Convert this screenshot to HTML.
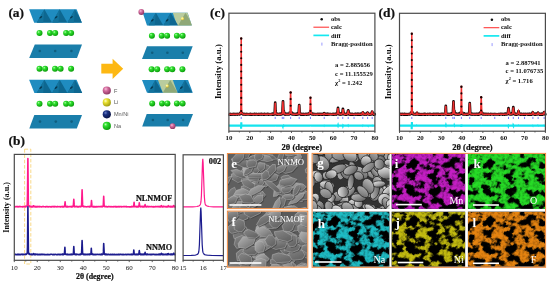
<!DOCTYPE html><html><head><meta charset="utf-8"><title>figure</title><style>html,body{margin:0;padding:0;background:#fff;width:550px;height:284px;overflow:hidden}svg{display:block}</style></head><body>
<svg width="550" height="284" viewBox="0 0 550 284">
<defs>
<radialGradient id="gNa" cx="0.35" cy="0.32" r="0.7"><stop offset="0" stop-color="#b8ffb0"/><stop offset="0.3" stop-color="#30e030"/><stop offset="1" stop-color="#089a08"/></radialGradient>
<radialGradient id="gF" cx="0.38" cy="0.32" r="0.7"><stop offset="0" stop-color="#f6c0da"/><stop offset="0.35" stop-color="#d46c9e"/><stop offset="1" stop-color="#8a3560"/></radialGradient>
<radialGradient id="gLi" cx="0.35" cy="0.32" r="0.7"><stop offset="0" stop-color="#ffffc0"/><stop offset="0.35" stop-color="#e8e030"/><stop offset="1" stop-color="#a09a10"/></radialGradient>
<radialGradient id="gMn" cx="0.35" cy="0.32" r="0.7"><stop offset="0" stop-color="#6a80c8"/><stop offset="0.35" stop-color="#1a3080"/><stop offset="1" stop-color="#0a1446"/></radialGradient>
<radialGradient id="gLiS" cx="0.4" cy="0.35" r="0.7"><stop offset="0" stop-color="#ffffd0"/><stop offset="0.5" stop-color="#f0e060"/><stop offset="1" stop-color="#c0a830"/></radialGradient>
</defs>
<text x="8.4" y="16.9" font-family="'Liberation Serif', 'Times New Roman', serif" font-size="13.4" font-weight="bold" fill="#111" text-anchor="start"  stroke="#111" stroke-width="0.22">(a)</text>
<polygon points="29.1,9.2 76.6,9.2 81.9,22.7 34.2,22.7" fill="#1f8cc0"/>
<clipPath id="cl5"><polygon points="29.1,9.2 76.6,9.2 81.9,22.7 34.2,22.7"/></clipPath>
<g clip-path="url(#cl5)">
<polygon points="44.4,9.2 52.05,22.7 36.75,22.7" fill="#0e6790"/>
<polygon points="44.4,9.2 43.2,22.7 36.75,22.7" fill="#13739d"/>
<ellipse cx="40.8" cy="17.3" rx="1.7" ry="0.75" transform="rotate(-40 40.8 17.3)" fill="#07374e"/>
<polygon points="59.7,9.2 67.35,22.7 52.05,22.7" fill="#0e6790"/>
<polygon points="59.7,9.2 58.5,22.7 52.05,22.7" fill="#13739d"/>
<ellipse cx="56.1" cy="17.3" rx="1.7" ry="0.75" transform="rotate(-40 56.1 17.3)" fill="#07374e"/>
<polygon points="75,9.2 82.65,22.7 67.35,22.7" fill="#0e6790"/>
<polygon points="75,9.2 73.8,22.7 67.35,22.7" fill="#13739d"/>
<ellipse cx="71.4" cy="17.3" rx="1.7" ry="0.75" transform="rotate(-40 71.4 17.3)" fill="#07374e"/>
</g>
<circle cx="39.5" cy="33.1" r="3.0" fill="url(#gNa)"/>
<circle cx="50" cy="33.1" r="3.0" fill="url(#gNa)"/>
<circle cx="55.2" cy="33.1" r="3.0" fill="url(#gNa)"/>
<circle cx="66.1" cy="33.1" r="3.0" fill="url(#gNa)"/>
<circle cx="71.1" cy="33.1" r="3.0" fill="url(#gNa)"/>
<polygon points="34.8,44.5 82,44.5 77,58 29.2,58" fill="#1a7eaa"/>
<circle cx="39.8" cy="51" r="1.3" fill="#0f5878" opacity="0.85"/>
<circle cx="55.2" cy="51" r="1.3" fill="#0f5878" opacity="0.85"/>
<circle cx="71.4" cy="51" r="1.3" fill="#0f5878" opacity="0.85"/>
<circle cx="39.5" cy="68.8" r="3.0" fill="url(#gNa)"/>
<circle cx="45.1" cy="68.8" r="3.0" fill="url(#gNa)"/>
<circle cx="55" cy="68.8" r="3.0" fill="url(#gNa)"/>
<circle cx="60.6" cy="68.8" r="3.0" fill="url(#gNa)"/>
<circle cx="71.1" cy="68.8" r="3.0" fill="url(#gNa)"/>
<polygon points="29.1,79.7 76.6,79.7 82.2,92.9 34.4,92.9" fill="#1f8cc0"/>
<clipPath id="cl32"><polygon points="29.1,79.7 76.6,79.7 82.2,92.9 34.4,92.9"/></clipPath>
<g clip-path="url(#cl32)">
<polygon points="44.4,79.7 52.05,92.9 36.75,92.9" fill="#0e6790"/>
<polygon points="44.4,79.7 43.2,92.9 36.75,92.9" fill="#13739d"/>
<ellipse cx="40.8" cy="87.62" rx="1.7" ry="0.75" transform="rotate(-40 40.8 87.62)" fill="#07374e"/>
<polygon points="59.7,79.7 67.35,92.9 52.05,92.9" fill="#0e6790"/>
<polygon points="59.7,79.7 58.5,92.9 52.05,92.9" fill="#13739d"/>
<ellipse cx="56.1" cy="87.62" rx="1.7" ry="0.75" transform="rotate(-40 56.1 87.62)" fill="#07374e"/>
<polygon points="75,79.7 82.65,92.9 67.35,92.9" fill="#0e6790"/>
<polygon points="75,79.7 73.8,92.9 67.35,92.9" fill="#13739d"/>
<ellipse cx="71.4" cy="87.62" rx="1.7" ry="0.75" transform="rotate(-40 71.4 87.62)" fill="#07374e"/>
</g>
<circle cx="39.5" cy="103.8" r="3.0" fill="url(#gNa)"/>
<circle cx="50" cy="103.8" r="3.0" fill="url(#gNa)"/>
<circle cx="55.2" cy="103.8" r="3.0" fill="url(#gNa)"/>
<circle cx="66.1" cy="103.8" r="3.0" fill="url(#gNa)"/>
<circle cx="71.1" cy="103.8" r="3.0" fill="url(#gNa)"/>
<polygon points="34.3,114.9 82,114.9 76.8,128.4 29.3,128.4" fill="#1a7eaa"/>
<circle cx="40" cy="121.6" r="1.3" fill="#0f5878" opacity="0.85"/>
<circle cx="55.8" cy="121.6" r="1.3" fill="#0f5878" opacity="0.85"/>
<circle cx="71.6" cy="121.6" r="1.3" fill="#0f5878" opacity="0.85"/>
<polygon points="142.7,12.7 187.6,12.7 191.8,25.4 147,25.4" fill="#1f8cc0"/>
<polygon points="172.8,12.7 187.6,12.7 191.8,25.4 177,25.4" fill="#b9cc9e"/>
<clipPath id="cl55"><polygon points="142.7,12.7 187.6,12.7 191.8,25.4 147,25.4"/></clipPath>
<g clip-path="url(#cl55)">
<polygon points="155.9,12.7 163.3,25.4 148.5,25.4" fill="#0e6790"/>
<polygon points="155.9,12.7 154.7,25.4 148.5,25.4" fill="#13739d"/>
<ellipse cx="152.3" cy="20.32" rx="1.7" ry="0.75" transform="rotate(-40 152.3 20.32)" fill="#07374e"/>
<polygon points="170.7,12.7 178.1,25.4 163.3,25.4" fill="#0e6790"/>
<polygon points="170.7,12.7 169.5,25.4 163.3,25.4" fill="#13739d"/>
<ellipse cx="167.1" cy="20.32" rx="1.7" ry="0.75" transform="rotate(-40 167.1 20.32)" fill="#07374e"/>
<polygon points="185.5,12.7 192.9,25.4 178.1,25.4" fill="#8fa877"/>
<circle cx="182.5" cy="18.67" r="1.7" fill="url(#gLiS)"/>
</g>
<circle cx="141.3" cy="12" r="2.9" fill="url(#gF)"/>
<circle cx="151.9" cy="35.7" r="3.0" fill="url(#gNa)"/>
<circle cx="161.7" cy="35.7" r="3.0" fill="url(#gNa)"/>
<circle cx="167.1" cy="35.7" r="3.0" fill="url(#gNa)"/>
<circle cx="176.9" cy="35.7" r="3.0" fill="url(#gNa)"/>
<circle cx="182.6" cy="35.7" r="3.0" fill="url(#gNa)"/>
<polygon points="147,46.3 192.7,46.3 187.8,59 142,59" fill="#1a7eaa"/>
<circle cx="152.2" cy="52.7" r="1.3" fill="#0f5878" opacity="0.85"/>
<circle cx="167.4" cy="52.7" r="1.3" fill="#0f5878" opacity="0.85"/>
<circle cx="182.8" cy="52.7" r="1.3" fill="#0f5878" opacity="0.85"/>
<circle cx="151.6" cy="69.3" r="3.0" fill="url(#gNa)"/>
<circle cx="157.2" cy="69.3" r="3.0" fill="url(#gNa)"/>
<circle cx="167.1" cy="69.3" r="3.0" fill="url(#gNa)"/>
<circle cx="172.3" cy="69.3" r="3.0" fill="url(#gNa)"/>
<circle cx="182.4" cy="69.3" r="3.0" fill="url(#gNa)"/>
<polygon points="142,80 188.1,80 192.8,92.7 147,92.7" fill="#1f8cc0"/>
<polygon points="158,80 172.8,80 177.5,92.7 162.8,92.7" fill="#b9cc9e"/>
<clipPath id="cl83"><polygon points="142,80 188.1,80 192.8,92.7 147,92.7"/></clipPath>
<g clip-path="url(#cl83)">
<polygon points="155.4,80 162.8,92.7 148,92.7" fill="#0e6790"/>
<polygon points="155.4,80 154.2,92.7 148,92.7" fill="#13739d"/>
<ellipse cx="151.8" cy="87.62" rx="1.7" ry="0.75" transform="rotate(-40 151.8 87.62)" fill="#07374e"/>
<polygon points="170.2,80 177.6,92.7 162.8,92.7" fill="#8fa877"/>
<circle cx="167.2" cy="85.97" r="1.7" fill="url(#gLiS)"/>
<polygon points="185,80 192.4,92.7 177.6,92.7" fill="#0e6790"/>
<polygon points="185,80 183.8,92.7 177.6,92.7" fill="#13739d"/>
<ellipse cx="181.4" cy="87.62" rx="1.7" ry="0.75" transform="rotate(-40 181.4 87.62)" fill="#07374e"/>
</g>
<circle cx="152.2" cy="103.4" r="3.0" fill="url(#gNa)"/>
<circle cx="162" cy="103.4" r="3.0" fill="url(#gNa)"/>
<circle cx="167.4" cy="103.4" r="3.0" fill="url(#gNa)"/>
<circle cx="176.9" cy="103.4" r="3.0" fill="url(#gNa)"/>
<circle cx="182.6" cy="103.4" r="3.0" fill="url(#gNa)"/>
<polygon points="146.7,113.9 193,113.9 188,126.6 142.2,126.6" fill="#1a7eaa"/>
<circle cx="152.9" cy="120" r="1.3" fill="#0f5878" opacity="0.85"/>
<circle cx="167.7" cy="120" r="1.3" fill="#0f5878" opacity="0.85"/>
<circle cx="183.1" cy="120" r="1.3" fill="#0f5878" opacity="0.85"/>
<circle cx="172.6" cy="126.2" r="2.9" fill="url(#gF)"/>
<polygon points="101.3,63.7 112.6,63.7 112.6,58.7 123.2,68.7 112.6,78.9 112.6,73.5 101.3,73.5" fill="#fdb813"/>
<circle cx="106.8" cy="90.5" r="4.1" fill="url(#gF)"/>
<text x="113.9" y="92.5" font-family="'Liberation Sans', Arial, sans-serif" font-size="5.6" font-weight="normal" fill="#5a5a5a" text-anchor="start" >F</text>
<circle cx="106.8" cy="102.4" r="4.1" fill="url(#gLi)"/>
<text x="113.9" y="104.4" font-family="'Liberation Sans', Arial, sans-serif" font-size="5.6" font-weight="normal" fill="#5a5a5a" text-anchor="start" >Li</text>
<circle cx="106.8" cy="114.3" r="4.1" fill="url(#gMn)"/>
<text x="113.9" y="116.3" font-family="'Liberation Sans', Arial, sans-serif" font-size="5.6" font-weight="normal" fill="#5a5a5a" text-anchor="start" >Mn/Ni</text>
<circle cx="106.8" cy="125.9" r="4.1" fill="url(#gNa)"/>
<text x="113.9" y="127.9" font-family="'Liberation Sans', Arial, sans-serif" font-size="5.6" font-weight="normal" fill="#5a5a5a" text-anchor="start" >Na</text>
<text x="210" y="16.95" font-family="'Liberation Serif', 'Times New Roman', serif" font-size="13.4" font-weight="bold" fill="#111" text-anchor="start"  stroke="#111" stroke-width="0.22">(c)</text>
<path d="M228.9,114.1 229.1,114.3 229.3,114.2 229.7,114.4 230.2,114 230.4,114.5 230.6,114.1 230.8,114.1 231,114.6 231.2,114.3 231.4,114.5 231.6,114.3 231.8,114.4 232,114.1 232.4,114.5 232.7,114.3 233.1,114.4 233.3,114 233.5,114.4 234.1,114 234.3,114.5 234.5,114.3 235.4,114.5 235.6,114.2 235.8,114.5 236,114.2 236.2,114.5 236.4,114.5 236.6,114 237,114.1 237.2,114.5 237.5,114.2 237.7,114.3 237.9,114.1 238.5,114.1 239.1,114.4 239.2,114.2 239.3,114.4 239.4,113.9 239.5,114.4 239.7,113.9 239.7,114.2 239.8,113.7 239.9,114.2 240,113.6 240,114 240.1,113.6 240.2,113.9 240.3,113.2 240.4,113.5 240.4,113.2 240.5,113.4 240.7,112M241.7,112.2 242,113.4 242.1,113.2 242.3,113.9 242.4,113.6 242.5,114.2 242.5,113.8 242.6,114 242.7,113.9 242.8,114.1 242.9,114 243,114.3 243,113.8 243.2,114.3 243.3,114 243.9,114.3 244.1,114 244.5,114.1 244.8,114.4 245,114.2 245.2,114.5 245.4,114.1 246,114.5 246.6,114 246.8,114.3 247,114.1 247.3,114.5 247.5,114.5 247.7,114.1 248.1,114.5 248.5,114.5 248.9,114.1 249.3,114.5 249.5,114.2 250.4,114.2 250.6,114.5 251,114 251.2,114.6 251.6,114.6 251.8,114.3 252.1,114.6 252.3,114.5 252.5,114.1 252.9,114.5 254.1,114 254.3,114.3 254.6,114.2 254.8,114.5 255,114 255.2,114.5 255.4,114.4 256,114.5 256.4,114 256.6,114.4 256.8,114.1 257.3,114.4 257.7,114.2 257.9,114.6 258.3,114.2 258.5,114.1 258.7,114.5 258.9,114.3 259.1,114.5 259.6,114.1 260,114.5 260.2,114.1 260.6,114.5 261,114.5 261.2,114 261.6,114.5 261.9,114 263.1,114.5 263.3,114 264.1,114 264.4,114.6 264.8,114 265,114.3 265.4,114.2 265.8,114.4 266.9,114.1 267.3,114.4 267.7,114 268.5,114.5 268.7,114.2 268.9,114.5 269.6,114.2 270.4,114.4 270.8,114.1 271.2,114.4 271.4,114 272.3,114.5 272.6,114 272.6,114.5 272.8,114.4 272.9,114 272.9,114.3 273,114 273.1,114.4 273.1,114 273.2,114.5 273.3,114 273.4,114.4 273.4,114 273.6,114.5 273.7,113.9 273.7,114.4 273.9,113.9 274,114.4 274,113.9 274.1,114.3 274.2,114 274.3,114.2 274.6,113.5 274.7,113.8 274.7,113.1 275.2,102.7 275.5,111 275.9,114.1 276,113.7 276.3,114.3 276.3,113.9 276.4,114.4 276.4,114.1 276.5,114.4 276.7,114.2 276.7,114.4 276.8,114.1 276.9,114.5 277,114.1 277.1,114.5 277.2,114.1 277.5,114.5 277.5,114.1 277.5,114.5 277.7,114 277.8,114.5 278,114 278.1,114.2 278.5,114.1 279,114.5 279.2,114.2 279.4,114.3 279.6,114 279.9,114.4 279.9,114 280,114.5 280,114 280.1,114.5 280.1,114.2 280.2,114.4 280.2,114.1 280.4,114.4 280.4,114.1 280.5,114.5 280.6,114 280.8,114.4 280.9,114 281,114.3 281,114 281,114.4 281.1,114 281.2,114.5 281.2,114 281.3,114.3 281.6,113.9 281.6,114.3 281.8,113.9 281.9,114.3 282,113.7 282.1,114.1 282.4,113.3 283,101.4 283.4,111.8 283.4,112.1 283.7,110.8 283.8,111 284.1,113.1 284.5,114.3 284.7,113.9 284.9,114.4 285,114 285.2,114.5 285.3,114.1 285.4,114.5 285.5,114.2 285.5,114.4 285.6,113.9 285.8,114.3 286,114.1 286.1,114.4 286.2,114 286.2,114.5 286.5,113.9 286.6,114.4 286.6,114 286.7,114.2 286.7,114.1 286.8,114.2 287.3,114 287.4,114.2 287.5,113.9 287.6,114.3 287.8,113.9 287.8,114.5 287.9,114 288.1,114.3 288.2,113.9 288.4,114.4 288.4,114.1 288.6,114.4 288.7,113.9 288.8,114.4 288.8,113.8 289,113.8 289.1,114.3 289.2,113.9 289.2,114.3 289.3,114 289.4,114.2 289.4,113.7 289.6,114.1 289.6,113.6 289.7,114 289.7,113.5 289.9,113.6 290.1,111.4M291.1,111.3 291.5,113.9 291.5,113.4 291.7,113.9 291.8,113.6 291.9,114 291.9,113.7 292,114.3 292.1,113.9 292.3,114.3 292.4,113.9 292.5,114.3 292.6,113.9 292.6,114.4 292.7,113.9 292.8,114.4 292.9,114.3 293,114.4 293.2,114 293.2,114.4 293.3,114 293.5,114.4 293.6,114 293.7,114.4 293.9,114.1 294.2,114.5 294.4,114.1 294.6,114.2 294.8,114 295.2,114.1 295.4,114.5 295.6,114.4 295.7,114.5 295.8,114.3 295.8,114.5 295.9,114.2 296,114.5 296.1,114.2 296.2,114.5 296.4,114 296.4,114.4 296.6,114 296.6,114.4 296.7,114.1 296.9,114.4 297.1,114 297.3,114.5 297.4,114 297.5,114.2 297.6,114.1 297.6,114.4 297.7,114 297.8,114.4 297.9,114 297.9,114.3 298,113.8 298.1,114.1 298.2,113.8 298.4,114.2 298.7,112.3 299.2,105 299.7,113.3 299.9,114 300.1,113.8 300.2,114.4 300.4,114 300.5,114.4 300.6,114 300.8,114.5 300.9,113.9 300.9,114.3 301.1,114.1 301.1,114.5 301.2,114 301.4,114.5 301.5,114.1 301.5,114.5 301.6,114.1 301.6,114.4 301.7,114.1 301.8,114.5 302,114 302.1,114.5 302.1,114 302.4,114.5 302.5,114 302.6,114.5 302.6,114 302.7,114.3 302.7,114.1 302.9,114.3 303.2,114 303.6,114.5 303.8,114.1 304,114.5 304.2,114.1 304.4,114.6 305.2,114 305.4,114.4 305.7,114.1 305.9,114.1 306.1,114.5 306.3,114.5 306.5,114 306.7,114.5 306.8,114 306.9,114.5 306.9,114 307.1,114.5 307.2,114 307.3,114.5 307.4,114.1 307.4,114.5 307.6,113.9 307.7,114.4 307.9,114.2 308,114.4 308,114 308.1,114.5 308.2,114 308.2,114.5 308.4,113.9 308.5,114.4 308.7,113.8 308.8,114.4 308.9,113.8 309,114.1 309.1,113.8 309.1,114.1 309.3,113.8 309.4,114.1 309.6,113.5 309.6,113.8 309.9,112M311,111.9 311.2,113.4 311.3,113.3 311.4,113.8 311.5,113.6 311.5,113.8 311.6,113.6 311.7,114.2 311.7,114 311.9,114.3 312,113.9 312.1,114.3 312.1,114 312.2,114.4 312.3,114 312.3,114.3 312.5,113.9 312.6,114.4 312.6,114 312.9,114.3 313,114 313,114.5 313.1,114 313.2,114.5 313.3,113.9 313.4,114.5 313.5,114.1 313.6,114.5 313.7,114 313.8,114.3 313.8,114 313.9,114.5 314,114 314.1,114.5 314.2,114.1 314.2,114.5 314.8,114.1 315.2,114.5 315.5,114.1 315.7,114.3 316.1,114.2 316.3,114.4 316.7,114.5 317.3,114 317.5,114.2 318,114.1 318.2,114.5 318.4,114.1 318.8,114.6 319,114.1 319.2,114.5 319.4,114.2 320,114 320.2,114.5 320.3,114 320.5,114.4 320.6,114.1 320.8,114.4 321,114.1 321,114.4 321.3,114 321.3,114.5 321.5,114.1 321.5,114.5 321.6,114.1 321.8,114.6 321.8,114.1 321.9,114.4 322,114.1 322.3,114.5 322.3,114.3 322.4,114.5 322.5,114 322.5,114.4 322.6,114.2 322.8,114.6 323,114 323,114.4 323.2,114.1 323.3,114.4 323.4,114 323.5,114.3 323.5,114 323.7,114.1 324,113.4 324.1,113.8 324.3,113.2 324.4,113.9 324.4,113.4 324.5,114 324.6,113.8 324.6,114.3 324.7,113.8 325,114.5 325.1,114 325.3,114.6 325.4,114.1 325.6,114.5 325.8,114.2 325.8,114.5 325.8,114.1 325.9,114.3 326,114 326.3,114.6 326.4,114 326.6,114.5 326.6,114.1 326.7,114.6 326.8,114.1 326.9,114.4 327.1,114.1 327.1,114.5 327.2,114 327.4,114.6 327.6,114 327.7,114.4 327.8,114 327.9,114.6 327.9,114.1 328,114.5 328.2,114.1 328.3,114.5 328.4,114.1 328.6,114.2 328.8,114 329.2,114.3 329.6,114.3 330.1,114 330.7,114.1 330.9,114.3 331.1,114.1 331.3,114.4 331.9,114.4 332.8,114 333,114.5 333.4,114 333.4,114.5 333.6,114.1 333.6,114.6 333.7,114.1 333.8,114.6 333.8,114.1 334,114.5 334.1,114 334.3,114.5 334.3,114 334.4,114.4 334.6,114.1 334.6,114.3 334.6,114 334.7,114.5 334.7,114 334.8,114.5 334.8,114.1 335,114.4 335.1,114 335.2,114.5 335.3,114 335.4,114.5 335.4,114.2 335.5,114.4 335.6,114.2 335.6,114.3 335.7,114 335.8,114.4 335.9,114.1 336.1,114.5 336.2,113.9 336.4,114.3 336.5,113.9 336.6,114.2 336.6,114 336.6,114.4 336.8,113.8 336.9,114.2 337.3,113.6 338,107.9 338.6,113.6 338.7,113.3 338.9,114.2 339,113.8 339,114.3 339.1,113.9 339.2,114.4 339.2,113.9 339.2,114.4 339.4,114 339.4,114.2 339.6,114.1 339.7,114.4 339.8,113.9 339.9,114 339.9,114.5 340.2,113.9 340.4,114.5 340.4,114 340.4,114.5 340.6,114 340.6,114.5 340.9,114 340.9,114.3 340.9,113.9 341,114.4 341.2,114 341.4,114.3 341.6,113.9 341.7,114.3 341.8,114 341.9,114.3 342,113.7 342.1,114 342.3,113.7 342.3,113.2 342.4,113.5 342.9,108.8 343.7,113.7 343.7,113.4 343.8,114.1 343.9,113.7 344,114.2 344.1,113.8 344.2,114.4 344.4,113.9 344.4,114.4 344.6,114 344.7,114.4 344.8,114 344.9,114.4 345.1,114.1 345.2,114.4 345.3,114 345.3,114.5 345.4,114.2 345.5,114.5 345.6,114 345.8,114.5 345.9,114.2 346.1,114.2 346.2,114.4 346.2,114 346.3,114.4 346.4,114 346.5,114.3 346.6,114 346.7,114.2 346.7,113.9 346.9,114.5 346.9,114.1 347,114 347.1,114.3 347.3,113.7 347.3,114.2 347.6,113.7 348,110.7 348.1,111 348.3,110.3 349,114 349.1,114.3 349.2,113.9 349.3,114.3 349.3,113.9 349.4,114.3 349.4,114.1 349.6,114.4 349.6,113.9 349.9,114.5 350,114.2 350.1,114.4 350.3,114.1 350.3,114.5 350.4,114 350.6,114.5 350.7,114.3 350.8,114.5 350.8,114.1 351,114.6 351.1,114.1 351.3,114.5 351.4,114.2 351.4,114.5 351.5,114.2 351.6,114.4 351.7,114.1 351.7,114.6 351.9,114.1 352,114.5 352.1,114.1 352.1,114.4 352.2,114.2 352.4,114.6 352.5,114.1 352.5,114.6 352.7,114 352.7,114.5 353,114.1 353.2,114.5 353.6,114.3 353.8,114.4 354,114.2 354.3,114.3 354.5,114.1 354.7,114.5 355.1,114.4 355.3,114 355.5,114.5 355.7,114 355.9,114.3 356.3,114 356.8,114.5 357.2,114.2 357.4,114.5 357.6,114.2 357.6,114.5 357.7,114 357.8,114.6 357.8,114 357.9,114.5 357.9,114.1 358,114.5 358.1,114.2 358.2,114.5 358.3,114.2 358.4,114.6 358.5,114 358.6,114.5 358.8,114.1 358.8,114.6 358.8,114.3 358.9,114.5 359,114.1 359,114.5 359.1,114 359.3,114.5 359.4,114 359.5,114.5 359.6,114.1 359.8,114.5 359.8,114 359.8,114.5 360,114 360.1,114.4 360.1,114 360.2,114.4 360.4,114.3 360.4,114.5 360.6,114 360.7,114.2 360.8,114 360.8,114.6 361,114.1 361,114.5 361.1,114 361.2,114.5 361.4,114 361.5,114.4 361.6,114 361.6,114.5 361.6,113.9 361.7,114.5 361.7,114 361.8,114.4 362,114 362,114.2 362.1,113.8 362.1,114.2 362.2,113.5 362.2,114 362.3,113.3 362.4,113.1 362.5,113.3 362.8,112.3 363.3,113.3 363.3,113.9 363.4,113.7 363.5,114.2 363.7,113.9 363.9,114.4 364,114 364.1,114.5 364.2,113.9 364.3,114.5 364.3,114.2 364.6,114.5 364.7,114.1 364.8,114.5 364.9,114 364.9,114.5 365.1,114 365.2,114.5 365.3,114 365.5,114.4 365.6,114.1 365.7,114.4 365.8,114 366.1,114.5 366.2,113.9 366.2,114.5 366.3,114 366.4,114.3 366.4,114 366.6,114.4 366.8,114 366.8,114.1 367,114 367.1,113.6 367.1,113.9 367.2,113.2 367.3,113.6 367.5,112.6 367.6,113.1 367.6,112.8 367.7,113.2 367.7,112.8 367.8,113.3 367.9,113.1 368.3,114.2 368.3,113.9 368.4,114.3 368.5,113.9 368.6,114.4 368.8,114 368.8,114.4 368.9,114 369,114.5 369.1,114 369.1,114.3 369.3,114.1 369.4,114.5 369.5,114.1 369.5,114.5 369.6,114.1 369.7,114.5 369.8,114 369.9,114.5 370.1,114 370.1,114.5 370.2,114 370.3,114.5 370.3,114 370.4,114.5 370.5,114.1 370.6,114.5 370.8,114 370.8,114.3 371,114 371.1,114.4 371.1,113.9 371.2,114.4 371.4,113.7 371.4,114 371.5,113.6 371.5,113.9 372.1,111.7 372.2,112.1 372.3,111.8 372.3,112.3 372.4,111.9 372.4,112.1 372.5,112.9 372.6,113.3 372.7,113.1 373,114.1 373.1,113.9 373.1,114.2 373.2,113.8 373.4,114.3 373.4,114.1 373.5,114.5 373.6,114 373.9,114.5 374,114.1 374.1,114.3 374.2,114.1 374.3,114.4 374.4,114.2 374.5,114.4 374.5,114 374.7,114.5 374.8,114 374.9,114.2" fill="none" stroke="#1a0808" stroke-width="2.7" stroke-linejoin="round"/>
<polyline points="228.9,114.3 236.8,114.3 239.2,114.1 239.8,114 240.2,113.7 240.5,113.2 240.6,112.4 240.8,109.8 240.9,102.2 241.2,37.5 241.6,107.8 241.8,112.4 242,113.4 242.5,113.9 243.7,114.2 247.3,114.3 271,114.3 274.2,114.1 274.6,113.8 274.8,112.7 275.2,102.7 275.6,111.8 275.9,113.9 276.3,114.1 277.3,114.2 280.4,114.2 281.8,114.1 282.2,113.7 282.4,112.6 282.9,101.4 283.4,111.4 283.5,111.9 283.8,111 284.3,113.9 284.7,114.1 286,114.2 288.3,114.2 289.4,114 289.7,113.7 289.9,113.3 290.1,111.5 290.6,91.5 291.2,111.8 291.4,113.5 291.7,113.9 292.2,114.1 293.6,114.2 296.7,114.2 297.9,114.1 298.4,113.9 298.6,113.4 298.7,112.2 299.2,104.8 299.7,112.5 299.8,113.5 300,114 300.5,114.1 301.4,114.2 306.5,114.3 308.6,114.1 309.4,113.8 309.7,113.1 309.9,111.3 310.5,96.7 311.1,112.1 311.3,113.6 311.6,113.9 312,114.1 314.4,114.3 323.1,114.3 323.6,114.1 324.2,113.5 324.8,114.1 325.3,114.3 334.3,114.3 336.7,114.1 337.1,113.9 337.3,113.2 338,108.1 338.6,113.3 338.9,113.9 339.4,114.1 341.4,114.2 341.9,114.1 342.1,113.9 342.4,112.9 343,109 343.7,113.4 343.9,114 344.4,114.2 346.4,114.2 347.3,114 347.6,113.3 348.2,110.5 348.9,113.6 349.1,114 349.6,114.2 353.6,114.3 361.6,114.2 362.1,113.9 362.8,112.5 363.5,113.9 363.9,114.2 366.6,114.2 367,113.9 367.6,112.9 368.2,113.9 368.5,114.2 370.8,114.2 371.2,114.1 371.4,113.8 372.2,111.9 372.8,113.6 373.1,114 373.6,114.2 374.9,114.3" fill="none" stroke="#f03030" stroke-width="1.5"/>
<circle cx="241.21" cy="38.5" r="1.2" fill="#1a0000"/>
<circle cx="241.21" cy="45.1" r="1.05" fill="#1a0000"/>
<circle cx="241.21" cy="51.7" r="1.05" fill="#1a0000"/>
<circle cx="241.21" cy="58.3" r="1.05" fill="#1a0000"/>
<circle cx="241.21" cy="64.9" r="1.05" fill="#1a0000"/>
<circle cx="241.21" cy="71.5" r="1.05" fill="#1a0000"/>
<circle cx="241.21" cy="78.1" r="1.05" fill="#1a0000"/>
<circle cx="241.21" cy="84.7" r="1.05" fill="#1a0000"/>
<circle cx="241.21" cy="91.3" r="1.05" fill="#1a0000"/>
<circle cx="241.21" cy="97.9" r="1.05" fill="#1a0000"/>
<circle cx="241.21" cy="104.5" r="1.05" fill="#1a0000"/>
<circle cx="241.21" cy="111.1" r="1.05" fill="#1a0000"/>
<circle cx="290.64" cy="92.5" r="1.2" fill="#1a0000"/>
<circle cx="290.64" cy="99.1" r="1.05" fill="#1a0000"/>
<circle cx="290.64" cy="105.7" r="1.05" fill="#1a0000"/>
<circle cx="310.45" cy="97.7" r="1.2" fill="#1a0000"/>
<circle cx="310.45" cy="104.3" r="1.05" fill="#1a0000"/>
<circle cx="310.45" cy="110.9" r="1.05" fill="#1a0000"/>
<path d="M241.21,116.9v2.1M275.2,116.9v2.1M282.29,116.9v2.1M283.75,116.9v2.1M290.64,116.9v2.1M299.19,116.9v2.1M310.45,116.9v2.1M324.22,116.9v2.1M337.98,116.9v2.1M342.78,116.9v2.1M348.2,116.9v2.1M354.04,116.9v2.1M362.8,116.9v2.1M367.6,116.9v2.1M372.19,116.9v2.1" stroke="#5a5aff" stroke-width="0.8" fill="none"/>
<polyline points="228.9,125.6 240.9,125.6 241,125.8 241.1,128.8 241.3,122.3 241.4,125.3 241.5,125.6 241.6,125.6 241.9,125.6 242.9,125.6 243.4,125.6 243.5,125.6 243.7,125.6 243.8,125.6 243.9,125.6 246.8,125.6 247.1,125.6 247.2,125.6 248.7,125.6 249.3,125.6 250.1,125.6 250.1,125.6 250.3,125.6 250.4,125.6 251,125.6 251.4,125.6 251.5,125.6 251.6,125.6 251.8,125.6 254.1,125.6 256.1,125.6 256.6,125.6 256.9,125.6 258.2,125.6 258.6,125.6 259.4,125.6 259.4,125.6 260.4,125.6 261.5,125.6 261.6,125.6 261.8,125.6 262.1,125.6 262.2,125.6 262.5,125.6 262.6,125.6 262.7,125.6 263.7,125.6 264.3,125.6 265.1,125.6 265.2,125.6 265.7,125.6 267.8,125.6 268.2,125.6 269,125.6 269.3,125.6 272.4,125.6 272.7,125.6 272.9,125.6 273.9,125.6 274.2,125.6 274.2,125.6 274.5,125.6 274.7,125.6 275,125.6 275.1,126.1 275.3,125.1 275.4,125.5 275.7,125.6 282.6,125.6 282.8,126.1 283,125.1 283.1,125.6 283.7,125.7 283.8,125.4 284.2,125.6 284.7,125.6 286.8,125.6 287,125.6 287,125.6 287.2,125.6 287.3,125.6 288.3,125.6 289.2,125.6 289.4,125.6 289.8,125.6 289.8,125.6 290,125.6 290.2,125.6 290.3,125.6 290.3,125.6 290.6,126.5 290.7,124.6 290.9,125.6 293.3,125.6 293.4,125.6 294,125.6 294.3,125.6 294.8,125.6 295.1,125.6 295.3,125.6 296.2,125.6 296.9,125.6 297.1,125.6 297.4,125.6 297.4,125.6 297.6,125.6 297.7,125.6 298,125.6 298.5,125.6 298.6,125.6 299,125.6 299.1,126 299.3,125.2 299.4,125.6 299.7,125.6 299.7,125.6 299.9,125.6 300.9,125.6 301,125.6 301.6,125.6 302.3,125.6 302.4,125.6 303.2,125.6 303.4,125.6 303.5,125.6 303.7,125.6 304.3,125.6 304.9,125.6 305.1,125.6 305.2,125.6 305.8,125.6 307.6,125.6 307.7,125.6 307.8,125.6 308.9,125.6 309.4,125.6 310,125.6 310.2,125.6 310.4,126.3 310.5,124.9 310.7,125.5 311,125.6 311,125.6 311.8,125.6 311.9,125.6 312.6,125.6 313.2,125.6 316.1,125.6 317.5,125.6 317.6,125.6 317.7,125.6 317.9,125.6 319,125.6 320.9,125.6 321.5,125.6 321.7,125.6 321.7,125.6 323,125.6 324,125.6 324.1,125.7 324.3,125.5 324.7,125.6 324.8,125.6 324.8,125.6 326,125.6 326.4,125.6 326.9,125.6 327,125.6 327.2,125.6 327.3,125.6 327.6,125.6 328.2,125.6 328.6,125.6 328.6,125.6 330,125.6 330.3,125.6 333.2,125.6 333.6,125.6 334.1,125.6 334.6,125.6 335.1,125.6 335.2,125.6 335.2,125.6 336.2,125.6 337.3,125.6 337.4,125.6 337.7,125.6 337.9,125.9 338.1,125.3 338.2,125.6 342.8,125.6 342.9,125.9 343.1,125.4 343.3,125.6 343.9,125.6 344.1,125.6 347.9,125.6 348.1,125.8 348.3,125.4 348.5,125.6 349.2,125.6 349.8,125.6 351.2,125.6 351.5,125.6 354.7,125.6 355.5,125.6 355.8,125.6 356.4,125.6 356.5,125.6 356.7,125.6 357.4,125.6 358,125.6 358.8,125.6 359,125.6 359.1,125.6 359.2,125.6 360.3,125.6 360.4,125.6 360.9,125.6 361.3,125.6 361.4,125.6 361.5,125.6 362.3,125.6 362.6,125.6 362.7,125.7 362.9,125.5 363,125.6 363.4,125.6 363.7,125.6 363.8,125.6 363.8,125.6 365.2,125.6 365.6,125.6 365.8,125.6 366.1,125.6 366.2,125.6 366.5,125.6 367.4,125.6 367.6,125.7 367.6,125.6 368.9,125.6 369.4,125.6 369.6,125.6 370.7,125.6 371.9,125.6 371.9,125.6 372.1,125.7 372.3,125.5 372.7,125.6 374.9,125.6" fill="none" stroke="#14e4ee" stroke-width="2.1"/>
<circle cx="321.7" cy="19.2" r="1.25" fill="#111"/>
<line x1="313.4" y1="27.2" x2="329.1" y2="27.2" stroke="#ff3a3a" stroke-width="1.1"/>
<line x1="313.4" y1="35.4" x2="329.1" y2="35.4" stroke="#14e8f0" stroke-width="1.7"/>
<line x1="321.9" y1="42.6" x2="321.9" y2="45.6" stroke="#8080ff" stroke-width="0.8"/>
<text x="330.9" y="21.2" font-family="'Liberation Serif', 'Times New Roman', serif" font-size="6.6" font-weight="bold" fill="#111" text-anchor="start" >obs</text>
<text x="330.9" y="29.4" font-family="'Liberation Serif', 'Times New Roman', serif" font-size="6.6" font-weight="bold" fill="#111" text-anchor="start" >calc</text>
<text x="330.9" y="37.7" font-family="'Liberation Serif', 'Times New Roman', serif" font-size="6.6" font-weight="bold" fill="#111" text-anchor="start" >diff</text>
<text x="330.9" y="46" font-family="'Liberation Serif', 'Times New Roman', serif" font-size="6.6" font-weight="bold" fill="#111" text-anchor="start" >Bragg-position</text>
<text x="335.1" y="67" font-family="'Liberation Serif', 'Times New Roman', serif" font-size="6.6" font-weight="bold" fill="#111" text-anchor="start" >a = 2.885656</text>
<text x="335.1" y="75.7" font-family="'Liberation Serif', 'Times New Roman', serif" font-size="6.6" font-weight="bold" fill="#111" text-anchor="start" >c = 11.155529</text>
<text x="335.1" y="84.9" font-family="'Liberation Serif', 'Times New Roman', serif" font-size="6.6" font-weight="bold" fill="#111">&#967;<tspan font-size="4.3" dy="-2.9">2</tspan><tspan dy="2.9"> = 1.242</tspan></text>
<rect x="228.9" y="13.2" width="146" height="118" fill="none" stroke="#4a4a4a" stroke-width="1.2"/>
<text x="228.9" y="140.4" font-family="'Liberation Serif', 'Times New Roman', serif" font-size="6.9" font-weight="bold" fill="#111" text-anchor="middle" >10</text>
<text x="249.76" y="140.4" font-family="'Liberation Serif', 'Times New Roman', serif" font-size="6.9" font-weight="bold" fill="#111" text-anchor="middle" >20</text>
<text x="270.61" y="140.4" font-family="'Liberation Serif', 'Times New Roman', serif" font-size="6.9" font-weight="bold" fill="#111" text-anchor="middle" >30</text>
<text x="291.47" y="140.4" font-family="'Liberation Serif', 'Times New Roman', serif" font-size="6.9" font-weight="bold" fill="#111" text-anchor="middle" >40</text>
<text x="312.33" y="140.4" font-family="'Liberation Serif', 'Times New Roman', serif" font-size="6.9" font-weight="bold" fill="#111" text-anchor="middle" >50</text>
<text x="333.19" y="140.4" font-family="'Liberation Serif', 'Times New Roman', serif" font-size="6.9" font-weight="bold" fill="#111" text-anchor="middle" >60</text>
<text x="354.04" y="140.4" font-family="'Liberation Serif', 'Times New Roman', serif" font-size="6.9" font-weight="bold" fill="#111" text-anchor="middle" >70</text>
<text x="374.9" y="140.4" font-family="'Liberation Serif', 'Times New Roman', serif" font-size="6.9" font-weight="bold" fill="#111" text-anchor="middle" >80</text>
<path d="M228.9,131.2v1.8M239.33,131.2v1.26M249.76,131.2v1.8M260.19,131.2v1.26M270.61,131.2v1.8M281.04,131.2v1.26M291.47,131.2v1.8M301.9,131.2v1.26M312.33,131.2v1.8M322.76,131.2v1.26M333.19,131.2v1.8M343.61,131.2v1.26M354.04,131.2v1.8M364.47,131.2v1.26M374.9,131.2v1.8" stroke="#4a4a4a" stroke-width="0.9" fill="none"/>
<text x="301.8" y="149.6" font-family="'Liberation Serif', 'Times New Roman', serif" font-size="8.5" font-weight="bold" fill="#111" text-anchor="middle"  stroke="#111" stroke-width="0.22">2&#952; (degree)</text>
<text transform="translate(220.9,71.6) rotate(-90)" font-family="'Liberation Serif', 'Times New Roman', serif" font-size="8.8" font-weight="bold" fill="#111" text-anchor="middle">Intensity (a.u.)</text>
<text x="378.6" y="16.95" font-family="'Liberation Serif', 'Times New Roman', serif" font-size="13.4" font-weight="bold" fill="#111" text-anchor="start"  stroke="#111" stroke-width="0.22">(d)</text>
<path d="M399.5,114.4 400.5,114.5 400.8,114 401.2,114.6 401.4,114.4 401.6,114.5 401.8,114.1 402,114.3 402.2,114.1 402.6,114.3 402.8,114 403.3,114.2 403.5,114.5 403.9,114.1 404.1,114.5 404.3,114.1 404.5,114.4 404.9,114 405.1,114.5 405.3,114.1 405.5,114.1 405.8,114.6 406.2,114.2 406.4,114.6 407,114.1 407.2,114.5 407.4,114.4 407.6,114.5 408,114.1 408.9,114 409.3,114.3 409.5,113.9 409.7,114.3 409.8,114 409.9,114.3 410.1,113.8 410.1,114.3 410.2,113.8 410.3,114.2 410.3,113.7 410.3,114.2 410.5,113.6 410.6,114.1 410.6,113.6 410.7,114 411,113.1 411,113.4 411.1,113.2 411.3,111.4M412.3,111.4 412.5,113.3 412.6,113.4 412.6,113.1 412.9,114 413,113.8 413.1,114 413.3,113.8 413.3,114.3 413.5,113.8 413.7,114.3 413.7,114 413.8,114.3 414.3,114.3 414.5,114.1 414.7,114.3 414.9,114.1 415,114.4 415.1,114.1 415.1,114.5 415.3,113.9 415.5,114.4 415.6,114.2 415.7,114.4 415.8,114.2 416,114.5 416.1,114 416.2,114.5 416.4,114 416.4,114.4 416.5,114.2 416.6,114.3 417,112.9 417.3,113.8 417.5,114.3 417.6,114.1 417.6,114.5 417.7,114 417.7,114.2 417.8,114 417.9,114.5 418.1,114 418.2,114.5 418.5,114.1 418.6,114.6 418.7,114.2 418.8,114.5 418.8,114 419.1,114.5 419.1,114.2 419.5,114.1 419.7,114.2 419.9,114.6 420.1,114.2 420.3,114.6 421,114.1 421.2,114.6 421.4,114.3 421.8,114.2 422,114.6 422.2,114.3 422.6,114.3 422.8,114.1 423.1,114.4 423.5,114.2 423.9,114.5 424.1,114 424.3,114.3 424.5,114.2 424.7,114.6 425.1,114.1 425.6,114.1 425.8,114.6 426,114.2 426.2,114.4 427,114.4 427.2,114.1 427.4,114.5 427.6,114.2 427.8,114.3 428.9,114.2 429.1,114.4 429.5,114 430.1,114.5 430.3,114.5 430.8,114 431,114.5 431.2,114.3 431.6,114.4 432,114.3 432.2,114.5 432.4,114.2 432.8,114.5 433.1,114.1 433.5,114.5 433.7,114 433.9,114.5 434.5,114.2 434.9,114.5 435.1,114.1 435.6,114.3 436.2,114.1 436.6,114.5 436.8,114 437.2,114.5 437.4,114.5 437.9,114 438.1,114.4 438.5,114.6 438.9,114 439.1,114.5 439.3,114.1 439.7,114.6 440.1,114.1 440.6,114.5 440.8,114.1 441,114.4 441.4,114.1 441.6,114.4 441.8,114 442.2,114.2 442.6,114 443,114.5 443,114.1 443.2,114.5 443.3,114 443.5,114.5 443.6,114.1 443.8,114.4 443.9,114 444,114.4 444,114.1 444.1,114.4 444.1,114 444.2,114.3 444.2,114 444.4,114.4 444.5,114.1 444.5,114.4 444.6,113.9 444.7,114.4 444.9,113.9 444.9,114.4 445,113.8 445.1,114.1 445.2,113.8 445.4,112.7 445.8,105.8 446.2,113.2 446.6,114.3 446.6,113.9 446.9,114.2 446.9,113.9 446.9,114.4 447,114.1 447,114.5 447.1,114.2 447.2,114.5 447.2,114 447.4,114.4 447.5,114 447.7,114.5 447.7,114.2 447.9,114.1 447.9,114.4 448,114.1 448.2,114.5 448.3,114 448.4,114.4 448.4,114 448.5,114.6 448.7,114 448.9,114 449.1,114.5 449.3,114.3 449.5,114.5 449.7,114 450.1,114 450.4,114.2 450.4,114 450.5,114.2 450.6,114 450.7,114.5 450.7,114.1 450.9,114.3 451,114 451.1,114.5 451.2,113.9 451.5,114.5 451.7,114 451.9,114.4 452,113.9 452.2,114.2 452.3,113.8 452.3,114.2 452.4,113.8 452.5,114 452.5,113.8 452.7,114.1 452.9,113.3 453.5,101.3 453.9,111.3 454,111.8 454.4,110.8 454.7,113.4 454.9,114.3 455,113.8 455.2,114.4 455.2,113.9 455.4,114.4 455.4,114 455.7,114.3 455.8,114 455.8,114.5 456,114 456.1,114.4 456.2,113.9 456.3,114.5 456.4,114 456.5,114.4 456.7,113.9 456.8,114.3 456.9,113.9 457.2,114.5 457.7,114.1 458.1,114.3 458.2,114 458.4,114.4 458.4,114.1 458.5,114.5 458.6,113.9 458.7,114.5 459,114 459.2,114.4 459.3,113.8 459.4,114.4 459.6,113.9 459.7,114.2 459.8,114 459.8,114.3 459.9,113.9 460,114.2 460.1,113.7 460.2,114.1 460.2,113.6 460.3,114 460.5,113.5 460.6,113.7 460.8,111.6M462,111.6 462.3,113.8 462.4,113.9 462.4,113.4 462.7,114.1 462.7,113.7 462.8,114 462.9,113.8 463.1,114.3 463.2,113.8 463.2,114.3 463.4,113.9 463.5,114.4 463.6,114 463.7,114.3 463.9,114.1 463.9,114.4 464,113.9 464.1,114.3 464.2,114 464.3,114.5 464.5,114 464.6,114.4 464.6,113.9 464.7,114.4 464.7,113.9 465.6,114.3 465.8,114 466.2,114.5 466.3,114 466.4,114.5 466.5,114 466.7,114.5 466.9,114 466.9,114.4 467,114.2 467.1,114.5 467.2,114.2 467.2,114.5 467.3,114 467.5,114.5 467.5,114 467.7,114.3 467.9,113.9 468,114.4 468.1,113.9 468.2,114.4 468.3,113.9 468.4,114.4 468.4,113.8 468.6,114.2 468.7,113.8 468.8,114.2 469.2,113.1 469.7,103.2 470.2,112.1 470.6,114.1 470.6,113.7 470.8,114.3 470.9,114 470.9,114.3 471,113.9 471.1,114.2 471.2,113.9 471.4,114 471.4,114.5 471.5,114 471.5,114.4 471.6,114.1 471.7,114.4 471.9,114.1 472,114.5 472,114 472.2,114.4 472.2,113.9 472.4,114.5 472.5,114 472.6,114.4 472.7,114.1 472.7,114.5 472.8,114 472.9,114.4 473,114 473.1,114.5 473.2,114 473.2,114.5 473.3,114 473.5,114.4 474.1,114 474.3,114.4 474.5,114.3 474.7,114.5 475.2,114.1 475.6,114.1 475.8,114.5 476.2,114 476.4,114.2 476.6,114 477.2,114.3 477.5,114 477.7,114.5 477.7,114 477.9,114.5 478,114.2 478.1,114.4 478.2,114 478.3,114.5 478.3,114.1 478.5,114.5 478.5,114 478.5,114.4 478.6,114 478.7,114.4 478.8,113.9 478.8,114.5 478.9,114.1 479,114.3 479.2,113.9 479.3,114.4 479.3,113.9 479.5,114.4 479.7,113.8 480,114.2 480.2,113.5 480.3,114 480.7,111.4M481.7,111.5 482,113.6 482,113.3 482.1,113.7 482.1,113.4 482.2,113.8 482.3,113.6 482.3,114 482.4,113.7 482.4,114.1 482.5,113.9 482.7,114.3 482.7,113.9 482.8,114.3 482.8,113.9 483,114.4 483,113.9 483.1,114.3 483.2,113.9 483.2,114.4 483.2,114.1 483.3,114.4 483.5,114.1 483.7,114.4 483.8,113.9 483.9,114.4 484,114 484,114.2 484.2,114.1 484.2,114.5 484.3,114.1 484.3,114.4 484.6,114 484.7,114.4 484.8,114.1 484.9,114.4 484.9,114.2 485,114.4 485.2,114.2 485.4,114.4 485.6,114 486,114.5 486.2,114.1 486.6,114 486.8,114.4 487,114 487.7,114.5 488.3,114 488.5,114.5 489.3,114.4 489.8,114.5 490.2,114 490.4,114.5 490.6,114.6 491,114 491.6,114.2 492.3,114 492.9,114.4 493.3,114.1 493.5,114.6 494.1,114.1 494.8,114.2 495,114 495.4,114.5 496.6,114.5 497,114.2 497.7,114.5 498.3,114.1 498.7,114.1 499.1,114.5 499.3,114.1 499.8,114.5 500.2,114 500.4,114.4 500.8,114.1 501,114.2 501.2,114 501.6,114.2 502,114 502.5,114.6 502.9,114.2 503.1,114.5 503.3,114 503.7,114 503.9,114 504,114.4 504.1,114.3 504.2,114.5 504.3,114.1 504.4,114.5 504.5,114.2 504.5,114.5 504.6,114 504.7,114.4 504.8,114 505,114.5 505.2,114 505.3,114.5 505.4,114 505.4,114.3 505.5,114.1 505.6,114.2 505.7,114 505.7,114.4 505.8,114 505.9,114.5 506,114 506.1,114.5 506.1,114 506.3,114.3 506.3,114 506.4,114.5 506.4,114.1 506.5,114.4 506.6,114 506.8,114.4 506.8,114.1 506.9,114.4 507.2,113.9 507.3,114.3 507.5,113.8 507.6,114.1 507.7,113.6 507.8,113.9 508.5,108.2 509.3,113.9 509.3,113.7 509.5,114 509.6,113.8 509.6,114.3 509.7,114 509.9,114.4 510.1,114 510.1,114.4 510.2,113.9 510.3,114.2 510.3,113.9 510.4,114.5 510.6,113.9 510.7,114.5 510.8,113.9 510.9,114.5 511.3,113.9 511.3,114.3 511.4,113.9 511.5,114.4 511.7,114.4 511.9,113.8 512,114.1 512.1,113.8 512.2,114.3 512.6,113.7 513.3,107.1 514,113.3 514.3,114.1 514.4,113.8 514.5,114.1 514.6,113.9 514.6,114.4 514.6,113.8 514.7,114.1 514.8,113.9 514.8,114 514.9,114.4 515,113.9 515.1,114.3 515.1,113.9 515.3,114.4 515.5,114 515.7,114.5 515.8,114 515.9,114.3 516,114.1 516.2,114.5 516.3,114.1 516.4,114.3 516.5,114 516.5,114.4 516.6,114.1 516.8,114.5 516.8,114.2 516.9,114.5 517,114.1 517.1,114.5 517.1,114 517.1,114.4 517.2,114.2 517.3,114.4 517.3,114 517.5,114.4 517.6,113.8 517.8,114.2 518.1,113.3 518.5,111 519.3,114.2 519.3,113.9 519.5,114.2 519.6,113.9 519.7,114.4 519.8,114 519.9,114.4 520,114.1 520,114.5 520.1,114 520.1,114.5 520.2,113.9 520.3,114.5 520.4,114 520.6,114.5 520.6,114 520.7,114.6 520.8,114 521,114.5 521.3,114 521.3,114.6 521.8,114 521.8,114.4 522.1,114.1 522.1,114.5 522.2,114 522.3,114.5 522.4,114 522.5,114.5 522.6,114 522.7,114.5 522.8,114 523,114.5 523.2,114.1 523.2,114.6 523.5,114.2 523.7,114.6 523.9,114.2 524.1,114.5 524.6,114.6 525,114 525.6,114.5 526,114 526.2,114.2 526.6,114.1 527.1,114.3 527.5,114.2 527.7,114.2 527.7,114.6 527.9,114 527.9,114.5 528,114 528.1,114.4 528.4,114 528.5,114.6 528.6,114.2 528.7,114.5 528.8,114.1 528.9,114.5 528.9,114 529,114.4 529.1,114.2 529.2,114.4 529.4,114.3 529.4,114.6 529.4,114.2 529.5,114.5 529.7,114.1 529.8,114.2 529.9,114 529.9,114.4 530.1,114 530.3,114.5 530.4,114.1 530.4,114.6 530.4,114.1 530.6,114.5 530.7,114.1 530.8,114.5 530.8,114.1 530.9,114.4 531,114.1 531.1,114.6 531.3,114 531.6,114.5 531.9,113.9 531.9,114.4 532.2,113.7 532.3,114 532.4,113.4 532.4,113.7 532.8,112.2 533.6,114.1 533.7,113.8 533.9,114.3 534,114.4 534,114.1 534.1,114.4 534.2,114.2 534.2,114.5 534.3,114 534.4,114.5 534.4,114.1 534.5,114.4 534.6,114.2 534.7,114.6 534.9,114 535.1,114.5 535.3,114.1 535.4,114.6 535.4,114.1 535.4,114.5 535.6,114.1 535.6,114.5 535.7,114.1 535.8,114.5 536.1,114 536.5,114.4 536.6,114.3 536.6,114.4 536.7,114 536.8,114.4 536.9,113.9 536.9,114.5 537.1,114 537.1,114.3 537.3,114 537.4,114.3 537.9,112.9 538,112.9 538.1,113.1 538.1,112.7 538.5,113.7 538.6,113.4 538.8,114.1 539,113.9 539.1,114.1 539.1,113.9 539.4,114.5 539.4,114.1 539.5,114.5 539.7,114.1 539.8,114.5 539.9,114 540.1,114.3 540.1,114 540.2,114.5 540.4,114.3 540.4,114.6 540.7,114.2 541,114.5 541,114 541.1,114.5 541.3,114 541.4,114.4 541.6,114 541.6,114.5 541.9,114.1 542,114.5 542.2,114 542.3,114.4 542.4,114.1 542.6,114.5 542.9,114 543,114.4 543.2,113.9 543.2,114.1 543.3,113.8 543.4,114.1 544,112.3 544.1,112.6 544.2,112.1 544.2,112.4 544.2,112.2 544.4,112.5 544.4,113.1 544.5,112.7 544.9,114.2 545.1,113.9 545.2,114.3 545.2,113.9 545.3,114.5 545.4,114" fill="none" stroke="#1a0808" stroke-width="2.7" stroke-linejoin="round"/>
<polyline points="399.5,114.3 407.4,114.3 409.8,114.1 410.4,114 410.8,113.6 411.1,113.1 411.2,112.3 411.4,109.5 411.5,101.4 411.8,32.7 412.2,107.4 412.4,112.3 412.6,113.4 413.1,113.9 414.3,114.2 416.5,114.2 416.7,114 417,113.1 417.3,114.1 417.9,114.3 441.4,114.3 444.8,114.2 445.1,113.9 445.3,113.1 445.8,105.9 446.1,112.5 446.4,114 446.9,114.2 448,114.3 451.1,114.2 452.3,114.1 452.8,113.7 453,112.6 453.5,101.4 453.9,111.4 454,111.9 454.3,111 454.9,113.9 455.3,114.2 456.9,114.2 459.1,114.2 460.1,113.9 460.5,113.6 460.7,113.2 460.9,110.8 461.4,85.8 461.9,111.2 462.2,113.3 462.5,113.8 462.9,114 464.3,114.2 467.3,114.2 468.4,114.1 468.9,113.8 469.1,113.2 469.3,111.9 469.7,103.1 470.2,112.1 470.4,113.3 470.6,113.9 471,114.1 471.9,114.2 476.8,114.3 479.2,114.2 480.2,113.8 480.5,113.1 480.7,111.2 481.2,96.3 481.8,112.1 482.1,113.6 482.3,113.9 482.7,114.1 484.3,114.2 488.5,114.3 504.3,114.3 507.2,114.1 507.6,113.9 507.9,113.3 508.5,108.3 509.1,112.8 509.4,113.8 509.6,114.1 510.1,114.2 511.9,114.1 512.4,113.8 512.6,113.1 513.3,107.3 514,113.1 514.2,113.8 514.7,114.1 516.6,114.2 517.6,114.1 517.9,113.5 518.5,111.3 519.2,113.8 519.5,114.1 519.9,114.2 531.7,114.2 532.2,113.9 532.9,112.5 533.6,113.9 534.1,114.2 537.1,114.2 537.5,113.9 538.1,112.9 538.8,113.9 539.1,114.2 542.7,114.2 543.1,114.2 543.4,113.9 544.2,112.3 544.9,113.9 545.4,114.2" fill="none" stroke="#f03030" stroke-width="1.5"/>
<circle cx="411.8" cy="33.7" r="1.2" fill="#1a0000"/>
<circle cx="411.8" cy="40.3" r="1.05" fill="#1a0000"/>
<circle cx="411.8" cy="46.9" r="1.05" fill="#1a0000"/>
<circle cx="411.8" cy="53.5" r="1.05" fill="#1a0000"/>
<circle cx="411.8" cy="60.1" r="1.05" fill="#1a0000"/>
<circle cx="411.8" cy="66.7" r="1.05" fill="#1a0000"/>
<circle cx="411.8" cy="73.3" r="1.05" fill="#1a0000"/>
<circle cx="411.8" cy="79.9" r="1.05" fill="#1a0000"/>
<circle cx="411.8" cy="86.5" r="1.05" fill="#1a0000"/>
<circle cx="411.8" cy="93.1" r="1.05" fill="#1a0000"/>
<circle cx="411.8" cy="99.7" r="1.05" fill="#1a0000"/>
<circle cx="411.8" cy="106.3" r="1.05" fill="#1a0000"/>
<circle cx="461.4" cy="86.8" r="1.2" fill="#1a0000"/>
<circle cx="461.4" cy="93.4" r="1.05" fill="#1a0000"/>
<circle cx="461.4" cy="100" r="1.05" fill="#1a0000"/>
<circle cx="461.4" cy="106.6" r="1.05" fill="#1a0000"/>
<circle cx="481.2" cy="97.3" r="1.2" fill="#1a0000"/>
<circle cx="481.2" cy="103.9" r="1.05" fill="#1a0000"/>
<circle cx="481.2" cy="110.5" r="1.05" fill="#1a0000"/>
<path d="M411.8,116.9v2.1M445.77,116.9v2.1M452.86,116.9v2.1M454.32,116.9v2.1M461.4,116.9v2.1M469.74,116.9v2.1M481.2,116.9v2.1M494.75,116.9v2.1M508.51,116.9v2.1M513.3,116.9v2.1M518.51,116.9v2.1M524.56,116.9v2.1M532.9,116.9v2.1M538.11,116.9v2.1M544.15,116.9v2.1" stroke="#5a5aff" stroke-width="0.8" fill="none"/>
<polyline points="399.5,125.6 411.5,125.6 411.6,125.9 411.7,129.1 411.9,122.1 412,125.3 412.1,125.5 412.5,125.6 412.6,125.6 413.2,125.6 413.5,125.6 413.9,125.6 415.6,125.6 416.9,125.7 417,125.5 417.2,125.6 418.9,125.6 419.5,125.6 419.6,125.6 419.7,125.6 421.3,125.6 421.7,125.6 422,125.6 422.1,125.6 422.7,125.6 422.8,125.6 423,125.6 424,125.6 426.1,125.6 426.1,125.6 426.1,125.6 426.4,125.6 427.9,125.6 428.1,125.6 429.1,125.6 429.3,125.6 429.3,125.6 429.8,125.6 431.5,125.6 431.5,125.6 431.6,125.6 431.7,125.6 432.5,125.6 433.3,125.6 433.3,125.6 433.5,125.6 433.9,125.6 434.2,125.6 434.7,125.6 434.7,125.6 434.8,125.6 435.1,125.6 436.1,125.6 436.1,125.6 436.2,125.6 436.4,125.6 436.7,125.6 436.7,125.6 437,125.6 437.5,125.6 437.5,125.6 438.2,125.6 438.3,125.6 438.7,125.6 439.8,125.6 441.4,125.6 441.5,125.6 443.4,125.6 443.7,125.6 443.7,125.6 443.8,125.6 444.1,125.6 444.4,125.6 444.4,125.6 444.5,125.6 445,125.6 445.1,125.6 445.4,125.6 445.7,125.9 445.9,125.3 446,125.6 446.4,125.6 446.4,125.6 447.3,125.6 447.6,125.6 447.8,125.6 448.6,125.6 448.6,125.6 448.9,125.6 449,125.6 449.3,125.6 450,125.6 450,125.6 453.1,125.6 453.3,125.6 453.4,126.1 453.6,125 453.7,125.6 454,125.6 454.3,125.8 454.4,125.4 454.5,125.6 454.9,125.6 455.7,125.6 456.1,125.6 456.2,125.6 456.5,125.6 456.9,125.6 457.2,125.6 457.4,125.6 457.5,125.6 459.4,125.6 459.5,125.6 461,125.6 461.2,125.7 461.3,126.8 461.5,124.4 461.7,125.6 462.2,125.6 462.3,125.6 462.9,125.6 463.2,125.6 463.2,125.6 463.8,125.6 463.9,125.6 464.6,125.6 469.5,125.6 469.7,126.1 469.8,125.2 469.9,125.6 470.1,125.6 470.3,125.6 470.7,125.6 471,125.6 471.5,125.6 472,125.6 472.8,125.6 472.9,125.6 473,125.6 473,125.6 473.5,125.6 473.6,125.6 474.2,125.6 475,125.6 475.5,125.6 476.1,125.6 476.1,125.6 480.7,125.6 481,125.7 481.1,126.3 481.3,124.9 481.4,125.5 482.2,125.6 484.7,125.6 485.1,125.6 485.9,125.6 486.2,125.6 486.3,125.6 486.8,125.6 489.4,125.6 489.5,125.6 490.3,125.6 491.5,125.6 492.3,125.6 492.4,125.6 492.5,125.6 492.9,125.6 493.4,125.6 493.8,125.6 493.9,125.6 494,125.6 494.3,125.6 494.8,125.6 495.6,125.6 495.7,125.6 495.9,125.6 496.3,125.6 496.8,125.6 499.4,125.6 499.6,125.6 501,125.6 501.1,125.6 502.7,125.6 502.8,125.6 502.8,125.6 503.5,125.6 503.6,125.6 504,125.6 504.2,125.6 504.3,125.6 504.4,125.6 504.7,125.6 505,125.6 505,125.6 505.5,125.6 505.6,125.6 506.8,125.6 506.9,125.6 507,125.6 507.5,125.6 507.8,125.6 508.1,125.6 508.3,125.6 508.4,125.9 508.6,125.4 508.9,125.6 509.3,125.6 509.8,125.6 510.1,125.6 510.7,125.6 510.8,125.6 511.1,125.6 511.3,125.6 511.8,125.6 511.8,125.6 513.1,125.6 513.3,125.9 513.4,125.3 513.6,125.6 517.9,125.6 518.5,125.7 518.6,125.5 518.8,125.6 519.1,125.6 519.4,125.6 519.4,125.6 520.5,125.6 523.3,125.6 523.6,125.6 525.1,125.6 526.4,125.6 526.6,125.6 526.7,125.6 527.6,125.6 528.7,125.6 528.7,125.6 529.5,125.6 530,125.6 530.1,125.6 530.8,125.6 531.6,125.6 531.6,125.6 532.1,125.6 532.1,125.6 532.3,125.6 532.7,125.6 532.8,125.7 532.9,125.5 533.2,125.6 534.8,125.6 535,125.6 535.1,125.6 535.1,125.6 535.3,125.6 536.1,125.6 536.2,125.6 537.6,125.6 537.8,125.6 538.1,125.7 538.2,125.5 538.4,125.6 539,125.6 540.1,125.6 540.3,125.6 540.6,125.6 540.7,125.6 541.6,125.6 543.5,125.6 543.7,125.6 543.8,125.6 544.1,125.7 544.2,125.5 544.5,125.6 545.4,125.6" fill="none" stroke="#14e4ee" stroke-width="2.1"/>
<circle cx="491.9" cy="19.7" r="1.25" fill="#111"/>
<line x1="483.6" y1="27.7" x2="499.3" y2="27.7" stroke="#ff3a3a" stroke-width="1.1"/>
<line x1="483.6" y1="35.9" x2="499.3" y2="35.9" stroke="#14e8f0" stroke-width="1.7"/>
<line x1="492.1" y1="43.1" x2="492.1" y2="46.1" stroke="#8080ff" stroke-width="0.8"/>
<text x="500.9" y="21.2" font-family="'Liberation Serif', 'Times New Roman', serif" font-size="6.6" font-weight="bold" fill="#111" text-anchor="start" >obs</text>
<text x="500.9" y="29.4" font-family="'Liberation Serif', 'Times New Roman', serif" font-size="6.6" font-weight="bold" fill="#111" text-anchor="start" >calc</text>
<text x="500.9" y="37.7" font-family="'Liberation Serif', 'Times New Roman', serif" font-size="6.6" font-weight="bold" fill="#111" text-anchor="start" >diff</text>
<text x="500.9" y="46" font-family="'Liberation Serif', 'Times New Roman', serif" font-size="6.6" font-weight="bold" fill="#111" text-anchor="start" >Bragg-position</text>
<text x="505.6" y="64.6" font-family="'Liberation Serif', 'Times New Roman', serif" font-size="6.6" font-weight="bold" fill="#111" text-anchor="start" >a = 2.887941</text>
<text x="505.6" y="73.3" font-family="'Liberation Serif', 'Times New Roman', serif" font-size="6.6" font-weight="bold" fill="#111" text-anchor="start" >c = 11.076735</text>
<text x="505.6" y="82.5" font-family="'Liberation Serif', 'Times New Roman', serif" font-size="6.6" font-weight="bold" fill="#111">&#967;<tspan font-size="4.3" dy="-2.9">2</tspan><tspan dy="2.9"> = 1.716</tspan></text>
<rect x="399.5" y="13.3" width="145.9" height="117.9" fill="none" stroke="#4a4a4a" stroke-width="1.2"/>
<text x="399.5" y="140.4" font-family="'Liberation Serif', 'Times New Roman', serif" font-size="6.9" font-weight="bold" fill="#111" text-anchor="middle" >10</text>
<text x="420.34" y="140.4" font-family="'Liberation Serif', 'Times New Roman', serif" font-size="6.9" font-weight="bold" fill="#111" text-anchor="middle" >20</text>
<text x="441.19" y="140.4" font-family="'Liberation Serif', 'Times New Roman', serif" font-size="6.9" font-weight="bold" fill="#111" text-anchor="middle" >30</text>
<text x="462.03" y="140.4" font-family="'Liberation Serif', 'Times New Roman', serif" font-size="6.9" font-weight="bold" fill="#111" text-anchor="middle" >40</text>
<text x="482.87" y="140.4" font-family="'Liberation Serif', 'Times New Roman', serif" font-size="6.9" font-weight="bold" fill="#111" text-anchor="middle" >50</text>
<text x="503.71" y="140.4" font-family="'Liberation Serif', 'Times New Roman', serif" font-size="6.9" font-weight="bold" fill="#111" text-anchor="middle" >60</text>
<text x="524.56" y="140.4" font-family="'Liberation Serif', 'Times New Roman', serif" font-size="6.9" font-weight="bold" fill="#111" text-anchor="middle" >70</text>
<text x="545.4" y="140.4" font-family="'Liberation Serif', 'Times New Roman', serif" font-size="6.9" font-weight="bold" fill="#111" text-anchor="middle" >80</text>
<path d="M399.5,131.2v1.8M409.92,131.2v1.26M420.34,131.2v1.8M430.76,131.2v1.26M441.19,131.2v1.8M451.61,131.2v1.26M462.03,131.2v1.8M472.45,131.2v1.26M482.87,131.2v1.8M493.29,131.2v1.26M503.71,131.2v1.8M514.14,131.2v1.26M524.56,131.2v1.8M534.98,131.2v1.26M545.4,131.2v1.8" stroke="#4a4a4a" stroke-width="0.9" fill="none"/>
<text x="472.5" y="149.6" font-family="'Liberation Serif', 'Times New Roman', serif" font-size="8.5" font-weight="bold" fill="#111" text-anchor="middle"  stroke="#111" stroke-width="0.22">2&#952; (degree)</text>
<text transform="translate(391.2,71.7) rotate(-90)" font-family="'Liberation Serif', 'Times New Roman', serif" font-size="8.8" font-weight="bold" fill="#111" text-anchor="middle">Intensity (a.u.)</text>
<text x="8.6" y="145.1" font-family="'Liberation Serif', 'Times New Roman', serif" font-size="13.4" font-weight="bold" fill="#111" text-anchor="start"  stroke="#111" stroke-width="0.22">(b)</text>
<rect x="24.6" y="149.2" width="6.2" height="114.8" fill="none" stroke="#f8cf6a" stroke-width="0.8" stroke-dasharray="3.5,1.8"/>
<polyline points="14.3,206.7 14.8,206.9 15,206.7 15.4,206.7 15.7,206.6 16.4,206.8 16.6,206.5 16.8,206.6 17.1,206.5 17.3,206.8 17.5,206.8 17.7,206.5 18,206.9 18.7,206.7 19.1,206.5 19.4,206.7 19.6,206.5 20,206.6 20.3,206.5 21,206.8 21.2,206.7 21.9,206.7 22.3,206.6 22.6,206.9 22.8,206.9 23.5,206.6 24.2,206.5 24.4,206.7 24.6,206.6 24.9,206.8 25.1,206.6 25.2,206.8 25.3,206.4 25.4,206.7 25.4,206.6 25.5,206.8 25.6,206.4 25.7,206.6 25.9,206.3 26,206.7 26.1,206.3 26.3,206.2 26.3,206.5 26.4,206.2 26.4,206.4 26.5,206.2 26.6,206.3 26.7,206 26.7,206.2 26.9,205.8 27,205.9 27.2,205.3 27.3,203.5 27.5,195.4 27.9,158.5 28.3,201.7 28.4,204.4 28.6,205.6 28.8,205.7 28.9,206.2 29,206 29,206.3 29.3,206.2 29.4,206.6 29.4,206.3 29.6,206.6 29.8,206.4 29.8,206.6 29.9,206.3 30,206.7 30.2,206.5 30.2,206.7 30.3,206.4 30.4,206.6 30.5,206.4 30.8,206.6 30.9,206.5 31.1,206.8 31.4,206.4 31.5,206.8 31.5,206.7 31.6,206.8 31.7,206.5 31.7,206.7 31.8,206.7 31.9,206.6 31.9,206.8 32,206.5 32.2,206.8 32.3,206.7 32.4,206.8 32.5,206.6 32.6,206.8 32.7,206.6 32.8,206.8 33,206.6 33.1,206.7 33.1,206.4 33.3,206.7 33.4,206.1 33.6,205.9 33.7,206.1 33.7,205.8 33.8,206.2 33.8,206.1 34.1,206.7 34.2,206.8 34.4,206.5 34.5,206.7 34.6,206.5 34.6,206.8 34.8,206.7 34.8,206.8 34.9,206.6 34.9,206.7 35,206.6 35.2,206.8 35.4,206.5 35.6,206.8 35.7,206.9 35.8,206.6 36.1,206.7 36.3,206.6 36.4,206.9 36.8,206.5 37.1,206.5 37.3,206.8 37.5,206.5 37.7,206.8 38.2,206.6 38.4,206.8 38.7,206.5 39.1,206.7 39.4,206.5 39.6,206.8 39.8,206.6 40.3,206.5 40.5,206.7 40.7,206.7 41.7,206.9 42.1,206.6 42.3,206.7 42.8,206.5 43.3,206.8 43.5,206.6 44.2,206.8 44.9,206.8 45.1,206.7 45.6,206.9 45.8,206.5 46,206.9 46.5,206.5 47.2,206.9 47.4,206.6 47.9,206.8 48.3,206.9 48.5,206.7 48.8,206.8 49,206.6 49.5,206.8 49.9,206.8 50.2,206.6 50.4,206.9 50.8,206.9 51.1,206.7 51.3,206.8 51.5,206.6 51.8,206.9 52,206.8 52.5,206.5 53.1,206.8 53.6,206.5 53.8,206.8 54.1,206.5 54.3,206.8 54.5,206.6 55,206.8 55.2,206.6 55.4,206.6 56.1,206.8 56.4,206.8 56.6,206.9 56.8,206.7 57.1,206.9 57.3,206.5 57.7,206.7 58,206.6 58.2,206.8 58.7,206.7 58.9,206.8 59.4,206.6 60,206.9 60.3,206.6 60.5,206.8 60.7,206.9 61.4,206.6 62.1,206.7 62.3,206.5 62.4,206.9 62.5,206.6 62.6,206.8 62.7,206.7 62.7,206.8 62.8,206.5 63,206.9 63.2,206.5 63.4,206.8 63.5,206.5 63.7,206.8 63.7,206.5 63.8,206.8 63.8,206.5 64,206.7 64.1,206.6 64.2,206.7 64.2,206.4 64.3,206.7 64.4,206.4 64.4,206.6 64.6,206.4 65.1,201.9 65.5,206.1 65.7,206.6 65.7,206.4 65.8,206.7 65.9,206.4 66,206.7 66.1,206.5 66.2,206.8 66.2,206.6 66.3,206.8 66.4,206.5 66.5,206.7 66.5,206.5 66.8,206.9 66.8,206.5 66.9,206.8 67.2,206.5 67.3,206.5 67.3,206.7 67.6,206.6 67.7,206.9 67.9,206.5 68.1,206.5 68.3,206.9 68.5,206.7 68.8,206.8 69,206.6 69.9,206.7 70.2,206.5 70.4,206.8 70.6,206.8 70.8,206.6 71.1,206.8 71.2,206.6 71.4,206.7 71.4,206.5 71.5,206.8 71.7,206.8 71.8,206.6 71.9,206.9 72.1,206.6 72.1,206.8 72.3,206.8 72.3,206.6 72.4,206.8 72.6,206.7 72.7,206.6 72.7,206.7 72.8,206.4 72.9,206.5 73,206.3 73.1,206.6 73.2,206.3 73.3,206.5 73.3,206.2 73.8,199.3 74.2,204.9 74.5,206.6 74.6,206.5 74.8,206.8 75,206.4 75.1,206.7 75.2,206.4 75.2,206.8 75.3,206.5 75.5,206.7 75.6,206.5 75.6,206.8 75.7,206.6 75.8,206.7 75.9,206.6 76,206.7 76.1,206.6 76.1,206.8 76.2,206.5 76.4,206.5 76.5,206.8 76.5,206.6 76.6,206.8 76.8,206.8 77.1,206.5 77.3,206.9 77.5,206.9 77.7,206.5 78,206.8 78.2,206.6 78.4,206.7 78.7,206.9 78.9,206.6 79.4,206.8 79.5,206.6 79.5,206.8 79.7,206.5 79.8,206.7 79.9,206.5 80,206.6 80,206.5 80.2,206.7 80.3,206.5 80.4,206.7 80.5,206.6 80.6,206.8 80.8,206.4 80.8,206.7 81.1,206.4 81.1,206.5 81.4,206.4 81.4,206.1 81.5,206 81.5,206 81.6,205.1 82.1,189.9 82.6,204.9 82.7,206 82.7,205.9 82.9,206.4 83,206.5 83,206.3 83.1,206.4 83.2,206.6 83.3,206.5 83.4,206.7 83.4,206.5 83.6,206.7 83.8,206.4 83.8,206.8 83.9,206.4 84.1,206.7 84.2,206.6 84.2,206.7 84.3,206.5 84.4,206.7 84.5,206.5 84.6,206.7 84.8,206.5 84.9,206.8 85.3,206.5 85.6,206.8 85.8,206.7 86.2,206.9 86.5,206.8 86.7,206.7 86.9,206.8 87.2,206.6 88.1,206.8 88.3,206.6 89,206.6 89.2,206.8 89.3,206.5 89.5,206.8 89.6,206.5 89.8,206.8 90,206.5 90.1,206.8 90.2,206.5 90.3,206.8 90.4,206.5 90.4,206.7 90.5,206.5 90.6,206.7 90.7,206.4 90.8,206.6 90.9,206.6 91.1,205.8 91.5,200.6 91.9,205.4 92.1,206.5 92.3,206.4 92.4,206.8 92.5,206.5 92.7,206.5 92.7,206.8 92.8,206.5 93,206.8 93.1,206.5 93.3,206.8 93.4,206.5 93.6,206.6 93.7,206.8 93.8,206.6 93.9,206.5 94,206.8 94.1,206.6 94.2,206.8 94.3,206.6 94.5,206.8 94.8,206.9 95,206.6 95.4,206.9 96.1,206.5 96.4,206.9 96.8,206.6 97.3,206.7 97.5,206.6 97.7,206.9 98.4,206.5 99.1,206.8 100,206.5 100.5,206.6 100.7,206.8 101,206.7 101.1,206.9 101.1,206.6 101.2,206.7 101.2,206.5 101.3,206.8 101.4,206.5 101.4,206.8 101.5,206.8 101.6,206.5 101.7,206.7 101.8,206.5 101.9,206.8 102.1,206.6 102.3,206.8 102.3,206.5 102.4,206.7 102.5,206.5 102.5,206.6 102.6,206.4 102.7,206.7 102.9,206.3 103,206.5 103.1,206.3 103.3,205.1 103.7,196.4 104.1,205.1 104.3,206.2 104.5,206.5 104.6,206.4 104.7,206.6 104.7,206.5 104.8,206.7 105,206.5 105,206.7 105.1,206.5 105.3,206.7 105.4,206.5 105.5,206.8 105.6,206.5 105.8,206.6 105.9,206.5 106,206.8 106,206.6 106.2,206.8 106.5,206.5 107.2,206.9 107.9,206.7 108.1,206.5 108.8,206.8 109,206.5 109.9,206.8 110.4,206.6 110.8,206.9 111.8,206.6 112.2,206.9 112.5,206.7 112.9,206.8 113.1,206.6 113.4,206.9 114.1,206.5 114.7,206.8 115,206.6 115.2,206.9 115.4,206.6 115.7,206.7 115.9,206.5 116.1,206.9 116.4,206.6 116.6,206.9 117.5,206.6 117.7,206.9 118,206.9 118.7,206.5 118.9,206.8 119.1,206.6 119.3,206.9 119.6,206.6 120,206.8 120.3,206.6 120.5,206.7 121,206.5 121.2,206.6 121.4,206.9 122.1,206.6 122.3,206.8 122.6,206.8 122.8,206.7 123.3,206.8 123.5,206.5 123.9,206.7 124.2,206.6 124.6,206.7 124.9,206.6 125.1,206.7 125.3,206.6 126,206.8 126.2,206.5 126.5,206.8 126.7,206.6 126.9,206.9 127.6,206.7 128.3,206.8 128.8,206.7 129,206.9 129.5,206.8 129.7,206.7 130.4,206.9 130.6,206.7 131.1,206.7 131.3,206.9 131.4,206.5 131.5,206.8 131.7,206.8 131.8,206.6 131.8,206.7 131.9,206.5 132,206.7 132.2,206.5 132.2,206.8 132.6,206.5 132.6,206.8 132.7,206.7 132.8,206.8 132.9,206.6 132.9,206.8 133,206.5 133.1,206.8 133.2,206.5 133.3,206.7 133.3,206.4 133.4,206.7 133.7,206 134.1,202.3 134.4,205.9 134.6,206.7 134.7,206.4 134.8,206.7 135,206.5 135.1,206.8 135.1,206.5 135.2,206.7 135.3,206.5 135.3,206.8 135.4,206.5 135.5,206.8 135.6,206.6 135.6,206.8 135.8,206.5 135.9,206.8 136,206.5 136.2,206.8 136.3,206.6 136.5,206.8 136.5,206.6 136.6,206.8 136.8,206.6 136.9,206.9 137.1,206.5 137.2,206.9 137.4,206.5 137.4,206.7 137.6,206.6 137.6,206.8 137.7,206.5 137.8,206.8 137.8,206.6 138,206.7 138,206.5 138.1,206.9 138.2,206.5 138.4,206.8 138.5,206.5 138.7,206.6 138.7,206.5 138.8,206.5 139,205.9 139.3,202.8 139.7,205.9 139.9,206.5 140,206.4 140.3,206.8 140.4,206.5 140.5,206.7 140.7,206.6 140.7,206.8 140.8,206.5 140.8,206.8 141.2,206.5 141.4,206.7 141.5,206.6 141.5,206.7 141.6,206.5 141.6,206.8 141.7,206.6 141.8,206.5 141.9,206.8 142,206.5 142.1,206.7 142.4,206.6 142.4,206.9 142.5,206.5 142.7,206.9 142.7,206.5 142.8,206.8 142.9,206.5 143,206.8 143.1,206.5 143.3,206.7 143.4,206.5 143.4,206.9 143.6,206.6 143.7,206.7 143.8,206.6 143.9,206.8 144,206.6 144.1,206.9 144.2,206.5 144.3,206.7 144.3,206.5 144.5,206.7 144.8,206.1 145.1,204.6 145.6,206.7 145.7,206.7 145.7,206.5 145.8,206.6 145.8,206.5 145.9,206.7 146.1,206.5 146.3,206.8 146.5,206.5 146.6,206.9 146.6,206.6 146.8,206.9 146.9,206.5 147,206.6 147,206.5 147.1,206.8 147.2,206.6 147.2,206.8 147.3,206.5 147.4,206.6 147.5,206.5 147.6,206.7 147.7,206.5 147.8,206.7 148.1,206.5 148.3,206.8 148.5,206.6 148.8,206.8 149,206.8 149.2,206.6 149.7,206.6 149.9,206.8 150.4,206.7 150.6,206.8 150.8,206.6 152,206.5 152.2,206.8 152.9,206.9 153.1,206.6 153.6,206.9 153.8,206.6 154.1,206.8 154.5,206.9 154.7,206.8 155,206.6 155.2,206.8 155.4,206.5 155.7,206.7 156.1,206.5 156.8,206.7 157.3,206.6 157.7,206.7 158,206.6 158.2,206.8 158.7,206.5 159.1,206.8 159.1,206.5 159.2,206.7 159.3,206.5 159.3,206.7 159.4,206.5 159.5,206.7 159.7,206.5 159.9,206.8 160.1,206.6 160.3,206.9 160.3,206.6 160.4,206.9 160.8,206.6 160.8,206.8 161,206.5 161,206.7 161.1,206.3 161.3,205.8 161.4,205.9 161.4,205.6 161.8,206.5 162.3,206.9 162.3,206.6 162.4,206.8 162.5,206.6 162.7,206.9 162.8,206.6 162.9,206.7 163.1,206.6 163.2,206.8 163.3,206.6 163.5,206.6 163.5,206.7 163.7,206.5 163.8,206.5 163.8,206.8 163.9,206.5 164,206.8 164.1,206.6 164.2,206.8 164.4,206.8 164.6,206.5 165.3,206.8 165.5,206.7 165.6,206.8 165.7,206.6 165.7,206.8 165.8,206.6 166,206.8 166.1,206.7 166.3,206.8 166.4,206.5 166.5,206.8 166.7,206.5 166.8,206.9 166.9,206.5 167,206.8 167.2,206.6 167.3,206.9 167.3,206.5 167.4,206.8 167.5,206.5 167.7,206.9 167.7,206.5 167.8,206.6 167.8,206.4 167.9,206.6 168.3,205.7 168.7,206.7 168.8,206.5 168.9,206.5 168.9,206.8 169,206.6 169.1,206.7 169.2,206.5 169.4,206.7 169.5,206.6 169.6,206.7 169.8,206.5 169.9,206.8 170,206.5 170.1,206.9 170.2,206.6 170.3,206.8 170.4,206.7 170.4,206.8 170.5,206.5 170.6,206.7 170.7,206.7 170.8,206.6 170.8,206.9 170.9,206.9 171,206.7 171.1,206.8 171.2,206.5 171.4,206.5 171.5,206.8 171.7,206.5 171.8,206.9 171.9,206.5 172,206.8 172.2,206.7 172.4,206.9 172.4,206.5 172.5,206.9 172.7,206.6 172.7,206.8 172.8,206.5 172.8,206.7 172.9,206.6 173.1,206.8 173.4,206.5 173.4,206.7 173.7,205.6 173.8,205.7 173.8,205.5 173.9,205.6 174.2,206.4 174.2,206.3 174.5,206.8 174.6,206.5 174.6,206.8 174.8,206.5 174.9,206.9 174.9,206.7 175,206.9 175,206.6 175.1,206.8 175.2,206.6" fill="none" stroke="#ff1a8c" stroke-width="1.6" stroke-linejoin="round"/>
<polyline points="14.3,254.5 14.8,254.6 15.2,254.3 15.4,254.4 15.7,254.4 15.9,254.6 16.8,254.6 17.1,254.4 17.3,254.5 17.5,254.4 17.7,254.7 18,254.3 18.2,254.6 18.4,254.3 18.7,254.6 18.9,254.4 19.4,254.6 19.6,254.3 19.8,254.3 20,254.7 20.5,254.3 20.7,254.7 21,254.7 21.2,254.3 21.4,254.5 21.7,254.3 22.1,254.5 22.3,254.3 22.6,254.6 22.8,254.3 23,254.3 23.3,254.6 23.5,254.4 24,254.5 24.6,254.2 24.9,254.5 25.2,254.6 25.3,254.3 25.4,254.4 25.5,254.2 25.7,254.5 25.9,254.1 25.9,254.4 26.1,254.2 26.3,254.3 26.3,254 26.4,254.2 26.4,254 26.5,254.2 26.5,253.9 26.7,254 26.8,253.7 26.8,253.8 26.9,253.6 27.1,253.6 27.3,252.3 27.5,247.1 27.9,206.7 28.4,251.3 28.6,253 28.8,253.8 28.8,253.9 28.9,253.7 29.1,254.2 29.2,254.1 29.3,254.2 29.4,254.1 29.6,254.3 29.6,254.1 29.7,254.4 29.8,254.2 29.9,254.5 30,254.4 30.2,254.5 30.3,254.3 30.4,254.5 30.6,254.3 30.8,254.5 31,254.2 31.1,254.6 31.3,254.6 31.3,254.4 31.4,254.6 31.5,254.3 31.7,254.6 31.9,254.3 32,254.5 32.1,254.4 32.3,254.5 32.4,254.3 32.7,254.6 32.8,254.3 32.9,254.4 33,254.3 33,254.5 33.2,254.3 33.3,254.5 33.3,254 33.6,253.6 34,254.5 34.1,254.3 34.2,254.6 34.3,254.3 34.4,254.6 34.5,254.4 34.6,254.7 34.8,254.4 34.9,254.6 34.9,254.4 35,254.5 35.2,254.3 35.3,254.5 35.4,254.3 35.4,254.6 35.5,254.4 35.6,254.7 35.7,254.4 35.8,254.6 35.9,254.3 36,254.6 36.3,254.4 37.1,254.4 37.3,254.6 37.5,254.4 38,254.4 38.2,254.7 38.7,254.3 38.9,254.6 39.4,254.6 39.6,254.4 39.8,254.6 40.3,254.3 40.5,254.6 40.7,254.6 41,254.4 41.2,254.6 41.4,254.3 41.7,254.4 41.9,254.3 42.3,254.4 42.6,254.6 42.8,254.4 43.3,254.4 43.7,254.6 44.2,254.3 44.4,254.6 44.9,254.5 45.6,254.6 45.8,254.5 46.5,254.6 46.7,254.5 47.4,254.6 47.6,254.4 47.9,254.7 48.1,254.5 48.3,254.6 48.5,254.6 48.8,254.7 49.2,254.5 50.2,254.6 50.4,254.3 51.5,254.3 52,254.3 52.2,254.6 52.5,254.5 52.7,254.7 53.1,254.6 53.4,254.7 53.6,254.3 54.1,254.7 54.5,254.4 54.8,254.6 55.9,254.3 56.4,254.7 57.1,254.7 57.3,254.4 57.5,254.4 57.7,254.7 58.2,254.6 58.4,254.3 59.1,254.6 60,254.4 60.5,254.7 61,254.4 61.2,254.5 61.9,254.4 62.2,254.5 62.2,254.3 62.3,254.7 62.6,254.3 62.6,254.6 62.7,254.3 62.9,254.5 63,254.4 63.1,254.7 63.2,254.4 63.3,254.4 63.4,254.3 63.7,254.4 63.7,254.6 63.8,254.3 63.9,254.4 63.9,254.3 64.1,254.4 64.1,254.1 64.2,254.3 64.2,254.1 64.4,254.1 64.4,253.9 64.9,247.4 65.2,252.9 65.5,254.3 65.6,254.2 65.7,254.4 65.7,254.4 65.9,254.5 66.1,254.2 66.1,254.6 66.2,254.4 66.3,254.6 66.4,254.3 66.5,254.6 66.8,254.3 66.9,254.4 67.1,254.3 67.1,254.6 67.2,254.4 67.3,254.6 67.4,254.3 67.6,254.7 68.3,254.4 68.5,254.6 69,254.5 69.2,254.6 69.5,254.4 69.9,254.6 70.2,254.3 70.4,254.5 70.6,254.4 70.8,254.6 71.1,254.6 71.2,254.3 71.3,254.5 71.5,254.3 71.5,254.6 71.6,254.5 71.8,254.6 71.9,254.5 71.9,254.6 72,254.4 72.1,254.6 72.1,254.3 72.2,254.6 72.2,254.5 72.3,254.6 72.4,254.3 72.5,254.5 72.6,254.4 72.8,254.5 73.1,254.1 73.2,254.4 73.4,253.4 73.8,246.6 74.2,253.3 74.4,254 74.5,254.1 74.6,254.3 74.7,254.2 74.8,254.4 75,254.4 75.1,254.6 75.2,254.3 75.3,254.6 75.3,254.4 75.4,254.6 75.4,254.3 75.6,254.6 75.8,254.3 75.8,254.6 75.9,254.3 76.1,254.6 76.2,254.7 76.3,254.4 76.4,254.6 76.5,254.3 76.5,254.7 77.7,254.3 78,254.3 78.4,254.6 79.4,254.5 79.5,254.7 79.8,254.3 79.8,254.4 80.1,254.3 80.2,254.5 80.2,254.4 80.3,254.6 80.6,254.3 80.6,254.6 80.8,254.2 80.9,254.4 81,254.2 81.1,254.3 81.1,254.1 81.2,254.3 81.3,254.2 81.4,254.3 81.5,253.8 81.5,254 81.6,253.1 82.1,240.5 82.6,253.2 82.8,254.2 82.9,254 83,254.4 83.1,254.1 83.2,254.5 83.3,254.1 83.3,254.4 83.4,254.2 83.5,254.3 83.6,254.6 83.8,254.3 84,254.6 84.1,254.2 84.2,254.6 84.3,254.3 84.4,254.6 84.6,254.3 84.6,254.5 84.7,254.3 84.9,254.6 85.1,254.4 85.3,254.7 85.6,254.4 85.8,254.7 86.2,254.7 86.5,254.3 87.2,254.6 87.4,254.4 87.6,254.6 88.1,254.3 88.5,254.3 88.7,254.7 88.7,254.6 88.8,254.6 88.9,254.4 89.1,254.6 89.1,254.3 89.2,254.6 89.2,254.3 89.5,254.6 89.5,254.4 89.6,254.6 89.7,254.3 89.8,254.6 89.8,254.4 89.9,254.4 90,254.5 90.2,254.3 90.3,254.6 90.4,254.2 90.4,254.4 90.7,254.2 91,253.2 91.3,248.3 91.6,253.1 91.8,254.3 92,254.1 92.1,254.4 92.2,254.2 92.3,254.4 92.5,254.3 92.6,254.4 92.7,254.3 92.7,254.4 92.8,254.3 92.9,254.6 93,254.6 93.1,254.3 93.2,254.4 93.3,254.3 93.3,254.6 93.4,254.3 93.4,254.7 93.5,254.5 93.5,254.7 93.6,254.3 93.7,254.7 93.9,254.5 94,254.6 94.1,254.5 94.5,254.4 95.2,254.7 95.7,254.4 95.9,254.6 96.1,254.4 96.8,254.6 97,254.3 97.5,254.4 97.7,254.5 98,254.4 98.4,254.6 98.9,254.4 99.1,254.5 99.8,254.4 100,254.6 100.3,254.4 100.5,254.7 100.7,254.5 101.1,254.7 101.1,254.3 101.2,254.6 101.2,254.3 101.3,254.6 101.4,254.4 101.5,254.5 101.6,254.4 101.8,254.5 101.9,254.2 102,254.6 102.2,254.3 102.3,254.6 102.4,254.2 102.5,254.6 102.5,254.2 102.6,254.4 102.7,254.2 102.8,254.4 103,254 103,254.3 103.2,253.8 103.4,251.9 103.7,243.5 104.2,253.3 104.2,253.8 104.5,254.3 104.5,254.2 104.6,254.3 104.6,254.1 104.8,254.4 104.9,254.2 104.9,254.6 105,254.2 105.3,254.6 105.3,254.3 105.4,254.6 105.7,254.3 105.8,254.6 105.9,254.4 106.1,254.5 106.1,254.3 106.2,254.6 106.2,254.3 106.4,254.6 106.7,254.4 106.9,254.6 107.2,254.4 107.9,254.7 108.1,254.3 108.3,254.5 108.5,254.4 108.8,254.6 109,254.5 109.2,254.7 109.7,254.5 109.9,254.6 110.2,254.6 110.4,254.3 110.8,254.3 111.1,254.6 111.5,254.4 112,254.7 112.2,254.4 112.5,254.6 112.7,254.4 112.9,254.6 113.4,254.6 113.8,254.3 114.1,254.6 114.3,254.3 114.7,254.7 115,254.4 115.4,254.6 116.1,254.5 116.4,254.7 116.8,254.4 117,254.6 117.3,254.6 117.5,254.5 117.7,254.7 118,254.4 118.2,254.4 118.4,254.6 118.7,254.4 119.1,254.4 119.3,254.7 119.6,254.6 119.8,254.4 120,254.6 120.3,254.4 120.5,254.5 120.7,254.3 121.2,254.6 121.6,254.5 121.9,254.3 122.3,254.6 122.6,254.4 122.8,254.6 123.3,254.6 123.7,254.4 123.9,254.6 124.2,254.6 124.4,254.5 124.6,254.6 124.9,254.5 125.8,254.4 126,254.7 127.2,254.4 127.4,254.6 127.9,254.4 128.1,254.5 128.3,254.3 128.8,254.6 129.2,254.4 129.5,254.7 130.1,254.3 130.4,254.5 130.6,254.4 130.8,254.7 131.1,254.6 131.2,254.3 131.4,254.6 131.5,254.5 131.5,254.7 131.6,254.3 131.7,254.6 131.8,254.4 131.9,254.5 132,254.3 132.1,254.5 132.3,254.3 132.3,254.6 132.4,254.4 132.5,254.6 132.6,254.3 132.7,254.5 132.8,254.3 133,254.4 133,254.3 133.1,254.6 133.3,254.2 133.3,254.3 133.5,253.7 133.8,250.1 134.2,254 134.3,254.1 134.3,254 134.4,254.5 134.6,254.5 134.7,254.5 134.8,254.2 134.9,254.6 134.9,254.2 135,254.5 135.3,254.4 135.3,254.5 135.4,254.3 135.5,254.5 135.6,254.3 135.7,254.6 135.9,254.4 136,254.7 136,254.5 136.2,254.6 136.2,254.4 136.3,254.7 136.5,254.6 136.6,254.4 136.6,254.6 136.9,254.3 136.9,254.5 137,254.3 137.2,254.5 137.2,254.3 137.3,254.6 137.4,254.3 137.5,254.7 137.6,254.3 137.7,254.6 137.8,254.6 137.9,254.3 138,254.5 138,254.4 138.3,254.6 138.5,254.3 138.5,254.6 138.6,254.4 138.7,254.5 138.8,254.4 139.3,250.6 139.7,253.6 139.9,254.4 140,254.3 140.1,254.3 140.3,254.6 140.3,254.3 140.5,254.6 140.6,254.3 140.7,254.7 141,254.3 141,254.6 141.1,254.3 141.1,254.7 141.2,254.5 141.4,254.6 141.5,254.3 141.6,254.5 141.7,254.3 141.8,254.4 141.9,254.3 142,254.5 142,254.4 142.1,254.6 142.3,254.4 142.5,254.6 142.6,254.3 142.6,254.6 142.7,254.3 142.7,254.7 142.8,254.5 143,254.6 143.1,254.3 143.2,254.6 143.4,254.3 143.5,254.6 143.5,254.3 143.6,254.6 143.7,254.3 143.7,254.5 143.8,254.4 144,254.6 144.1,254.4 144.2,254.7 144.3,254.3 144.4,254.6 144.5,254.3 144.6,254.5 145.1,252.4 145.5,254.4 145.6,254.3 145.7,254.5 145.8,254.3 145.8,254.6 146.1,254.4 146.1,254.6 146.2,254.5 146.3,254.6 146.4,254.4 146.4,254.6 146.5,254.4 146.6,254.7 146.8,254.4 146.9,254.6 147,254.3 147.2,254.6 147.2,254.4 147.3,254.7 147.4,254.4 147.5,254.5 147.6,254.4 147.7,254.5 147.8,254.3 147.8,254.5 148.3,254.4 148.5,254.6 149.2,254.4 150.1,254.6 150.4,254.3 150.6,254.4 150.8,254.7 151.5,254.3 151.8,254.6 152,254.6 152.2,254.4 152.7,254.3 153.1,254.5 153.6,254.3 154.1,254.4 154.5,254.7 155.2,254.4 155.4,254.7 155.9,254.6 156.4,254.7 156.8,254.4 157.3,254.7 157.5,254.4 158.2,254.6 158.4,254.3 158.7,254.6 158.8,254.3 158.9,254.5 159,254.4 159.1,254.6 159.1,254.4 159.2,254.7 159.3,254.3 159.6,254.6 159.7,254.4 159.8,254.7 160,254.4 160.1,254.6 160.3,254.4 160.3,254.6 160.4,254.3 160.4,254.5 160.6,254.5 160.7,254.6 160.7,254.4 160.8,254.6 160.9,254.5 161,254.2 161,254.4 161.1,254 161.2,254.2 161.4,253.3 161.8,254.5 161.9,254.4 161.9,254.5 162.1,254.3 162.2,254.6 162.3,254.4 162.4,254.6 162.6,254.4 162.6,254.6 162.7,254.4 162.7,254.5 162.8,254.3 163,254.7 163.2,254.4 163.2,254.5 163.4,254.3 163.5,254.6 163.8,254.3 163.9,254.7 164.1,254.4 164.2,254.7 165.1,254.3 165.3,254.3 165.5,254.6 165.7,254.6 165.8,254.4 165.8,254.5 165.9,254.3 166,254.5 166.1,254.3 166.2,254.6 166.4,254.4 166.4,254.6 166.5,254.4 166.5,254.7 166.6,254.7 166.8,254.4 166.9,254.6 166.9,254.5 167,254.6 167,254.4 167.2,254.6 167.2,254.4 167.3,254.6 167.3,254.3 167.4,254.5 167.4,254.3 167.8,254.6 168.2,253.5 168.4,253.5 168.5,254 168.5,254.1 168.6,254 168.8,254.6 168.8,254.3 168.9,254.6 169.1,254.4 169.2,254.5 169.5,254.4 169.5,254.5 169.6,254.3 169.8,254.5 169.9,254.3 169.9,254.6 170,254.3 170,254.7 170.1,254.3 170.3,254.6 170.4,254.4 170.5,254.7 170.5,254.3 170.8,254.7 171.1,254.3 171.2,254.6 171.4,254.4 171.4,254.6 171.5,254.4 171.6,254.6 171.6,254.3 171.9,254.7 172,254.6 172.1,254.4 172.3,254.7 172.3,254.4 172.4,254.6 172.4,254.4 172.6,254.7 172.7,254.4 172.9,254.6 173,254.4 173.1,254.6 173.2,254.3 173.4,254.3 173.5,253.9 173.6,254.1 173.7,253.4 173.8,253.3 173.8,253.5 173.9,253.2 174.2,254.4 174.5,254.5 174.6,254.4 174.7,254.6 174.7,254.3 174.8,254.5 175,254.3 175.1,254.6 175.2,254.5" fill="none" stroke="#1c1c8e" stroke-width="1.6" stroke-linejoin="round"/>
<rect x="14.3" y="154.4" width="160.9" height="105.9" fill="none" stroke="#4a4a4a" stroke-width="1.2"/>
<text x="14.3" y="270.2" font-family="'Liberation Serif', 'Times New Roman', serif" font-size="6.9" font-weight="normal" fill="#111" text-anchor="middle" >10</text>
<text x="37.29" y="270.2" font-family="'Liberation Serif', 'Times New Roman', serif" font-size="6.9" font-weight="normal" fill="#111" text-anchor="middle" >20</text>
<text x="60.27" y="270.2" font-family="'Liberation Serif', 'Times New Roman', serif" font-size="6.9" font-weight="normal" fill="#111" text-anchor="middle" >30</text>
<text x="83.26" y="270.2" font-family="'Liberation Serif', 'Times New Roman', serif" font-size="6.9" font-weight="normal" fill="#111" text-anchor="middle" >40</text>
<text x="106.24" y="270.2" font-family="'Liberation Serif', 'Times New Roman', serif" font-size="6.9" font-weight="normal" fill="#111" text-anchor="middle" >50</text>
<text x="129.23" y="270.2" font-family="'Liberation Serif', 'Times New Roman', serif" font-size="6.9" font-weight="normal" fill="#111" text-anchor="middle" >60</text>
<text x="152.22" y="270.2" font-family="'Liberation Serif', 'Times New Roman', serif" font-size="6.9" font-weight="normal" fill="#111" text-anchor="middle" >70</text>
<text x="175.2" y="270.2" font-family="'Liberation Serif', 'Times New Roman', serif" font-size="6.9" font-weight="normal" fill="#111" text-anchor="middle" >80</text>
<path d="M14.3,260.3v1.8M25.79,260.3v1.26M37.29,260.3v1.8M48.78,260.3v1.26M60.27,260.3v1.8M71.77,260.3v1.26M83.26,260.3v1.8M94.75,260.3v1.26M106.24,260.3v1.8M117.74,260.3v1.26M129.23,260.3v1.8M140.72,260.3v1.26M152.22,260.3v1.8M163.71,260.3v1.26M175.2,260.3v1.8" stroke="#4a4a4a" stroke-width="0.9" fill="none"/>
<text x="172.3" y="201.1" font-family="'Liberation Serif', 'Times New Roman', serif" font-size="8.2" font-weight="bold" fill="#111" text-anchor="end"  stroke="#111" stroke-width="0.22">NLNMOF</text>
<text x="172" y="249.9" font-family="'Liberation Serif', 'Times New Roman', serif" font-size="8.2" font-weight="bold" fill="#111" text-anchor="end"  stroke="#111" stroke-width="0.22">NNMO</text>
<text x="94.8" y="278.8" font-family="'Liberation Serif', 'Times New Roman', serif" font-size="7.9" font-weight="bold" fill="#111" text-anchor="middle"  stroke="#111" stroke-width="0.22">2&#952; (degree)</text>
<text transform="translate(8.7,207.4) rotate(-90)" font-family="'Liberation Serif', 'Times New Roman', serif" font-size="8.1" font-weight="bold" fill="#111" text-anchor="middle">Intensity (a.u.)</text>
<polyline points="183.1,206.9 192.6,206.8 196.9,206.5 198.2,206.2 199.2,205.8 199.9,205.2 200.4,204.3 200.7,203.2 201,201.2 201.4,195.9 202.5,162.8 202.8,158.7 203.1,162.8 204.3,195.9 204.8,202 205.1,203.7 205.4,204.6 205.9,205.3 206.6,205.8 207.6,206.2 209,206.5 213.5,206.8 223.4,206.9" fill="none" stroke="#ff1a8c" stroke-width="1.2"/>
<polyline points="183.1,255.5 191.3,255.4 195.2,255.1 196.4,254.8 197.3,254.4 198,253.8 198.4,253 198.7,252 199,250 199.4,244.6 200.5,211.7 200.8,207.6 201.1,211.7 202.2,244.6 202.7,250.8 203,252.4 203.4,253.3 203.9,254 204.7,254.6 205.8,255 207.3,255.2 212.2,255.5 223.4,255.6" fill="none" stroke="#1c1c8e" stroke-width="1.2"/>
<rect x="183.1" y="154.8" width="40.3" height="105.5" fill="none" stroke="#4a4a4a" stroke-width="1.2"/>
<text x="183.1" y="270.2" font-family="'Liberation Serif', 'Times New Roman', serif" font-size="6.9" font-weight="normal" fill="#111" text-anchor="middle" >15</text>
<text x="203.25" y="270.2" font-family="'Liberation Serif', 'Times New Roman', serif" font-size="6.9" font-weight="normal" fill="#111" text-anchor="middle" >16</text>
<text x="223.4" y="270.2" font-family="'Liberation Serif', 'Times New Roman', serif" font-size="6.9" font-weight="normal" fill="#111" text-anchor="middle" >17</text>
<path d="M183.1,260.3v1.8M193.17,260.3v1.26M203.25,260.3v1.8M213.32,260.3v1.26M223.4,260.3v1.8" stroke="#4a4a4a" stroke-width="0.9" fill="none"/>
<text x="221.2" y="164.2" font-family="'Liberation Serif', 'Times New Roman', serif" font-size="8.3" font-weight="bold" fill="#111" text-anchor="end"  stroke="#111" stroke-width="0.22">002</text>
<defs>
<linearGradient id="pg1" x1="0" y1="0" x2="1" y2="1"><stop offset="0" stop-color="#c8c8c8"/><stop offset="0.55" stop-color="#8a8a8a"/><stop offset="1" stop-color="#4a4a4a"/></linearGradient>
<linearGradient id="pg2" x1="0" y1="0" x2="1" y2="1"><stop offset="0" stop-color="#b4b4b4"/><stop offset="0.6" stop-color="#888888"/><stop offset="1" stop-color="#626262"/></linearGradient>
<linearGradient id="pgL" x1="0.1" y1="0" x2="0.8" y2="1"><stop offset="0" stop-color="#eeeeee"/><stop offset="0.5" stop-color="#b0b0b0"/><stop offset="1" stop-color="#5a5a5a"/></linearGradient>
<linearGradient id="pg3" x1="0" y1="0" x2="0.3" y2="1"><stop offset="0" stop-color="#9c9c9c"/><stop offset="1" stop-color="#626262"/></linearGradient>
<linearGradient id="pg4" x1="0" y1="0" x2="0.6" y2="1"><stop offset="0" stop-color="#868686"/><stop offset="1" stop-color="#646464"/></linearGradient>
<filter id="soft" x="-5%" y="-5%" width="110%" height="110%"><feGaussianBlur stdDeviation="0.35"/></filter>
<filter id="fEDS_Na" filterUnits="userSpaceOnUse" x="-40" y="-40" width="160" height="140" color-interpolation-filters="sRGB">
 <feTurbulence type="fractalNoise" baseFrequency="0.12 0.14" numOctaves="3" seed="12" result="n"/>
 <feColorMatrix in="n" type="matrix" values="0 0 0 0 1  0 0 0 0 1  0 0 0 0 1  10 0 0 0 -4.3" result="m"/>
 <feTurbulence type="fractalNoise" baseFrequency="0.35" numOctaves="2" seed="3" result="s"/>
 <feColorMatrix in="s" type="matrix" values="0 0 0 0 1  0 0 0 0 1  0 0 0 0 1  0 0 0 1.0 0.45" result="s2"/>
 <feComposite in="m" in2="s2" operator="in" result="mm"/>
 <feGaussianBlur in="mm" stdDeviation="0.3" result="mb"/>
 <feFlood flood-color="#fff" result="fl"/>
 <feComposite in="fl" in2="mb" operator="in"/>
</filter>
<mask id="edsMask_Na" maskUnits="userSpaceOnUse" x="0" y="0" width="80" height="60"><rect x="-40" y="-40" width="160" height="140" fill="#fff" filter="url(#fEDS_Na)" transform="rotate(-35 40 30)"/></mask>
<filter id="fEDS_Mn" filterUnits="userSpaceOnUse" x="-40" y="-40" width="160" height="140" color-interpolation-filters="sRGB">
 <feTurbulence type="fractalNoise" baseFrequency="0.12 0.14" numOctaves="3" seed="12" result="n"/>
 <feColorMatrix in="n" type="matrix" values="0 0 0 0 1  0 0 0 0 1  0 0 0 0 1  10 0 0 0 -4.25" result="m"/>
 <feTurbulence type="fractalNoise" baseFrequency="0.35" numOctaves="2" seed="3" result="s"/>
 <feColorMatrix in="s" type="matrix" values="0 0 0 0 1  0 0 0 0 1  0 0 0 0 1  0 0 0 1.0 0.45" result="s2"/>
 <feComposite in="m" in2="s2" operator="in" result="mm"/>
 <feGaussianBlur in="mm" stdDeviation="0.3" result="mb"/>
 <feFlood flood-color="#fff" result="fl"/>
 <feComposite in="fl" in2="mb" operator="in"/>
</filter>
<mask id="edsMask_Mn" maskUnits="userSpaceOnUse" x="0" y="0" width="80" height="60"><rect x="-40" y="-40" width="160" height="140" fill="#fff" filter="url(#fEDS_Mn)" transform="rotate(-35 40 30)"/></mask>
<filter id="fEDS_Ni" filterUnits="userSpaceOnUse" x="-40" y="-40" width="160" height="140" color-interpolation-filters="sRGB">
 <feTurbulence type="fractalNoise" baseFrequency="0.12 0.14" numOctaves="3" seed="12" result="n"/>
 <feColorMatrix in="n" type="matrix" values="0 0 0 0 1  0 0 0 0 1  0 0 0 0 1  10 0 0 0 -4.7" result="m"/>
 <feTurbulence type="fractalNoise" baseFrequency="0.35" numOctaves="2" seed="3" result="s"/>
 <feColorMatrix in="s" type="matrix" values="0 0 0 0 1  0 0 0 0 1  0 0 0 0 1  0 0 0 1.0 0.45" result="s2"/>
 <feComposite in="m" in2="s2" operator="in" result="mm"/>
 <feGaussianBlur in="mm" stdDeviation="0.3" result="mb"/>
 <feFlood flood-color="#fff" result="fl"/>
 <feComposite in="fl" in2="mb" operator="in"/>
</filter>
<mask id="edsMask_Ni" maskUnits="userSpaceOnUse" x="0" y="0" width="80" height="60"><rect x="-40" y="-40" width="160" height="140" fill="#fff" filter="url(#fEDS_Ni)" transform="rotate(-35 40 30)"/></mask>
<filter id="fEDS_O" filterUnits="userSpaceOnUse" x="-40" y="-40" width="160" height="140" color-interpolation-filters="sRGB">
 <feTurbulence type="fractalNoise" baseFrequency="0.12 0.14" numOctaves="3" seed="12" result="n"/>
 <feColorMatrix in="n" type="matrix" values="0 0 0 0 1  0 0 0 0 1  0 0 0 0 1  10 0 0 0 -3.85" result="m"/>
 <feTurbulence type="fractalNoise" baseFrequency="0.35" numOctaves="2" seed="3" result="s"/>
 <feColorMatrix in="s" type="matrix" values="0 0 0 0 1  0 0 0 0 1  0 0 0 0 1  0 0 0 1.0 0.45" result="s2"/>
 <feComposite in="m" in2="s2" operator="in" result="mm"/>
 <feGaussianBlur in="mm" stdDeviation="0.3" result="mb"/>
 <feFlood flood-color="#fff" result="fl"/>
 <feComposite in="fl" in2="mb" operator="in"/>
</filter>
<mask id="edsMask_O" maskUnits="userSpaceOnUse" x="0" y="0" width="80" height="60"><rect x="-40" y="-40" width="160" height="140" fill="#fff" filter="url(#fEDS_O)" transform="rotate(-35 40 30)"/></mask>
<filter id="fEDS_F" filterUnits="userSpaceOnUse" x="-40" y="-40" width="160" height="140" color-interpolation-filters="sRGB">
 <feTurbulence type="fractalNoise" baseFrequency="0.12 0.14" numOctaves="3" seed="12" result="n"/>
 <feColorMatrix in="n" type="matrix" values="0 0 0 0 1  0 0 0 0 1  0 0 0 0 1  10 0 0 0 -4.2" result="m"/>
 <feTurbulence type="fractalNoise" baseFrequency="0.35" numOctaves="2" seed="3" result="s"/>
 <feColorMatrix in="s" type="matrix" values="0 0 0 0 1  0 0 0 0 1  0 0 0 0 1  0 0 0 1.0 0.45" result="s2"/>
 <feComposite in="m" in2="s2" operator="in" result="mm"/>
 <feGaussianBlur in="mm" stdDeviation="0.3" result="mb"/>
 <feFlood flood-color="#fff" result="fl"/>
 <feComposite in="fl" in2="mb" operator="in"/>
</filter>
<mask id="edsMask_F" maskUnits="userSpaceOnUse" x="0" y="0" width="80" height="60"><rect x="-40" y="-40" width="160" height="140" fill="#fff" filter="url(#fEDS_F)" transform="rotate(-35 40 30)"/></mask>
</defs>
<svg x="227.9" y="154" width="79.4" height="54.1" viewBox="0 0 79.4 54.1" overflow="hidden">
<g filter="url(#soft)"><rect x="-2" y="-2" width="83.4" height="58.1" fill="#5e5e5e"/>
<polygon points="33,3.9 31.4,6.1 22.7,8.9 16.7,7.8 21.7,3.8 30.1,2.6" fill="#3e3e3e" opacity="0.7"/>
<polygon points="32,2.9 30.4,5.1 21.7,7.9 15.7,6.8 20.7,2.8 29.1,1.6" fill="url(#pg4)" stroke="#b8b8b8" stroke-width="0.5"/>
<polygon points="42.3,30.7 39.3,34.1 28.4,33.4 24.9,29.3 29.2,27.4 38.5,28.2" fill="#3e3e3e" opacity="0.7"/>
<polygon points="41.3,29.7 38.3,33.1 27.4,32.4 23.9,28.3 28.2,26.4 37.5,27.2" fill="url(#pg2)" stroke="#b8b8b8" stroke-width="0.5"/>
<polygon points="78.1,36.5 79.5,42.6 75.4,48.6 70.7,49 68.6,42.9 73.6,36.9" fill="#3e3e3e" opacity="0.7"/>
<polygon points="77.1,35.5 78.5,41.6 74.4,47.6 69.7,48 67.6,41.9 72.6,35.9" fill="url(#pg4)" stroke="#b8b8b8" stroke-width="0.5"/>
<polygon points="70.5,12.8 65.2,18.7 58.8,20.4 53.2,18.4 56.4,14.1 63,11.3" fill="#3e3e3e" opacity="0.7"/>
<polygon points="69.5,11.8 64.2,17.7 57.8,19.4 52.2,17.4 55.4,13.1 62,10.3" fill="url(#pg4)" stroke="#b8b8b8" stroke-width="0.5"/>
<polygon points="64.7,52.8 65.8,55.8 58.8,63.9 52.6,65.5 54.3,59.4 61.1,53.2" fill="#3e3e3e" opacity="0.7"/>
<polygon points="63.7,51.8 64.8,54.8 57.8,62.9 51.6,64.5 53.3,58.4 60.1,52.2" fill="url(#pg2)" stroke="#b8b8b8" stroke-width="0.5"/>
<polygon points="37.3,15.9 36.1,20.8 30.8,26.8 27.3,27.3 26.6,22.2 31.7,16.6" fill="#3e3e3e" opacity="0.7"/>
<polygon points="36.3,14.9 35.1,19.8 29.8,25.8 26.3,26.3 25.6,21.2 30.7,15.6" fill="url(#pg2)" stroke="#b8b8b8" stroke-width="0.5"/>
<polygon points="45,17.2 42.3,20 34.5,18.9 32.9,15.2 37.8,11.3 42,12.7" fill="#3e3e3e" opacity="0.7"/>
<polygon points="44,16.2 41.3,19 33.5,17.9 31.9,14.2 36.8,10.3 41,11.7" fill="url(#pg4)" stroke="#b8b8b8" stroke-width="0.5"/>
<polygon points="59,27.5 59.8,32.9 50.1,43.1 46.5,43.5 47.4,35.7 55,28.7" fill="#3e3e3e" opacity="0.7"/>
<polygon points="58,26.5 58.8,31.9 49.1,42.1 45.5,42.5 46.4,34.7 54,27.7" fill="url(#pg2)" stroke="#b8b8b8" stroke-width="0.5"/>
<polygon points="22.4,12.7 18,15 6.7,10.2 4.4,6.1 11.7,3.8 19.5,6.8" fill="#3e3e3e" opacity="0.7"/>
<polygon points="21.4,11.7 17,14 5.7,9.2 3.4,5.1 10.7,2.8 18.5,5.8" fill="url(#pg3)" stroke="#b8b8b8" stroke-width="0.5"/>
<polygon points="93.9,-1.7 87.1,1.3 82,1.3 75.5,-1.9 82.7,-6.1 87.3,-5.6" fill="#3e3e3e" opacity="0.7"/>
<polygon points="92.9,-2.7 86.1,0.3 81,0.3 74.5,-2.9 81.7,-7.1 86.3,-6.6" fill="url(#pg4)" stroke="#b8b8b8" stroke-width="0.5"/>
<polygon points="24.2,19.7 24.1,24.5 18.4,27.4 14.7,25.7 15.3,20.2 20.3,18" fill="#3e3e3e" opacity="0.7"/>
<polygon points="23.2,18.7 23.1,23.5 17.4,26.4 13.7,24.7 14.3,19.2 19.3,17" fill="url(#pg2)" stroke="#b8b8b8" stroke-width="0.5"/>
<polygon points="73,-2.4 70.7,2.6 64.1,7.8 59.3,8 60.6,3.8 69.6,-2.9" fill="#3e3e3e" opacity="0.7"/>
<polygon points="72,-3.4 69.7,1.6 63.1,6.8 58.3,7 59.6,2.8 68.6,-3.9" fill="url(#pg3)" stroke="#b8b8b8" stroke-width="0.5"/>
<polygon points="73,0.1 74.8,4.1 71.7,9.1 67.6,10 67.4,4.7 71.1,-0.1" fill="#3e3e3e" opacity="0.7"/>
<polygon points="72,-0.9 73.8,3.1 70.7,8.1 66.6,9 66.4,3.7 70.1,-1.1" fill="url(#pg2)" stroke="#b8b8b8" stroke-width="0.5"/>
<polygon points="88.4,15.4 89,20.7 85.4,26.3 80.7,27.6 80.1,24.7 83.5,17.7" fill="#3e3e3e" opacity="0.7"/>
<polygon points="87.4,14.4 88,19.7 84.4,25.3 79.7,26.6 79.1,23.7 82.5,16.7" fill="url(#pg4)" stroke="#b8b8b8" stroke-width="0.5"/>
<polygon points="39.5,25.1 36.1,31.5 32.2,34.7 26.1,35.1 25.4,31.9 35.7,25.2" fill="#3e3e3e" opacity="0.7"/>
<polygon points="38.5,24.1 35.1,30.5 31.2,33.7 25.1,34.1 24.4,30.9 34.7,24.2" fill="url(#pg3)" stroke="#b8b8b8" stroke-width="0.5"/>
<polygon points="85.4,61.9 81.7,62 74.8,57.3 74,55.3 78.6,54.4 84.5,58.2" fill="#3e3e3e" opacity="0.7"/>
<polygon points="84.4,60.9 80.7,61 73.8,56.3 73,54.3 77.6,53.4 83.5,57.2" fill="url(#pg2)" stroke="#b8b8b8" stroke-width="0.5"/>
<polygon points="87.5,11.2 86.4,16.4 83.9,19.2 79.1,20 78.3,16.5 83.5,11.6" fill="#3e3e3e" opacity="0.7"/>
<polygon points="86.5,10.2 85.4,15.4 82.9,18.2 78.1,19 77.3,15.5 82.5,10.6" fill="url(#pg3)" stroke="#b8b8b8" stroke-width="0.5"/>
<polygon points="15,28.4 11,29.5 5.1,26.2 4.4,21.1 9.5,19.4 14.1,22.1" fill="#3e3e3e" opacity="0.7"/>
<polygon points="14,27.4 10,28.5 4.1,25.2 3.4,20.1 8.5,18.4 13.1,21.1" fill="url(#pg3)" stroke="#b8b8b8" stroke-width="0.5"/>
<polygon points="12.9,62.9 6.2,61.6 -2.4,57.1 -5.7,52.1 1,52.8 10.5,58.4" fill="#3e3e3e" opacity="0.7"/>
<polygon points="11.9,61.9 5.2,60.6 -3.4,56.1 -6.7,51.1 0,51.8 9.5,57.4" fill="url(#pg4)" stroke="#b8b8b8" stroke-width="0.5"/>
<polygon points="79.4,34 75,37.7 63.6,36.4 59.1,31.9 66.1,29.2 76.1,31" fill="#3e3e3e" opacity="0.7"/>
<polygon points="78.4,33 74,36.7 62.6,35.4 58.1,30.9 65.1,28.2 75.1,30" fill="url(#pg2)" stroke="#b8b8b8" stroke-width="0.5"/>
<polygon points="24,-4.4 23.7,0.6 18.2,6.2 15.1,5.7 14,-0.1 16.8,-3" fill="#3e3e3e" opacity="0.7"/>
<polygon points="23,-5.4 22.7,-0.4 17.2,5.2 14.1,4.7 13,-1.1 15.8,-4" fill="url(#pg4)" stroke="#b8b8b8" stroke-width="0.5"/>
<polygon points="63.7,37.2 63.5,40.8 57.3,43.6 51.4,40.7 52.5,38.3 60,35.3" fill="#3e3e3e" opacity="0.7"/>
<polygon points="62.7,36.2 62.5,39.8 56.3,42.6 50.4,39.7 51.5,37.3 59,34.3" fill="url(#pg4)" stroke="#b8b8b8" stroke-width="0.5"/>
<polygon points="17,49.1 12.4,52.5 3.6,51.7 -0.1,47.9 2.2,44.2 11.4,44.4" fill="#3e3e3e" opacity="0.7"/>
<polygon points="16,48.1 11.4,51.5 2.6,50.7 -1.1,46.9 1.2,43.2 10.4,43.4" fill="url(#pg4)" stroke="#b8b8b8" stroke-width="0.5"/>
<polygon points="23.3,-6.2 23.9,-1.5 20.6,5.5 15.4,6.6 14.1,0.8 17.3,-5.7" fill="#3e3e3e" opacity="0.7"/>
<polygon points="22.3,-7.2 22.9,-2.5 19.6,4.5 14.4,5.6 13.1,-0.2 16.3,-6.7" fill="url(#pg3)" stroke="#b8b8b8" stroke-width="0.5"/>
<polygon points="69.4,1.5 62.2,3 55.6,1.6 51.7,-3.7 55.2,-4.8 64.1,-3.1" fill="#3e3e3e" opacity="0.7"/>
<polygon points="68.4,0.5 61.2,2 54.6,0.6 50.7,-4.7 54.2,-5.8 63.1,-4.1" fill="url(#pg2)" stroke="#b8b8b8" stroke-width="0.5"/>
<polygon points="51.4,22.5 49.6,27.1 42.5,29.3 38.6,26.9 40,23.4 47.2,20.3" fill="#3e3e3e" opacity="0.7"/>
<polygon points="50.4,21.5 48.6,26.1 41.5,28.3 37.6,25.9 39,22.4 46.2,19.3" fill="url(#pg3)" stroke="#b8b8b8" stroke-width="0.5"/>
<polygon points="11.6,50 10,54.7 0.6,58.4 -2.9,57.5 -0.4,51.7 7.2,49.2" fill="#3e3e3e" opacity="0.7"/>
<polygon points="10.6,49 9,53.7 -0.4,57.4 -3.9,56.5 -1.4,50.7 6.2,48.2" fill="url(#pg4)" stroke="#b8b8b8" stroke-width="0.5"/>
<polygon points="87.9,39.6 87.3,43.5 78.1,46.9 70.9,45.3 73.1,41.3 82.5,37.2" fill="#3e3e3e" opacity="0.7"/>
<polygon points="86.9,38.6 86.3,42.5 77.1,45.9 69.9,44.3 72.1,40.3 81.5,36.2" fill="url(#pg4)" stroke="#b8b8b8" stroke-width="0.5"/>
<polygon points="50.5,62.1 47.3,63.8 41.1,62.3 38.6,57.4 41.9,56 48.9,59.1" fill="#3e3e3e" opacity="0.7"/>
<polygon points="49.5,61.1 46.3,62.8 40.1,61.3 37.6,56.4 40.9,55 47.9,58.1" fill="url(#pg2)" stroke="#b8b8b8" stroke-width="0.5"/>
<polygon points="20.6,41 19.8,45 13.1,52.7 8,54.2 8.3,48.5 13.8,41.5" fill="#3e3e3e" opacity="0.7"/>
<polygon points="19.6,40 18.8,44 12.1,51.7 7,53.2 7.3,47.5 12.8,40.5" fill="url(#pg3)" stroke="#b8b8b8" stroke-width="0.5"/>
<polygon points="38.6,42 36.3,44.8 29.6,43.9 26.6,40.1 30.7,38.4 35.5,38.1" fill="#3e3e3e" opacity="0.7"/>
<polygon points="37.6,41 35.3,43.8 28.6,42.9 25.6,39.1 29.7,37.4 34.5,37.1" fill="url(#pg3)" stroke="#b8b8b8" stroke-width="0.5"/>
<polygon points="33.5,39.9 35.2,44.2 31.4,50.1 26.4,51.1 25.2,47 27.4,41.2" fill="#3e3e3e" opacity="0.7"/>
<polygon points="32.5,38.9 34.2,43.2 30.4,49.1 25.4,50.1 24.2,46 26.4,40.2" fill="url(#pg4)" stroke="#b8b8b8" stroke-width="0.5"/>
<polygon points="28.8,58.5 23.7,60.9 14.7,58.6 10.3,55.9 16.1,54.2 25.7,55.7" fill="#3e3e3e" opacity="0.7"/>
<polygon points="27.8,57.5 22.7,59.9 13.7,57.6 9.3,54.9 15.1,53.2 24.7,54.7" fill="url(#pg4)" stroke="#b8b8b8" stroke-width="0.5"/>
<polygon points="77.4,39.9 75.8,44 69.4,49.5 61.4,51.6 66,44.6 70,41.3" fill="#3e3e3e" opacity="0.7"/>
<polygon points="76.4,38.9 74.8,43 68.4,48.5 60.4,50.6 65,43.6 69,40.3" fill="url(#pg2)" stroke="#b8b8b8" stroke-width="0.5"/>
<polygon points="17.7,-1.4 16.3,5.4 12.1,9.4 6.3,9.7 5.3,5.7 10.2,-0" fill="#3e3e3e" opacity="0.7"/>
<polygon points="16.7,-2.4 15.3,4.4 11.1,8.4 5.3,8.7 4.3,4.7 9.2,-1" fill="url(#pg3)" stroke="#b8b8b8" stroke-width="0.5"/>
<polygon points="57.1,-4.3 57.6,-1.4 55.7,5.6 52,9.2 50.3,6.6 53.5,-2.1" fill="#3e3e3e" opacity="0.7"/>
<polygon points="56.1,-5.3 56.6,-2.4 54.7,4.6 51,8.2 49.3,5.6 52.5,-3.1" fill="url(#pg4)" stroke="#b8b8b8" stroke-width="0.5"/>
<polygon points="20.1,15.7 19.8,18.7 15.7,22.8 10.9,23.3 11.2,20.5 16.1,16" fill="#3e3e3e" opacity="0.7"/>
<polygon points="19.1,14.7 18.8,17.7 14.7,21.8 9.9,22.3 10.2,19.5 15.1,15" fill="url(#pg4)" stroke="#b8b8b8" stroke-width="0.5"/>
<polygon points="38.2,10.4 37.3,16.1 32.8,19.1 27.2,19.4 27.8,11.6 33,9.4" fill="#3e3e3e" opacity="0.7"/>
<polygon points="37.2,9.4 36.3,15.1 31.8,18.1 26.2,18.4 26.8,10.6 32,8.4" fill="url(#pg3)" stroke="#b8b8b8" stroke-width="0.5"/>
<polygon points="57.6,51.9 57.4,55.6 52.6,59.1 49.3,57.3 50.3,52.1 54.8,49.8" fill="#3e3e3e" opacity="0.7"/>
<polygon points="56.6,50.9 56.4,54.6 51.6,58.1 48.3,56.3 49.3,51.1 53.8,48.8" fill="url(#pg3)" stroke="#b8b8b8" stroke-width="0.5"/>
<polygon points="59.4,43.9 57.6,51.4 53.9,56.2 47.2,58.7 48,51.7 53.1,45.3" fill="#3e3e3e" opacity="0.7"/>
<polygon points="58.4,42.9 56.6,50.4 52.9,55.2 46.2,57.7 47,50.7 52.1,44.3" fill="url(#pg4)" stroke="#b8b8b8" stroke-width="0.5"/>
<polygon points="59.3,12.8 57.2,17.7 52.1,20.4 48.3,18.5 49.4,14.9 55.7,11.8" fill="#3e3e3e" opacity="0.7"/>
<polygon points="58.3,11.8 56.2,16.7 51.1,19.4 47.3,17.5 48.4,13.9 54.7,10.8" fill="url(#pg3)" stroke="#b8b8b8" stroke-width="0.5"/>
<polygon points="7.7,34.2 9.4,37.9 2.9,50.1 -1.9,51.5 -1.3,44 3.7,36.4" fill="#3e3e3e" opacity="0.7"/>
<polygon points="6.7,33.2 8.4,36.9 1.9,49.1 -2.9,50.5 -2.3,43 2.7,35.4" fill="url(#pg4)" stroke="#b8b8b8" stroke-width="0.5"/>
<polygon points="14.6,47.4 15.3,52.2 12.3,57.2 5.3,58.4 5,55.4 9.3,48.4" fill="#3e3e3e" opacity="0.7"/>
<polygon points="13.6,46.4 14.3,51.2 11.3,56.2 4.3,57.4 4,54.4 8.3,47.4" fill="url(#pg2)" stroke="#b8b8b8" stroke-width="0.5"/>
<polygon points="53.7,40 49.9,39.5 40.2,31.8 36.5,26.3 44.5,28.9 52.9,36.5" fill="#3e3e3e" opacity="0.7"/>
<polygon points="52.7,39 48.9,38.5 39.2,30.8 35.5,25.3 43.5,27.9 51.9,35.5" fill="url(#pg4)" stroke="#b8b8b8" stroke-width="0.5"/>
<polygon points="67.7,43.6 64.9,46.2 59.7,46.8 55.1,44 58.1,41.5 65.2,41.7" fill="#3e3e3e" opacity="0.7"/>
<polygon points="66.7,42.6 63.9,45.2 58.7,45.8 54.1,43 57.1,40.5 64.2,40.7" fill="url(#pg3)" stroke="#b8b8b8" stroke-width="0.5"/>
<polygon points="65,24.9 63,27.4 56.2,27.1 54,24.6 56.1,23 61.1,22.1" fill="#3e3e3e" opacity="0.7"/>
<polygon points="64,23.9 62,26.4 55.2,26.1 53,23.6 55.1,22 60.1,21.1" fill="url(#pg4)" stroke="#b8b8b8" stroke-width="0.5"/>
<polygon points="4.8,23 1.4,30.2 -3.6,36.2 -11,39.9 -7.6,32.7 0,24.9" fill="#3e3e3e" opacity="0.7"/>
<polygon points="3.8,22 0.4,29.2 -4.6,35.2 -12,38.9 -8.6,31.7 -1,23.9" fill="url(#pg4)" stroke="#b8b8b8" stroke-width="0.5"/>
<polygon points="23.4,40.8 19.3,42.4 14,37.8 14.6,33.3 19.5,32.2 23.9,36.3" fill="#3e3e3e" opacity="0.7"/>
<polygon points="22.4,39.8 18.3,41.4 13,36.8 13.6,32.3 18.5,31.2 22.9,35.3" fill="url(#pg4)" stroke="#b8b8b8" stroke-width="0.5"/>
<polygon points="21.9,25.6 15.9,25.4 9.7,23.4 4,17.4 9.7,16.3 16.8,19.4" fill="#3e3e3e" opacity="0.7"/>
<polygon points="20.9,24.6 14.9,24.4 8.7,22.4 3,16.4 8.7,15.3 15.8,18.4" fill="url(#pg3)" stroke="#b8b8b8" stroke-width="0.5"/>
<polygon points="32.1,5.8 30.1,7.3 23.2,6.9 21.4,5.1 25.7,2.7 28.5,2.6" fill="#3e3e3e" opacity="0.7"/>
<polygon points="31.1,4.8 29.1,6.3 22.2,5.9 20.4,4.1 24.7,1.7 27.5,1.6" fill="url(#pg4)" stroke="#b8b8b8" stroke-width="0.5"/>
<polygon points="73.2,31.3 73.2,34.8 70.3,40.2 66.1,43.2 66.6,37.4 69.2,32.5" fill="#3e3e3e" opacity="0.7"/>
<polygon points="72.2,30.3 72.2,33.8 69.3,39.2 65.1,42.2 65.6,36.4 68.2,31.5" fill="url(#pg4)" stroke="#b8b8b8" stroke-width="0.5"/>
<polygon points="45.6,2.2 40.3,4.2 34.3,1.5 29.3,-4.7 35.1,-6 43.3,-3" fill="#3e3e3e" opacity="0.7"/>
<polygon points="44.6,1.2 39.3,3.2 33.3,0.5 28.3,-5.7 34.1,-7 42.3,-4" fill="url(#pg3)" stroke="#b8b8b8" stroke-width="0.5"/>
<polygon points="49.9,6.1 44.8,6.5 34.7,3.6 32.4,1.2 38.4,-0.1 46.5,2.8" fill="#3e3e3e" opacity="0.7"/>
<polygon points="48.9,5.1 43.8,5.5 33.7,2.6 31.4,0.2 37.4,-1.1 45.5,1.8" fill="url(#pg4)" stroke="#b8b8b8" stroke-width="0.5"/>
<polygon points="32.5,17.7 29.3,20.8 23.8,20.4 21.6,17.4 25.5,13 29.6,12.9" fill="#3e3e3e" opacity="0.7"/>
<polygon points="31.5,16.7 28.3,19.8 22.8,19.4 20.6,16.4 24.5,12 28.6,11.9" fill="url(#pg3)" stroke="#b8b8b8" stroke-width="0.5"/>
<polygon points="22.8,61 17.9,62.4 12.7,58.7 13.1,52.5 17.6,51.9 22.4,55.5" fill="#3e3e3e" opacity="0.7"/>
<polygon points="21.8,60 16.9,61.4 11.7,57.7 12.1,51.5 16.6,50.9 21.4,54.5" fill="url(#pg4)" stroke="#b8b8b8" stroke-width="0.5"/>
<polygon points="45.8,7.5 40.2,8.6 31.1,6.8 27.9,2.8 34.2,1.4 42.4,3.2" fill="#3e3e3e" opacity="0.7"/>
<polygon points="44.8,6.5 39.2,7.6 30.1,5.8 26.9,1.8 33.2,0.4 41.4,2.2" fill="url(#pg2)" stroke="#b8b8b8" stroke-width="0.5"/>
<polygon points="65.9,34.4 62.7,39 57,40.3 54.2,37.5 54.5,35.1 61.5,32.5" fill="#3e3e3e" opacity="0.7"/>
<polygon points="64.9,33.4 61.7,38 56,39.3 53.2,36.5 53.5,34.1 60.5,31.5" fill="url(#pg3)" stroke="#b8b8b8" stroke-width="0.5"/>
<polygon points="70.1,26.4 64.7,32.2 57.7,33.5 52,31.6 53.3,27.1 64.4,24.4" fill="#3e3e3e" opacity="0.7"/>
<polygon points="69.1,25.4 63.7,31.2 56.7,32.5 51,30.6 52.3,26.1 63.4,23.4" fill="url(#pg3)" stroke="#b8b8b8" stroke-width="0.5"/>
<polygon points="31,29.4 22.4,27.4 16.8,22.6 15.7,14.6 22.6,15.5 31.9,24.3" fill="#3e3e3e" opacity="0.7"/>
<polygon points="30,28.4 21.4,26.4 15.8,21.6 14.7,13.6 21.6,14.5 30.9,23.3" fill="url(#pg2)" stroke="#b8b8b8" stroke-width="0.5"/>
<polygon points="32.2,46.3 31.5,51 27.7,54.6 22.4,55 24.2,49.9 29.3,45.3" fill="#3e3e3e" opacity="0.7"/>
<polygon points="31.2,45.3 30.5,50 26.7,53.6 21.4,54 23.2,48.9 28.3,44.3" fill="url(#pg3)" stroke="#b8b8b8" stroke-width="0.5"/>
<polygon points="48.4,11.5 48.9,17.1 42.7,23.7 37.5,24.8 38.2,18.9 45.2,11.6" fill="#3e3e3e" opacity="0.7"/>
<polygon points="47.4,10.5 47.9,16.1 41.7,22.7 36.5,23.8 37.2,17.9 44.2,10.6" fill="url(#pg4)" stroke="#b8b8b8" stroke-width="0.5"/>
<polygon points="21.8,38 19.3,41.8 12.7,44.8 5.8,43.6 9.7,37.3 16.1,35.3" fill="#3e3e3e" opacity="0.7"/>
<polygon points="20.8,37 18.3,40.8 11.7,43.8 4.8,42.6 8.7,36.3 15.1,34.3" fill="url(#pg2)" stroke="#b8b8b8" stroke-width="0.5"/>
<polygon points="39.5,23 34.8,25.1 21.6,24.7 19.7,22.3 24.7,20.3 34.5,20.5" fill="#3e3e3e" opacity="0.7"/>
<polygon points="38.5,22 33.8,24.1 20.6,23.7 18.7,21.3 23.7,19.3 33.5,19.5" fill="url(#pg3)" stroke="#b8b8b8" stroke-width="0.5"/>
<polygon points="26.5,13.7 24.4,18.5 20.8,21.1 16.2,22.4 18.4,16.8 22.4,14.3" fill="#3e3e3e" opacity="0.7"/>
<polygon points="25.5,12.7 23.4,17.5 19.8,20.1 15.2,21.4 17.4,15.8 21.4,13.3" fill="url(#pg4)" stroke="#b8b8b8" stroke-width="0.5"/>
<polygon points="36.2,2.1 35,5.6 29.9,7.7 27.6,5.2 28.3,-0.3 33.9,-0.9" fill="#3e3e3e" opacity="0.7"/>
<polygon points="35.2,1.1 34,4.6 28.9,6.7 26.6,4.2 27.3,-1.3 32.9,-1.9" fill="url(#pg4)" stroke="#b8b8b8" stroke-width="0.5"/>
<polygon points="36.2,41.8 35.6,47.7 28.8,53.2 21.3,56.5 24.5,48.4 30,42.8" fill="#3e3e3e" opacity="0.7"/>
<polygon points="35.2,40.8 34.6,46.7 27.8,52.2 20.3,55.5 23.5,47.4 29,41.8" fill="url(#pg3)" stroke="#b8b8b8" stroke-width="0.5"/>
<polygon points="41.4,18.5 42.9,23.7 39.7,26.2 35.2,27.2 34.7,21.7 38.5,17.4" fill="#3e3e3e" opacity="0.7"/>
<polygon points="40.4,17.5 41.9,22.7 38.7,25.2 34.2,26.2 33.7,20.7 37.5,16.4" fill="url(#pg4)" stroke="#b8b8b8" stroke-width="0.5"/>
<polygon points="28.2,35.7 26.2,37.4 16.8,32.5 14.1,27.2 21,26.5 27.9,31.4" fill="#3e3e3e" opacity="0.7"/>
<polygon points="27.2,34.7 25.2,36.4 15.8,31.5 13.1,26.2 20,25.5 26.9,30.4" fill="url(#pg4)" stroke="#b8b8b8" stroke-width="0.5"/>
<polygon points="37.7,33.1 33.4,37.8 23.8,42.8 20.3,42 24.1,36.1 31.3,32.5" fill="#3e3e3e" opacity="0.7"/>
<polygon points="36.7,32.1 32.4,36.8 22.8,41.8 19.3,41 23.1,35.1 30.3,31.5" fill="url(#pg2)" stroke="#b8b8b8" stroke-width="0.5"/>
<polygon points="52.9,43.8 53.6,50.5 49.8,61.1 46.3,62.6 45.4,56 48.5,48.7" fill="#3e3e3e" opacity="0.7"/>
<polygon points="51.9,42.8 52.6,49.5 48.8,60.1 45.3,61.6 44.4,55 47.5,47.7" fill="url(#pg2)" stroke="#b8b8b8" stroke-width="0.5"/>
<polygon points="25,43.7 21.3,46.3 9.2,47.2 3.5,44.3 9.8,41.4 19.4,41.4" fill="#3e3e3e" opacity="0.7"/>
<polygon points="24,42.7 20.3,45.3 8.2,46.2 2.5,43.3 8.8,40.4 18.4,40.4" fill="url(#pg3)" stroke="#b8b8b8" stroke-width="0.5"/>
<polygon points="10.9,44.3 8.1,50 3.2,51.8 -0.8,51 0.2,46.3 6.6,42.8" fill="#3e3e3e" opacity="0.7"/>
<polygon points="9.9,43.3 7.1,49 2.2,50.8 -1.8,50 -0.8,45.3 5.6,41.8" fill="url(#pg3)" stroke="#b8b8b8" stroke-width="0.5"/>
<polygon points="27.5,48.8 23.4,50.2 16.2,49.8 12.3,43.1 18.4,40.9 23.7,42.2" fill="#3e3e3e" opacity="0.7"/>
<polygon points="26.5,47.8 22.4,49.2 15.2,48.8 11.3,42.1 17.4,39.9 22.7,41.2" fill="url(#pg4)" stroke="#b8b8b8" stroke-width="0.5"/>
<polygon points="30,8.8 28.8,13.4 21.2,14.9 19.8,12 20.3,7.9 26.9,6.9" fill="#3e3e3e" opacity="0.7"/>
<polygon points="29,7.8 27.8,12.4 20.2,13.9 18.8,11 19.3,6.9 25.9,5.9" fill="url(#pg4)" stroke="#b8b8b8" stroke-width="0.5"/>
<polygon points="72,55.9 68.8,58.3 60.6,59.2 55.2,56.6 58,53.9 67.2,52.7" fill="#3e3e3e" opacity="0.7"/>
<polygon points="71,54.9 67.8,57.3 59.6,58.2 54.2,55.6 57,52.9 66.2,51.7" fill="url(#pg3)" stroke="#b8b8b8" stroke-width="0.5"/>
</g></svg>
<rect x="227.4" y="153.5" width="80.4" height="55.1" fill="none" stroke="#ee8a40" stroke-width="1.0"/>
<text x="231.3" y="168.3" font-family="'Liberation Serif', 'Times New Roman', serif" font-size="13" font-weight="bold" fill="#fff" text-anchor="start" >e</text>
<text x="277.6" y="165" font-family="'Liberation Serif', 'Times New Roman', serif" font-size="8.7" font-weight="normal" fill="#fff" text-anchor="start" >NNMO</text>
<rect x="229.4" y="204.2" width="32" height="1.6" fill="#fff"/>
<svg x="227.9" y="211.6" width="79.4" height="55.1" viewBox="0 0 79.4 55.1" overflow="hidden">
<g filter="url(#soft)"><rect x="-2" y="-2" width="83.4" height="59.1" fill="#5a5a5a"/>
<polygon points="45.1,32.8 42.2,36.4 35.3,38.1 28.6,34.4 28.9,28.9 33.3,27.5 40.3,28.1" fill="#3e3e3e" opacity="0.7"/>
<polygon points="44.1,31.8 41.2,35.4 34.3,37.1 27.6,33.4 27.9,27.9 32.3,26.5 39.3,27.1" fill="url(#pg4)" stroke="#b8b8b8" stroke-width="0.5"/>
<polygon points="71.8,14.3 71,19.2 64.1,21.9 59,21.1 59,17.8 62.1,14.6 69,12.1" fill="#3e3e3e" opacity="0.7"/>
<polygon points="70.8,13.3 70,18.2 63.1,20.9 58,20.1 58,16.8 61.1,13.6 68,11.1" fill="url(#pg4)" stroke="#b8b8b8" stroke-width="0.5"/>
<polygon points="44.4,61.5 42.8,63.9 37.1,63.4 31.7,61 32.2,57 38.1,55.5 41.8,57.1" fill="#3e3e3e" opacity="0.7"/>
<polygon points="43.4,60.5 41.8,62.9 36.1,62.4 30.7,60 31.2,56 37.1,54.5 40.8,56.1" fill="url(#pg2)" stroke="#b8b8b8" stroke-width="0.5"/>
<polygon points="79.5,53.1 79.6,60.8 76.5,65.7 68.5,65.4 66,63 67.8,56.3 74.8,52.3" fill="#3e3e3e" opacity="0.7"/>
<polygon points="78.5,52.1 78.6,59.8 75.5,64.7 67.5,64.4 65,62 66.8,55.3 73.8,51.3" fill="url(#pg4)" stroke="#b8b8b8" stroke-width="0.5"/>
<polygon points="21.2,1.7 21.1,7.8 11.9,12 6,12.3 4.1,5.2 8.9,1.2 16.4,0.1" fill="#3e3e3e" opacity="0.7"/>
<polygon points="20.2,0.7 20.1,6.8 10.9,11 5,11.3 3.1,4.2 7.9,0.2 15.4,-0.9" fill="url(#pg4)" stroke="#b8b8b8" stroke-width="0.5"/>
<polygon points="26.3,53.9 26,56.9 21.4,60.2 15.7,59 15.7,56.5 19.5,51.6 22.5,51.5" fill="#3e3e3e" opacity="0.7"/>
<polygon points="25.3,52.9 25,55.9 20.4,59.2 14.7,58 14.7,55.5 18.5,50.6 21.5,50.5" fill="url(#pg2)" stroke="#b8b8b8" stroke-width="0.5"/>
<polygon points="29.7,64.1 26,66.4 20.8,65.8 18.5,62 20.4,57 25.1,56.2 30.1,58.3" fill="#3e3e3e" opacity="0.7"/>
<polygon points="28.7,63.1 25,65.4 19.8,64.8 17.5,61 19.4,56 24.1,55.2 29.1,57.3" fill="url(#pg2)" stroke="#b8b8b8" stroke-width="0.5"/>
<polygon points="38.5,46.8 33,49.4 26.2,47.2 23.8,41.5 24.6,38.9 30,37.9 37.2,42.7" fill="#3e3e3e" opacity="0.7"/>
<polygon points="37.5,45.8 32,48.4 25.2,46.2 22.8,40.5 23.6,37.9 29,36.9 36.2,41.7" fill="url(#pg2)" stroke="#b8b8b8" stroke-width="0.5"/>
<polygon points="21.8,28.3 17.2,31.5 7.2,28 6.1,23.5 8.1,18.3 15.6,18 22.4,24.1" fill="#3e3e3e" opacity="0.7"/>
<polygon points="20.8,27.3 16.2,30.5 6.2,27 5.1,22.5 7.1,17.3 14.6,17 21.4,23.1" fill="url(#pg4)" stroke="#b8b8b8" stroke-width="0.5"/>
<polygon points="77.9,11.2 75.7,17 69.3,20.5 62.3,18.2 62.1,15 66.6,9.8 74.2,8.5" fill="#3e3e3e" opacity="0.7"/>
<polygon points="76.9,10.2 74.7,16 68.3,19.5 61.3,17.2 61.1,14 65.6,8.8 73.2,7.5" fill="url(#pg4)" stroke="#b8b8b8" stroke-width="0.5"/>
<polygon points="49.9,0.2 48.7,3 42.9,5.1 38.2,0.8 39.6,-5.6 43.2,-8.3 47.5,-7.2" fill="#3e3e3e" opacity="0.7"/>
<polygon points="48.9,-0.8 47.7,2 41.9,4.1 37.2,-0.2 38.6,-6.6 42.2,-9.3 46.5,-8.2" fill="url(#pg4)" stroke="#b8b8b8" stroke-width="0.5"/>
<polygon points="69.4,47 67.2,51.4 59.2,55.6 56.1,55.2 53.1,49.3 57.6,43.5 61.9,42.6" fill="#3e3e3e" opacity="0.7"/>
<polygon points="68.4,46 66.2,50.4 58.2,54.6 55.1,54.2 52.1,48.3 56.6,42.5 60.9,41.6" fill="url(#pg3)" stroke="#b8b8b8" stroke-width="0.5"/>
<polygon points="48,63.4 42.2,66.8 34.3,65.6 29.8,62.6 29.6,56.9 39,56 43.5,57.8" fill="#3e3e3e" opacity="0.7"/>
<polygon points="47,62.4 41.2,65.8 33.3,64.6 28.8,61.6 28.6,55.9 38,55 42.5,56.8" fill="url(#pg4)" stroke="#b8b8b8" stroke-width="0.5"/>
<polygon points="20.6,27.4 20,32.4 15.6,36.5 9.9,37.8 7.3,33.9 8.6,27.4 14.9,24.9" fill="#3e3e3e" opacity="0.7"/>
<polygon points="19.6,26.4 19,31.4 14.6,35.5 8.9,36.8 6.3,32.9 7.6,26.4 13.9,23.9" fill="url(#pg4)" stroke="#b8b8b8" stroke-width="0.5"/>
<polygon points="86.8,0.2 85.4,4.3 77.9,8.9 73.4,9.2 71,6.2 75.7,1.9 83.1,-0.8" fill="#3e3e3e" opacity="0.7"/>
<polygon points="85.8,-0.8 84.4,3.3 76.9,7.9 72.4,8.2 70,5.2 74.7,0.9 82.1,-1.8" fill="url(#pg3)" stroke="#b8b8b8" stroke-width="0.5"/>
<polygon points="26.2,41.2 22.1,48.4 17.5,50.4 10.3,49.9 9.4,42.5 14.3,38.7 22.1,37.4" fill="#3e3e3e" opacity="0.7"/>
<polygon points="25.2,40.2 21.1,47.4 16.5,49.4 9.3,48.9 8.4,41.5 13.3,37.7 21.1,36.4" fill="url(#pg4)" stroke="#b8b8b8" stroke-width="0.5"/>
<polygon points="64.6,41.2 59.4,44.7 55.1,42.1 52.8,38.3 55,31.8 61,31.5 64.9,34.3" fill="#3e3e3e" opacity="0.7"/>
<polygon points="63.6,40.2 58.4,43.7 54.1,41.1 51.8,37.3 54,30.8 60,30.5 63.9,33.3" fill="url(#pg3)" stroke="#b8b8b8" stroke-width="0.5"/>
<polygon points="57.7,-7.1 56.7,-1.7 52.8,3 42.9,2.6 41.5,-2 47.3,-8.6 54.1,-10" fill="#3e3e3e" opacity="0.7"/>
<polygon points="56.7,-8.1 55.7,-2.7 51.8,2 41.9,1.6 40.5,-3 46.3,-9.6 53.1,-11" fill="url(#pg4)" stroke="#b8b8b8" stroke-width="0.5"/>
<polygon points="14.9,16.1 11.9,21 4.9,22.8 2.6,21.5 1,16.5 4.9,13.1 12,13.6" fill="#3e3e3e" opacity="0.7"/>
<polygon points="13.9,15.1 10.9,20 3.9,21.8 1.6,20.5 0,15.5 3.9,12.1 11,12.6" fill="url(#pg4)" stroke="#b8b8b8" stroke-width="0.5"/>
<polygon points="90.2,-5.1 89.6,-0.2 82.3,3.8 76.6,1.5 75.6,-2.5 80.4,-7 87.7,-8" fill="#3e3e3e" opacity="0.7"/>
<polygon points="89.2,-6.1 88.6,-1.2 81.3,2.8 75.6,0.5 74.6,-3.5 79.4,-8 86.7,-9" fill="url(#pg3)" stroke="#b8b8b8" stroke-width="0.5"/>
<polygon points="80.2,30.7 77.4,35.1 69,36.3 65.9,34.7 65.7,28.7 69.2,26.8 78,27.5" fill="#3e3e3e" opacity="0.7"/>
<polygon points="79.2,29.7 76.4,34.1 68,35.3 64.9,33.7 64.7,27.7 68.2,25.8 77,26.5" fill="url(#pg3)" stroke="#b8b8b8" stroke-width="0.5"/>
<polygon points="44.3,28.4 38.6,31.5 33.9,31.6 27.3,29.5 25.3,25.6 32.3,22.5 40.6,23.5" fill="#3e3e3e" opacity="0.7"/>
<polygon points="43.3,27.4 37.6,30.5 32.9,30.6 26.3,28.5 24.3,24.6 31.3,21.5 39.6,22.5" fill="url(#pg3)" stroke="#b8b8b8" stroke-width="0.5"/>
<polygon points="86.5,47.7 83.6,48.9 77.4,46.6 75.5,43.5 77.6,39 80.9,39.3 86.1,43.1" fill="#3e3e3e" opacity="0.7"/>
<polygon points="85.5,46.7 82.6,47.9 76.4,45.6 74.5,42.5 76.6,38 79.9,38.3 85.1,42.1" fill="url(#pg4)" stroke="#b8b8b8" stroke-width="0.5"/>
<polygon points="68.2,59 63.8,60.6 59,57.7 57.9,52.5 61.1,50.6 64.3,50.4 68.9,54.3" fill="#3e3e3e" opacity="0.7"/>
<polygon points="67.2,58 62.8,59.6 58,56.7 56.9,51.5 60.1,49.6 63.3,49.4 67.9,53.3" fill="url(#pg3)" stroke="#b8b8b8" stroke-width="0.5"/>
<polygon points="38.3,15.7 39.9,23.2 37.9,25.7 32.9,25.9 28.7,20.1 29.4,16.1 33.3,13.6" fill="#3e3e3e" opacity="0.7"/>
<polygon points="37.3,14.7 38.9,22.2 36.9,24.7 31.9,24.9 27.7,19.1 28.4,15.1 32.3,12.6" fill="url(#pg2)" stroke="#b8b8b8" stroke-width="0.5"/>
<polygon points="42.4,48.2 40,51.1 34.7,52.8 28.9,51.2 29.3,46.5 33.8,43.9 37.3,43.5" fill="#3e3e3e" opacity="0.7"/>
<polygon points="41.4,47.2 39,50.1 33.7,51.8 27.9,50.2 28.3,45.5 32.8,42.9 36.3,42.5" fill="url(#pg2)" stroke="#b8b8b8" stroke-width="0.5"/>
<polygon points="90.2,39.4 87.3,41.8 79.8,42.4 74.6,39.3 75.1,35.5 80.4,33.8 88.7,35.8" fill="#3e3e3e" opacity="0.7"/>
<polygon points="89.2,38.4 86.3,40.8 78.8,41.4 73.6,38.3 74.1,34.5 79.4,32.8 87.7,34.8" fill="url(#pg4)" stroke="#b8b8b8" stroke-width="0.5"/>
<polygon points="66.4,58.5 61.6,62.1 56.1,61.6 52.7,56.8 53.5,50.8 58.2,49.4 64.6,52" fill="#3e3e3e" opacity="0.7"/>
<polygon points="65.4,57.5 60.6,61.1 55.1,60.6 51.7,55.8 52.5,49.8 57.2,48.4 63.6,51" fill="url(#pg2)" stroke="#b8b8b8" stroke-width="0.5"/>
<polygon points="65.3,19.3 60.9,21.7 56.9,20.8 55.2,15.2 59.8,9.5 65.3,9.6 67.6,13.8" fill="#3e3e3e" opacity="0.7"/>
<polygon points="64.3,18.3 59.9,20.7 55.9,19.8 54.2,14.2 58.8,8.5 64.3,8.6 66.6,12.8" fill="url(#pg4)" stroke="#b8b8b8" stroke-width="0.5"/>
<polygon points="84.5,17.1 81.6,24 76.2,25.6 71,20.6 70.9,15.4 76.7,12.2 81.2,12.7" fill="#3e3e3e" opacity="0.7"/>
<polygon points="83.5,16.1 80.6,23 75.2,24.6 70,19.6 69.9,14.4 75.7,11.2 80.2,11.7" fill="url(#pg3)" stroke="#b8b8b8" stroke-width="0.5"/>
<polygon points="58.3,58.7 57.9,62.8 54.6,65.3 49.1,65.8 46.2,61.4 49.7,55.6 53.7,55.2" fill="#3e3e3e" opacity="0.7"/>
<polygon points="57.3,57.7 56.9,61.8 53.6,64.3 48.1,64.8 45.2,60.4 48.7,54.6 52.7,54.2" fill="url(#pg4)" stroke="#b8b8b8" stroke-width="0.5"/>
<polygon points="50.8,3.1 48.6,9.1 44,10.9 34.1,9.8 34.5,7.5 38.8,2.8 45.8,0.6" fill="#3e3e3e" opacity="0.7"/>
<polygon points="49.8,2.1 47.6,8.1 43,9.9 33.1,8.8 33.5,6.5 37.8,1.8 44.8,-0.4" fill="url(#pg3)" stroke="#b8b8b8" stroke-width="0.5"/>
<polygon points="84,10.2 80.6,11.7 74.2,11.7 68.5,6.1 71.2,1.2 75.4,-0.5 81.9,1.8" fill="#3e3e3e" opacity="0.7"/>
<polygon points="83,9.2 79.6,10.7 73.2,10.7 67.5,5.1 70.2,0.2 74.4,-1.5 80.9,0.8" fill="url(#pg4)" stroke="#b8b8b8" stroke-width="0.5"/>
<polygon points="14.9,1.6 10.1,3.5 0.1,2 -4.6,-3.5 -3.5,-7.1 6.9,-6.3 10.9,-4.3" fill="#3e3e3e" opacity="0.7"/>
<polygon points="13.9,0.6 9.1,2.5 -0.9,1 -5.6,-4.5 -4.5,-8.1 5.9,-7.3 9.9,-5.3" fill="url(#pg4)" stroke="#b8b8b8" stroke-width="0.5"/>
<polygon points="20.8,19.2 18.2,21.9 11.5,21.5 7.5,16.5 10,14.2 15,13.5 18.8,15.9" fill="#3e3e3e" opacity="0.7"/>
<polygon points="19.8,18.2 17.2,20.9 10.5,20.5 6.5,15.5 9,13.2 14,12.5 17.8,14.9" fill="url(#pg2)" stroke="#b8b8b8" stroke-width="0.5"/>
<polygon points="26.8,51 24.7,57.8 18.9,59.2 14.5,57.1 12.2,54.1 15,48.9 22,47.1" fill="#3e3e3e" opacity="0.7"/>
<polygon points="25.8,50 23.7,56.8 17.9,58.2 13.5,56.1 11.2,53.1 14,47.9 21,46.1" fill="url(#pg3)" stroke="#b8b8b8" stroke-width="0.5"/>
<polygon points="30.8,41.3 27.9,44.1 20.9,44.3 15.9,41.3 17.3,36.3 20.4,34.5 29.1,36.3" fill="#3e3e3e" opacity="0.7"/>
<polygon points="29.8,40.3 26.9,43.1 19.9,43.3 14.9,40.3 16.3,35.3 19.4,33.5 28.1,35.3" fill="url(#pg4)" stroke="#b8b8b8" stroke-width="0.5"/>
<polygon points="71.7,31.9 64.4,34.7 58.6,31.9 54,27.6 57.5,20.4 63,21.4 69.8,24.8" fill="#3e3e3e" opacity="0.7"/>
<polygon points="70.7,30.9 63.4,33.7 57.6,30.9 53,26.6 56.5,19.4 62,20.4 68.8,23.8" fill="url(#pg4)" stroke="#b8b8b8" stroke-width="0.5"/>
<polygon points="89.4,27.9 85.1,33.7 81.6,33.5 77.8,30.4 78.1,25 80.8,20.7 86.6,21.7" fill="#3e3e3e" opacity="0.7"/>
<polygon points="88.4,26.9 84.1,32.7 80.6,32.5 76.8,29.4 77.1,24 79.8,19.7 85.6,20.7" fill="url(#pg4)" stroke="#b8b8b8" stroke-width="0.5"/>
<polygon points="34.3,-1.7 33.5,2.6 23.8,7.2 17.8,3.8 16.5,-2.3 23.7,-6 29.1,-6.8" fill="#3e3e3e" opacity="0.7"/>
<polygon points="33.3,-2.7 32.5,1.6 22.8,6.2 16.8,2.8 15.5,-3.3 22.7,-7 28.1,-7.8" fill="url(#pg3)" stroke="#b8b8b8" stroke-width="0.5"/>
<polygon points="53.8,12.8 49,17.9 40.7,18.1 35.4,13.2 34.5,7.8 43.9,4.9 50.2,6.9" fill="#3e3e3e" opacity="0.7"/>
<polygon points="52.8,11.8 48,16.9 39.7,17.1 34.4,12.2 33.5,6.8 42.9,3.9 49.2,5.9" fill="url(#pg4)" stroke="#b8b8b8" stroke-width="0.5"/>
<polygon points="55.6,11.9 50,17.4 45.9,17 42.7,13.3 43.2,7.8 48.1,4.3 53.8,5.5" fill="#3e3e3e" opacity="0.7"/>
<polygon points="54.6,10.9 49,16.4 44.9,16 41.7,12.3 42.2,6.8 47.1,3.3 52.8,4.5" fill="url(#pg4)" stroke="#b8b8b8" stroke-width="0.5"/>
<polygon points="57.9,58.5 52.7,60.4 49.5,59.3 43.7,52.7 46.4,50.3 50.8,50.8 57.3,55.4" fill="#3e3e3e" opacity="0.7"/>
<polygon points="56.9,57.5 51.7,59.4 48.5,58.3 42.7,51.7 45.4,49.3 49.8,49.8 56.3,54.4" fill="url(#pg3)" stroke="#b8b8b8" stroke-width="0.5"/>
<polygon points="28.5,27.4 26.6,33.2 18.7,37.8 11.9,36.8 11.3,33 15.9,26.3 23,25.8" fill="#3e3e3e" opacity="0.7"/>
<polygon points="27.5,26.4 25.6,32.2 17.7,36.8 10.9,35.8 10.3,32 14.9,25.3 22,24.8" fill="url(#pg2)" stroke="#b8b8b8" stroke-width="0.5"/>
<polygon points="78.1,44.5 75.6,48.5 67,49.7 61,47 63.1,40 67.9,37.7 75.5,39.9" fill="#3e3e3e" opacity="0.7"/>
<polygon points="77.1,43.5 74.6,47.5 66,48.7 60,46 62.1,39 66.9,36.7 74.5,38.9" fill="url(#pg4)" stroke="#b8b8b8" stroke-width="0.5"/>
<polygon points="81.5,3.4 79.8,8.6 75.3,9.7 68.8,8 68,4.2 72.1,1.1 78.1,0.4" fill="#3e3e3e" opacity="0.7"/>
<polygon points="80.5,2.4 78.8,7.6 74.3,8.7 67.8,7 67,3.2 71.1,0.1 77.1,-0.6" fill="url(#pg3)" stroke="#b8b8b8" stroke-width="0.5"/>
<polygon points="45.6,24.3 40.6,26.9 34.9,25.7 28.1,20.3 32.2,16.3 35.3,16 42.8,19.6" fill="#3e3e3e" opacity="0.7"/>
<polygon points="44.6,23.3 39.6,25.9 33.9,24.7 27.1,19.3 31.2,15.3 34.3,15 41.8,18.6" fill="url(#pg2)" stroke="#b8b8b8" stroke-width="0.5"/>
<polygon points="48.4,27.6 48.4,32.6 44.1,37.3 36.1,38.8 33.7,36.1 37.2,30.7 43.4,27.8" fill="#3e3e3e" opacity="0.7"/>
<polygon points="47.4,26.6 47.4,31.6 43.1,36.3 35.1,37.8 32.7,35.1 36.2,29.7 42.4,26.8" fill="url(#pg3)" stroke="#b8b8b8" stroke-width="0.5"/>
<polygon points="31.9,25.4 28.3,27.7 20.4,26.7 16.9,22.7 17.9,20.4 21.6,18.8 30.8,22.8" fill="#3e3e3e" opacity="0.7"/>
<polygon points="30.9,24.4 27.3,26.7 19.4,25.7 15.9,21.7 16.9,19.4 20.6,17.8 29.8,21.8" fill="url(#pg4)" stroke="#b8b8b8" stroke-width="0.5"/>
<polygon points="83.7,15.5 81.1,16.8 74.8,14.6 71.1,7.7 73.2,3.8 80.4,5.2 84.5,9.3" fill="#3e3e3e" opacity="0.7"/>
<polygon points="82.7,14.5 80.1,15.8 73.8,13.6 70.1,6.7 72.2,2.8 79.4,4.2 83.5,8.3" fill="url(#pg2)" stroke="#b8b8b8" stroke-width="0.5"/>
<polygon points="66,30.6 65.6,33.5 57.6,35.9 52.9,35.7 51.5,31.2 55.1,28.7 64.6,28.6" fill="#3e3e3e" opacity="0.7"/>
<polygon points="65,29.6 64.6,32.5 56.6,34.9 51.9,34.7 50.5,30.2 54.1,27.7 63.6,27.6" fill="url(#pg3)" stroke="#b8b8b8" stroke-width="0.5"/>
<polygon points="73.6,35.2 71.3,39.5 65.2,41.7 57.4,40.1 57.6,36.1 62,32.3 68.8,32.2" fill="#3e3e3e" opacity="0.7"/>
<polygon points="72.6,34.2 70.3,38.5 64.2,40.7 56.4,39.1 56.6,35.1 61,31.3 67.8,31.2" fill="url(#pg4)" stroke="#b8b8b8" stroke-width="0.5"/>
<polygon points="61.3,29.8 58.1,37.1 48.9,38.9 44.3,36.9 43.5,31.7 48.7,26.9 55,26" fill="#3e3e3e" opacity="0.7"/>
<polygon points="60.3,28.8 57.1,36.1 47.9,37.9 43.3,35.9 42.5,30.7 47.7,25.9 54,25" fill="url(#pg3)" stroke="#b8b8b8" stroke-width="0.5"/>
<polygon points="83.3,59.2 82.5,62.3 74.3,66.8 66.4,64.6 66.3,59.1 69.5,56 78.1,53.7" fill="#3e3e3e" opacity="0.7"/>
<polygon points="82.3,58.2 81.5,61.3 73.3,65.8 65.4,63.6 65.3,58.1 68.5,55 77.1,52.7" fill="url(#pg3)" stroke="#b8b8b8" stroke-width="0.5"/>
<polygon points="59.9,49 59.3,51.7 48.9,54.7 44,53.4 43.6,49.1 50.1,46.6 56,45.2" fill="#3e3e3e" opacity="0.7"/>
<polygon points="58.9,48 58.3,50.7 47.9,53.7 43,52.4 42.6,48.1 49.1,45.6 55,44.2" fill="url(#pg4)" stroke="#b8b8b8" stroke-width="0.5"/>
<polygon points="39.3,49.7 38.9,57.8 33.7,61.3 26.1,60.3 23.9,54.4 27.4,49.6 34.1,47.7" fill="#3e3e3e" opacity="0.7"/>
<polygon points="38.3,48.7 37.9,56.8 32.7,60.3 25.1,59.3 22.9,53.4 26.4,48.6 33.1,46.7" fill="url(#pg2)" stroke="#b8b8b8" stroke-width="0.5"/>
<polygon points="53.8,2.4 53,6.3 47.3,9.7 39.7,10.2 39.5,5.2 44.5,1.7 50.2,-0.1" fill="#3e3e3e" opacity="0.7"/>
<polygon points="52.8,1.4 52,5.3 46.3,8.7 38.7,9.2 38.5,4.2 43.5,0.7 49.2,-1.1" fill="url(#pg2)" stroke="#b8b8b8" stroke-width="0.5"/>
<polygon points="18.3,17 15.1,21.1 11.6,21.1 7.4,18.7 7,12.8 11.5,8.2 17.2,10.4" fill="#3e3e3e" opacity="0.7"/>
<polygon points="17.3,16 14.1,20.1 10.6,20.1 6.4,17.7 6,11.8 10.5,7.2 16.2,9.4" fill="url(#pg4)" stroke="#b8b8b8" stroke-width="0.5"/>
<polygon points="86.2,31.8 83.3,34 76,31.2 72.1,25.1 74.2,21.1 79.4,22.2 85.3,26" fill="#3e3e3e" opacity="0.7"/>
<polygon points="85.2,30.8 82.3,33 75,30.2 71.1,24.1 73.2,20.1 78.4,21.2 84.3,25" fill="url(#pg2)" stroke="#b8b8b8" stroke-width="0.5"/>
<polygon points="10.7,1.1 11.5,5.3 6.6,10.9 2.6,11.6 -0.4,6 1.8,2.1 7.3,-0.8" fill="#3e3e3e" opacity="0.7"/>
<polygon points="9.7,0.1 10.5,4.3 5.6,9.9 1.6,10.6 -1.4,5 0.8,1.1 6.3,-1.8" fill="url(#pg3)" stroke="#b8b8b8" stroke-width="0.5"/>
<polygon points="69.8,32.5 68,35.5 63,36.3 60.2,32.9 61.3,26.5 65.7,24.1 69.3,25.4" fill="#3e3e3e" opacity="0.7"/>
<polygon points="68.8,31.5 67,34.5 62,35.3 59.2,31.9 60.3,25.5 64.7,23.1 68.3,24.4" fill="url(#pg4)" stroke="#b8b8b8" stroke-width="0.5"/>
<polygon points="43.8,30.3 43.6,36.6 37.4,40.6 29.6,39.4 28,34 32.4,29 38.9,28.1" fill="#3e3e3e" opacity="0.7"/>
<polygon points="42.8,29.3 42.6,35.6 36.4,39.6 28.6,38.4 27,33 31.4,28 37.9,27.1" fill="url(#pg2)" stroke="#b8b8b8" stroke-width="0.5"/>
<polygon points="24.8,51.1 21.6,54.6 14.3,52.8 11.1,46.1 14.4,42.8 19,43.6 24.8,46.5" fill="#3e3e3e" opacity="0.7"/>
<polygon points="23.8,50.1 20.6,53.6 13.3,51.8 10.1,45.1 13.4,41.8 18,42.6 23.8,45.5" fill="url(#pg4)" stroke="#b8b8b8" stroke-width="0.5"/>
<polygon points="38.1,35.7 36.6,41.1 31,42.1 28.2,39.3 28,32.7 31.1,30.2 35.7,31.3" fill="#3e3e3e" opacity="0.7"/>
<polygon points="37.1,34.7 35.6,40.1 30,41.1 27.2,38.3 27,31.7 30.1,29.2 34.7,30.3" fill="url(#pg2)" stroke="#b8b8b8" stroke-width="0.5"/>
<polygon points="14.4,55.1 12.6,58.4 8,61.8 0.1,61.6 -1.8,58.7 3.5,53.1 9,51.7" fill="#3e3e3e" opacity="0.7"/>
<polygon points="13.4,54.1 11.6,57.4 7,60.8 -0.9,60.6 -2.8,57.7 2.5,52.1 8,50.7" fill="url(#pg4)" stroke="#b8b8b8" stroke-width="0.5"/>
<polygon points="65.2,28.9 60.8,31.1 51.2,28.8 48.1,24.5 47.4,21.1 56,19.9 64.5,24.9" fill="#3e3e3e" opacity="0.7"/>
<polygon points="64.2,27.9 59.8,30.1 50.2,27.8 47.1,23.5 46.4,20.1 55,18.9 63.5,23.9" fill="url(#pg4)" stroke="#b8b8b8" stroke-width="0.5"/>
<polygon points="44,4.1 42.5,9.6 38.4,12.7 31.3,15.9 29.7,13.9 33.7,7.1 38.9,4.4" fill="#3e3e3e" opacity="0.7"/>
<polygon points="43,3.1 41.5,8.6 37.4,11.7 30.3,14.9 28.7,12.9 32.7,6.1 37.9,3.4" fill="url(#pg4)" stroke="#b8b8b8" stroke-width="0.5"/>
<polygon points="64.8,48.6 62.1,51.4 49.7,52.1 45,47.8 45.6,44.1 51.7,42.2 62.7,45.1" fill="#3e3e3e" opacity="0.7"/>
<polygon points="63.8,47.6 61.1,50.4 48.7,51.1 44,46.8 44.6,43.1 50.7,41.2 61.7,44.1" fill="url(#pg4)" stroke="#b8b8b8" stroke-width="0.5"/>
<polygon points="49,29.3 48.8,33.6 44.8,36.5 40.3,34.6 38,29.8 41.8,24.3 45.4,24.6" fill="#3e3e3e" opacity="0.7"/>
<polygon points="48,28.3 47.8,32.6 43.8,35.5 39.3,33.6 37,28.8 40.8,23.3 44.4,23.6" fill="url(#pg4)" stroke="#b8b8b8" stroke-width="0.5"/>
<polygon points="59.6,62.2 53.7,63.7 47.4,61.4 43.3,56.1 46,53.7 50.3,53.7 57.6,58.3" fill="#3e3e3e" opacity="0.7"/>
<polygon points="58.6,61.2 52.7,62.7 46.4,60.4 42.3,55.1 45,52.7 49.3,52.7 56.6,57.3" fill="url(#pg3)" stroke="#b8b8b8" stroke-width="0.5"/>
</g></svg>
<rect x="227.4" y="211.1" width="80.4" height="56.1" fill="none" stroke="#ee8a40" stroke-width="1.0"/>
<text x="231.6" y="225.7" font-family="'Liberation Serif', 'Times New Roman', serif" font-size="13" font-weight="bold" fill="#fff" text-anchor="start" >f</text>
<text x="268.2" y="221.6" font-family="'Liberation Serif', 'Times New Roman', serif" font-size="8.6" font-weight="normal" fill="#fff" text-anchor="start" >NLNMOF</text>
<rect x="229.5" y="262.2" width="31.9" height="1.6" fill="#fff"/>
<rect x="312.1" y="153.4" width="233.5" height="113.9" fill="#fff"/>
<svg x="312.6" y="153.9" width="77" height="55" viewBox="0 0 77 55" overflow="hidden">
<g filter="url(#soft)"><rect x="-2" y="-2" width="81" height="59" fill="#333333"/>
<ellipse cx="74.61" cy="55.76" rx="8.02" ry="3.29" transform="rotate(16.56 74.61 55.76)" fill="url(#pg2)" stroke="#1c1c1c" stroke-width="0.7"/>
<ellipse cx="28.23" cy="18.56" rx="7.27" ry="3.94" transform="rotate(-87.47 28.23 18.56)" fill="url(#pg2)" stroke="#1c1c1c" stroke-width="0.7"/>
<ellipse cx="72.64" cy="2.67" rx="8.42" ry="4.74" transform="rotate(-86.48 72.64 2.67)" fill="url(#pg2)" stroke="#1c1c1c" stroke-width="0.7"/>
<ellipse cx="26.51" cy="-0.37" rx="7.52" ry="5.06" transform="rotate(28.42 26.51 -0.37)" fill="url(#pg1)" stroke="#1c1c1c" stroke-width="0.7"/>
<ellipse cx="78.51" cy="18.86" rx="7.42" ry="4.29" transform="rotate(12.97 78.51 18.86)" fill="url(#pgL)" stroke="#1c1c1c" stroke-width="0.7"/>
<ellipse cx="44.7" cy="47.3" rx="4.8" ry="4.69" transform="rotate(52.47 44.7 47.3)" fill="url(#pg1)" stroke="#1c1c1c" stroke-width="0.7"/>
<ellipse cx="11.47" cy="7.25" rx="5.46" ry="5.86" transform="rotate(-54.79 11.47 7.25)" fill="url(#pgL)" stroke="#1c1c1c" stroke-width="0.7"/>
<ellipse cx="3" cy="22.85" rx="6.56" ry="6.29" transform="rotate(-39.5 3 22.85)" fill="url(#pgL)" stroke="#1c1c1c" stroke-width="0.7"/>
<ellipse cx="5.27" cy="52.71" rx="6.44" ry="6.13" transform="rotate(-8.15 5.27 52.71)" fill="url(#pg1)" stroke="#1c1c1c" stroke-width="0.7"/>
<ellipse cx="17.97" cy="2.75" rx="7.53" ry="5.48" transform="rotate(59.14 17.97 2.75)" fill="url(#pg1)" stroke="#1c1c1c" stroke-width="0.7"/>
<ellipse cx="23.9" cy="4.97" rx="7.35" ry="3.35" transform="rotate(-21.05 23.9 4.97)" fill="url(#pg2)" stroke="#1c1c1c" stroke-width="0.7"/>
<ellipse cx="78.88" cy="-0.48" rx="5.87" ry="3.08" transform="rotate(55.72 78.88 -0.48)" fill="url(#pgL)" stroke="#1c1c1c" stroke-width="0.7"/>
<ellipse cx="78.77" cy="46.71" rx="8.27" ry="4.89" transform="rotate(87.88 78.77 46.71)" fill="url(#pgL)" stroke="#1c1c1c" stroke-width="0.7"/>
<ellipse cx="25.42" cy="57.39" rx="5.7" ry="3.68" transform="rotate(-76.34 25.42 57.39)" fill="url(#pg2)" stroke="#1c1c1c" stroke-width="0.7"/>
<ellipse cx="42.6" cy="43.56" rx="6.07" ry="4.03" transform="rotate(-73.5 42.6 43.56)" fill="url(#pg1)" stroke="#1c1c1c" stroke-width="0.7"/>
<ellipse cx="54.7" cy="31.15" rx="5.07" ry="3.35" transform="rotate(-60.31 54.7 31.15)" fill="url(#pgL)" stroke="#1c1c1c" stroke-width="0.7"/>
<ellipse cx="33.8" cy="17.59" rx="8.02" ry="5.85" transform="rotate(71.13 33.8 17.59)" fill="url(#pg2)" stroke="#1c1c1c" stroke-width="0.7"/>
<ellipse cx="1.91" cy="56.52" rx="8.04" ry="5.61" transform="rotate(8.24 1.91 56.52)" fill="url(#pg2)" stroke="#1c1c1c" stroke-width="0.7"/>
<ellipse cx="30.82" cy="44.61" rx="6.51" ry="4.92" transform="rotate(58.78 30.82 44.61)" fill="url(#pgL)" stroke="#1c1c1c" stroke-width="0.7"/>
<ellipse cx="-1.85" cy="4.77" rx="8.34" ry="5.55" transform="rotate(-12.52 -1.85 4.77)" fill="url(#pg1)" stroke="#1c1c1c" stroke-width="0.7"/>
<ellipse cx="76.88" cy="0.95" rx="6.53" ry="4.9" transform="rotate(-47.69 76.88 0.95)" fill="url(#pg2)" stroke="#1c1c1c" stroke-width="0.7"/>
<ellipse cx="63.96" cy="58.26" rx="5.22" ry="4.18" transform="rotate(-85.74 63.96 58.26)" fill="url(#pg1)" stroke="#1c1c1c" stroke-width="0.7"/>
<ellipse cx="59.68" cy="21.31" rx="7.57" ry="3.11" transform="rotate(27.83 59.68 21.31)" fill="url(#pg2)" stroke="#1c1c1c" stroke-width="0.7"/>
<ellipse cx="77.15" cy="22.46" rx="5.25" ry="5.09" transform="rotate(88.56 77.15 22.46)" fill="url(#pg1)" stroke="#1c1c1c" stroke-width="0.7"/>
<ellipse cx="40.72" cy="14.76" rx="8.04" ry="3.3" transform="rotate(67.79 40.72 14.76)" fill="url(#pg2)" stroke="#1c1c1c" stroke-width="0.7"/>
<ellipse cx="28.07" cy="-2.88" rx="6.06" ry="4.44" transform="rotate(32.62 28.07 -2.88)" fill="url(#pg2)" stroke="#1c1c1c" stroke-width="0.7"/>
<ellipse cx="25.7" cy="15.04" rx="8.32" ry="4.19" transform="rotate(-20.24 25.7 15.04)" fill="url(#pg2)" stroke="#1c1c1c" stroke-width="0.7"/>
<ellipse cx="71.39" cy="38.08" rx="7.4" ry="6.09" transform="rotate(6.98 71.39 38.08)" fill="url(#pgL)" stroke="#1c1c1c" stroke-width="0.7"/>
<ellipse cx="28.64" cy="52.27" rx="8.45" ry="3.51" transform="rotate(-23.21 28.64 52.27)" fill="url(#pg2)" stroke="#1c1c1c" stroke-width="0.7"/>
<ellipse cx="80.13" cy="13.48" rx="7.46" ry="3.03" transform="rotate(-83.33 80.13 13.48)" fill="url(#pgL)" stroke="#1c1c1c" stroke-width="0.7"/>
<ellipse cx="17.05" cy="57.9" rx="6.85" ry="3.15" transform="rotate(55.29 17.05 57.9)" fill="url(#pgL)" stroke="#1c1c1c" stroke-width="0.7"/>
<ellipse cx="13.04" cy="31.61" rx="6.8" ry="5.73" transform="rotate(-57.54 13.04 31.61)" fill="url(#pg2)" stroke="#1c1c1c" stroke-width="0.7"/>
<ellipse cx="47.92" cy="18.75" rx="8.44" ry="5.19" transform="rotate(35.35 47.92 18.75)" fill="url(#pg1)" stroke="#1c1c1c" stroke-width="0.7"/>
<ellipse cx="-0.51" cy="3.58" rx="7.36" ry="6.45" transform="rotate(-65.5 -0.51 3.58)" fill="url(#pg1)" stroke="#1c1c1c" stroke-width="0.7"/>
<ellipse cx="75.24" cy="14.56" rx="8.03" ry="4.03" transform="rotate(53.08 75.24 14.56)" fill="url(#pgL)" stroke="#1c1c1c" stroke-width="0.7"/>
<ellipse cx="65.84" cy="33.98" rx="6.66" ry="4.14" transform="rotate(-65.86 65.84 33.98)" fill="url(#pgL)" stroke="#1c1c1c" stroke-width="0.7"/>
<ellipse cx="9.6" cy="9.5" rx="8.35" ry="6.47" transform="rotate(46.35 9.6 9.5)" fill="url(#pg1)" stroke="#1c1c1c" stroke-width="0.7"/>
<ellipse cx="41.33" cy="50.12" rx="5.96" ry="4.27" transform="rotate(27.22 41.33 50.12)" fill="url(#pgL)" stroke="#1c1c1c" stroke-width="0.7"/>
<ellipse cx="34.8" cy="37.56" rx="8.3" ry="5.23" transform="rotate(-25.81 34.8 37.56)" fill="url(#pgL)" stroke="#1c1c1c" stroke-width="0.7"/>
<ellipse cx="66.64" cy="-1.51" rx="5.78" ry="5.53" transform="rotate(46.49 66.64 -1.51)" fill="url(#pg1)" stroke="#1c1c1c" stroke-width="0.7"/>
<ellipse cx="13.9" cy="21.63" rx="4.26" ry="4.1" transform="rotate(-13.07 13.9 21.63)" fill="url(#pg1)" stroke="#1c1c1c" stroke-width="0.7"/>
<ellipse cx="46.09" cy="22.11" rx="5.11" ry="4.1" transform="rotate(30.74 46.09 22.11)" fill="url(#pg2)" stroke="#1c1c1c" stroke-width="0.7"/>
<ellipse cx="65.57" cy="21.12" rx="5.65" ry="4.74" transform="rotate(-87.06 65.57 21.12)" fill="url(#pg2)" stroke="#1c1c1c" stroke-width="0.7"/>
<ellipse cx="65.17" cy="7.45" rx="5.98" ry="3.67" transform="rotate(49.18 65.17 7.45)" fill="url(#pgL)" stroke="#1c1c1c" stroke-width="0.7"/>
<ellipse cx="34.79" cy="-3.8" rx="6.87" ry="3.89" transform="rotate(42.67 34.79 -3.8)" fill="url(#pg2)" stroke="#1c1c1c" stroke-width="0.7"/>
<ellipse cx="29.2" cy="57.41" rx="7.33" ry="5.48" transform="rotate(30.32 29.2 57.41)" fill="url(#pgL)" stroke="#1c1c1c" stroke-width="0.7"/>
<ellipse cx="57.13" cy="5.05" rx="8.43" ry="5.63" transform="rotate(56.09 57.13 5.05)" fill="url(#pg2)" stroke="#1c1c1c" stroke-width="0.7"/>
<ellipse cx="42.11" cy="3.64" rx="4.3" ry="4.66" transform="rotate(-63.8 42.11 3.64)" fill="url(#pgL)" stroke="#1c1c1c" stroke-width="0.7"/>
<ellipse cx="5.98" cy="-2.88" rx="6.34" ry="3.73" transform="rotate(26.2 5.98 -2.88)" fill="url(#pgL)" stroke="#1c1c1c" stroke-width="0.7"/>
<ellipse cx="62.55" cy="15.67" rx="7.17" ry="4.51" transform="rotate(74.2 62.55 15.67)" fill="url(#pgL)" stroke="#1c1c1c" stroke-width="0.7"/>
<ellipse cx="24.75" cy="42.56" rx="4.99" ry="5.34" transform="rotate(51.76 24.75 42.56)" fill="url(#pg1)" stroke="#1c1c1c" stroke-width="0.7"/>
<ellipse cx="1.38" cy="45.18" rx="4.63" ry="6.24" transform="rotate(35.38 1.38 45.18)" fill="url(#pgL)" stroke="#1c1c1c" stroke-width="0.7"/>
<ellipse cx="78.42" cy="2.98" rx="7.72" ry="3.28" transform="rotate(-75.37 78.42 2.98)" fill="url(#pgL)" stroke="#1c1c1c" stroke-width="0.7"/>
<ellipse cx="57.19" cy="56.3" rx="6.84" ry="4.79" transform="rotate(-41.03 57.19 56.3)" fill="url(#pg2)" stroke="#1c1c1c" stroke-width="0.7"/>
<ellipse cx="80.36" cy="36.74" rx="7.94" ry="3.69" transform="rotate(42.29 80.36 36.74)" fill="url(#pgL)" stroke="#1c1c1c" stroke-width="0.7"/>
<ellipse cx="51.84" cy="4.3" rx="7.76" ry="4.71" transform="rotate(42.56 51.84 4.3)" fill="url(#pg1)" stroke="#1c1c1c" stroke-width="0.7"/>
<ellipse cx="18.1" cy="54.37" rx="6.7" ry="4.35" transform="rotate(-81.8 18.1 54.37)" fill="url(#pg2)" stroke="#1c1c1c" stroke-width="0.7"/>
<ellipse cx="63.83" cy="36.09" rx="4.63" ry="5.79" transform="rotate(-26.3 63.83 36.09)" fill="url(#pg2)" stroke="#1c1c1c" stroke-width="0.7"/>
<ellipse cx="-3.29" cy="27.29" rx="6.05" ry="4" transform="rotate(39.26 -3.29 27.29)" fill="url(#pgL)" stroke="#1c1c1c" stroke-width="0.7"/>
<ellipse cx="66.75" cy="9.1" rx="7.62" ry="5.78" transform="rotate(-64.27 66.75 9.1)" fill="url(#pg1)" stroke="#1c1c1c" stroke-width="0.7"/>
<ellipse cx="65.72" cy="38.16" rx="4.5" ry="5.93" transform="rotate(45.39 65.72 38.16)" fill="url(#pg1)" stroke="#1c1c1c" stroke-width="0.7"/>
<ellipse cx="64.81" cy="28.9" rx="6.42" ry="5.08" transform="rotate(77.78 64.81 28.9)" fill="url(#pg1)" stroke="#1c1c1c" stroke-width="0.7"/>
<ellipse cx="67.33" cy="12.77" rx="6.7" ry="5.88" transform="rotate(39.27 67.33 12.77)" fill="url(#pg1)" stroke="#1c1c1c" stroke-width="0.7"/>
<ellipse cx="5.79" cy="23.11" rx="4.29" ry="5.37" transform="rotate(-21.89 5.79 23.11)" fill="url(#pgL)" stroke="#1c1c1c" stroke-width="0.7"/>
<ellipse cx="61.3" cy="2.25" rx="5.11" ry="4.29" transform="rotate(69.33 61.3 2.25)" fill="url(#pg2)" stroke="#1c1c1c" stroke-width="0.7"/>
<ellipse cx="14.45" cy="31.2" rx="7.57" ry="4.17" transform="rotate(11.48 14.45 31.2)" fill="url(#pgL)" stroke="#1c1c1c" stroke-width="0.7"/>
<ellipse cx="61.95" cy="42.38" rx="4.69" ry="4.97" transform="rotate(24.65 61.95 42.38)" fill="url(#pgL)" stroke="#1c1c1c" stroke-width="0.7"/>
<ellipse cx="33.97" cy="-0.64" rx="8.17" ry="3.93" transform="rotate(42.92 33.97 -0.64)" fill="url(#pg2)" stroke="#1c1c1c" stroke-width="0.7"/>
<ellipse cx="56" cy="38.43" rx="5.35" ry="5.81" transform="rotate(73.9 56 38.43)" fill="url(#pgL)" stroke="#1c1c1c" stroke-width="0.7"/>
<ellipse cx="30.32" cy="37.99" rx="5.69" ry="5.56" transform="rotate(-58.64 30.32 37.99)" fill="url(#pgL)" stroke="#1c1c1c" stroke-width="0.7"/>
<ellipse cx="-1.98" cy="50.08" rx="7.5" ry="5.43" transform="rotate(-70.94 -1.98 50.08)" fill="url(#pgL)" stroke="#1c1c1c" stroke-width="0.7"/>
<ellipse cx="76.49" cy="35.92" rx="8.16" ry="3.5" transform="rotate(-36.31 76.49 35.92)" fill="url(#pgL)" stroke="#1c1c1c" stroke-width="0.7"/>
<ellipse cx="40.43" cy="56.03" rx="6.86" ry="5.17" transform="rotate(21.83 40.43 56.03)" fill="url(#pg2)" stroke="#1c1c1c" stroke-width="0.7"/>
<ellipse cx="53.39" cy="7.2" rx="5.21" ry="5.54" transform="rotate(40.85 53.39 7.2)" fill="url(#pgL)" stroke="#1c1c1c" stroke-width="0.7"/>
<ellipse cx="71.79" cy="45.57" rx="6.47" ry="6.08" transform="rotate(-3.66 71.79 45.57)" fill="url(#pgL)" stroke="#1c1c1c" stroke-width="0.7"/>
<ellipse cx="62.34" cy="37.9" rx="7.81" ry="3.96" transform="rotate(-69.07 62.34 37.9)" fill="url(#pg1)" stroke="#1c1c1c" stroke-width="0.7"/>
<ellipse cx="72.75" cy="19.01" rx="8.03" ry="5.91" transform="rotate(18.44 72.75 19.01)" fill="url(#pgL)" stroke="#1c1c1c" stroke-width="0.7"/>
<ellipse cx="17.76" cy="54.39" rx="8.38" ry="5.41" transform="rotate(86.64 17.76 54.39)" fill="url(#pg1)" stroke="#1c1c1c" stroke-width="0.7"/>
<ellipse cx="37.8" cy="16.25" rx="7.47" ry="4.43" transform="rotate(-23.37 37.8 16.25)" fill="url(#pg1)" stroke="#1c1c1c" stroke-width="0.7"/>
<ellipse cx="45.99" cy="49.55" rx="4.23" ry="4.31" transform="rotate(-33.32 45.99 49.55)" fill="url(#pgL)" stroke="#1c1c1c" stroke-width="0.7"/>
<ellipse cx="1.53" cy="4.03" rx="4.83" ry="6.04" transform="rotate(-38.87 1.53 4.03)" fill="url(#pg1)" stroke="#1c1c1c" stroke-width="0.7"/>
<ellipse cx="26.19" cy="2.37" rx="7.01" ry="4.16" transform="rotate(12.81 26.19 2.37)" fill="url(#pg2)" stroke="#1c1c1c" stroke-width="0.7"/>
<ellipse cx="73.98" cy="58.95" rx="4.92" ry="4.98" transform="rotate(-18.58 73.98 58.95)" fill="url(#pgL)" stroke="#1c1c1c" stroke-width="0.7"/>
<ellipse cx="80.23" cy="-1.67" rx="6.95" ry="3.57" transform="rotate(25.29 80.23 -1.67)" fill="url(#pgL)" stroke="#1c1c1c" stroke-width="0.7"/>
<ellipse cx="66.09" cy="30.09" rx="6.88" ry="3.15" transform="rotate(-4.06 66.09 30.09)" fill="url(#pgL)" stroke="#1c1c1c" stroke-width="0.7"/>
<ellipse cx="73.65" cy="49.44" rx="5.98" ry="3.8" transform="rotate(69.4 73.65 49.44)" fill="url(#pg1)" stroke="#1c1c1c" stroke-width="0.7"/>
<ellipse cx="55.84" cy="13.67" rx="7.59" ry="3.68" transform="rotate(-34.54 55.84 13.67)" fill="url(#pg2)" stroke="#1c1c1c" stroke-width="0.7"/>
<ellipse cx="45.92" cy="43.79" rx="7.63" ry="3.9" transform="rotate(4.03 45.92 43.79)" fill="url(#pg1)" stroke="#1c1c1c" stroke-width="0.7"/>
<ellipse cx="68.11" cy="58.46" rx="5.9" ry="3.7" transform="rotate(37.77 68.11 58.46)" fill="url(#pg2)" stroke="#1c1c1c" stroke-width="0.7"/>
<ellipse cx="78.76" cy="50.73" rx="4.54" ry="5.58" transform="rotate(-41.15 78.76 50.73)" fill="url(#pgL)" stroke="#1c1c1c" stroke-width="0.7"/>
<ellipse cx="66.7" cy="10.18" rx="5.08" ry="5.23" transform="rotate(-37.06 66.7 10.18)" fill="url(#pg1)" stroke="#1c1c1c" stroke-width="0.7"/>
<ellipse cx="31.25" cy="56.72" rx="5.85" ry="3.69" transform="rotate(84.44 31.25 56.72)" fill="url(#pg1)" stroke="#1c1c1c" stroke-width="0.7"/>
<ellipse cx="2.05" cy="-2.74" rx="4.82" ry="3.14" transform="rotate(13.29 2.05 -2.74)" fill="url(#pg2)" stroke="#1c1c1c" stroke-width="0.7"/>
<ellipse cx="55.46" cy="32.31" rx="7.94" ry="5.68" transform="rotate(69.59 55.46 32.31)" fill="url(#pg1)" stroke="#1c1c1c" stroke-width="0.7"/>
<ellipse cx="18.95" cy="44.64" rx="4.6" ry="3.33" transform="rotate(-55.14 18.95 44.64)" fill="url(#pgL)" stroke="#1c1c1c" stroke-width="0.7"/>
<ellipse cx="80.93" cy="55.5" rx="7.82" ry="5.43" transform="rotate(-10.76 80.93 55.5)" fill="url(#pgL)" stroke="#1c1c1c" stroke-width="0.7"/>
<ellipse cx="38.21" cy="28.02" rx="7.65" ry="3.16" transform="rotate(-81.84 38.21 28.02)" fill="url(#pg1)" stroke="#1c1c1c" stroke-width="0.7"/>
<ellipse cx="-3.4" cy="27.86" rx="6.81" ry="5.97" transform="rotate(-89.88 -3.4 27.86)" fill="url(#pg2)" stroke="#1c1c1c" stroke-width="0.7"/>
<ellipse cx="16.56" cy="34.32" rx="6.98" ry="4.16" transform="rotate(77.34 16.56 34.32)" fill="url(#pg1)" stroke="#1c1c1c" stroke-width="0.7"/>
<ellipse cx="37.41" cy="1.52" rx="7.57" ry="5.95" transform="rotate(36.17 37.41 1.52)" fill="url(#pgL)" stroke="#1c1c1c" stroke-width="0.7"/>
<ellipse cx="50.13" cy="37.81" rx="7.37" ry="4.03" transform="rotate(45.75 50.13 37.81)" fill="url(#pg2)" stroke="#1c1c1c" stroke-width="0.7"/>
<ellipse cx="16.46" cy="53.03" rx="4.25" ry="6.04" transform="rotate(-18.58 16.46 53.03)" fill="url(#pg2)" stroke="#1c1c1c" stroke-width="0.7"/>
<ellipse cx="54.73" cy="52.86" rx="4.99" ry="3.33" transform="rotate(2.19 54.73 52.86)" fill="url(#pg1)" stroke="#1c1c1c" stroke-width="0.7"/>
<ellipse cx="13.16" cy="39.73" rx="6.44" ry="4.57" transform="rotate(29.58 13.16 39.73)" fill="url(#pg2)" stroke="#1c1c1c" stroke-width="0.7"/>
<ellipse cx="18.66" cy="20.46" rx="4.43" ry="5.82" transform="rotate(72.28 18.66 20.46)" fill="url(#pgL)" stroke="#1c1c1c" stroke-width="0.7"/>
<ellipse cx="25.01" cy="56.4" rx="6.4" ry="4.34" transform="rotate(37.07 25.01 56.4)" fill="url(#pgL)" stroke="#1c1c1c" stroke-width="0.7"/>
<ellipse cx="76.39" cy="8.87" rx="4.7" ry="3.49" transform="rotate(7.48 76.39 8.87)" fill="url(#pgL)" stroke="#1c1c1c" stroke-width="0.7"/>
<ellipse cx="58.83" cy="56.3" rx="8.38" ry="3.55" transform="rotate(40.97 58.83 56.3)" fill="url(#pgL)" stroke="#1c1c1c" stroke-width="0.7"/>
<ellipse cx="-0.13" cy="52.2" rx="5.93" ry="5" transform="rotate(74.02 -0.13 52.2)" fill="url(#pg1)" stroke="#1c1c1c" stroke-width="0.7"/>
<ellipse cx="35.05" cy="53.83" rx="6.62" ry="4.95" transform="rotate(39.47 35.05 53.83)" fill="url(#pg1)" stroke="#1c1c1c" stroke-width="0.7"/>
</g></svg>
<text x="317.2" y="166.5" font-family="'Liberation Serif', 'Times New Roman', serif" font-size="13" font-weight="bold" fill="#fff" text-anchor="start" >g</text>
<svg x="312.6" y="211.4" width="77" height="55.4" viewBox="0 0 77 55.4" overflow="hidden">
<rect x="0" y="0" width="77" height="55.4" fill="#000"/>
<rect x="0" y="0" width="77" height="55.4" fill="#1ebcc4" mask="url(#edsMask_Na)"/>
</svg>
<text x="317.7" y="227.5" font-family="'Liberation Serif', 'Times New Roman', serif" font-size="13" font-weight="bold" fill="#fff" text-anchor="start" >h</text>
<text x="373.6" y="262.9" font-family="'Liberation Serif', 'Times New Roman', serif" font-size="10" font-weight="normal" fill="#fff" text-anchor="start" >Na</text>
<rect x="315" y="261.2" width="26.5" height="1.6" fill="#fff"/>
<svg x="391.4" y="153.9" width="74" height="55" viewBox="0 0 74 55" overflow="hidden">
<rect x="0" y="0" width="74" height="55" fill="#000"/>
<rect x="0" y="0" width="74" height="55" fill="#c41ec4" mask="url(#edsMask_Mn)"/>
</svg>
<text x="394.8" y="167.5" font-family="'Liberation Serif', 'Times New Roman', serif" font-size="13" font-weight="bold" fill="#fff" text-anchor="start" >i</text>
<text x="449.4" y="204.2" font-family="'Liberation Serif', 'Times New Roman', serif" font-size="10" font-weight="normal" fill="#fff" text-anchor="start" >Mn</text>
<rect x="395.9" y="203.8" width="25.9" height="1.6" fill="#fff"/>
<svg x="391.4" y="211.4" width="74" height="55.4" viewBox="0 0 74 55.4" overflow="hidden">
<rect x="0" y="0" width="74" height="55.4" fill="#000"/>
<rect x="0" y="0" width="74" height="55.4" fill="#c4bc10" mask="url(#edsMask_Ni)"/>
</svg>
<text x="395.6" y="227.3" font-family="'Liberation Serif', 'Times New Roman', serif" font-size="13" font-weight="bold" fill="#fff" text-anchor="start" >j</text>
<text x="453.8" y="263.1" font-family="'Liberation Serif', 'Times New Roman', serif" font-size="10" font-weight="normal" fill="#fff" text-anchor="start" >Ni</text>
<rect x="397.8" y="261.7" width="25.5" height="1.6" fill="#fff"/>
<svg x="467.7" y="153.9" width="77.3" height="55" viewBox="0 0 77.3 55" overflow="hidden">
<rect x="0" y="0" width="77.3" height="55" fill="#000"/>
<rect x="0" y="0" width="77.3" height="55" fill="#26dc26" mask="url(#edsMask_O)"/>
</svg>
<text x="473.6" y="168" font-family="'Liberation Serif', 'Times New Roman', serif" font-size="13" font-weight="bold" fill="#fff" text-anchor="start" >k</text>
<text x="530" y="204.3" font-family="'Liberation Serif', 'Times New Roman', serif" font-size="10" font-weight="normal" fill="#fff" text-anchor="start" >O</text>
<rect x="473" y="204.2" width="25.9" height="1.6" fill="#fff"/>
<svg x="467.7" y="211.4" width="77.3" height="55.4" viewBox="0 0 77.3 55.4" overflow="hidden">
<rect x="0" y="0" width="77.3" height="55.4" fill="#000"/>
<rect x="0" y="0" width="77.3" height="55.4" fill="#e68410" mask="url(#edsMask_F)"/>
</svg>
<text x="472.6" y="227.3" font-family="'Liberation Serif', 'Times New Roman', serif" font-size="13" font-weight="bold" fill="#fff" text-anchor="start" >l</text>
<text x="530.8" y="262.6" font-family="'Liberation Serif', 'Times New Roman', serif" font-size="10" font-weight="normal" fill="#fff" text-anchor="start" >F</text>
<rect x="472.9" y="262.5" width="26.1" height="1.6" fill="#fff"/>
<rect x="312.1" y="153.4" width="233.5" height="113.9" fill="none" stroke="#ee8a40" stroke-width="1.0"/>
</svg></body></html>
